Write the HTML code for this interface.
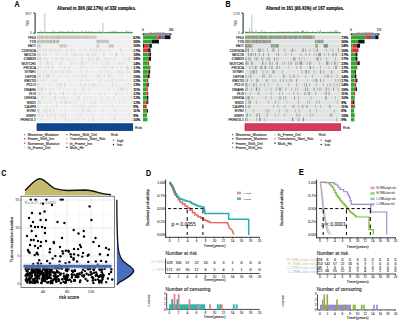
<!DOCTYPE html>
<html><head><meta charset="utf-8"><style>
html,body{margin:0;padding:0;background:#fff;}
svg{display:block;}
text{font-family:"Liberation Sans",sans-serif;}
</style></head><body>
<svg width="400" height="321" viewBox="0 0 400 321">
<rect width="400" height="321" fill="#fff"/>
<text x="57.00" y="9.70" font-size="4.7" text-anchor="start" font-weight="bold" fill="#000" stroke="#000" stroke-width="0.12" textLength="79" lengthAdjust="spacingAndGlyphs" >Altered in 306 (92.17%) of 332 samples.</text>
<line x1="35.10" y1="13.10" x2="35.10" y2="33.20" stroke="#000" stroke-width="0.9" />
<line x1="33.30" y1="13.10" x2="35.10" y2="13.10" stroke="#000" stroke-width="0.8" />
<line x1="33.30" y1="33.20" x2="35.10" y2="33.20" stroke="#000" stroke-width="0.8" />
<text x="31.70" y="14.60" font-size="2.9" text-anchor="end" font-weight="normal" fill="#666" stroke="#666" stroke-width="0.08" >3877</text>
<text x="31.70" y="34.20" font-size="2.6" text-anchor="end" font-weight="normal" fill="#666" stroke="#666" stroke-width="0.08" >0</text>
<text x="29.40" y="23.40" font-size="3.0" text-anchor="middle" font-weight="normal" fill="#666" stroke="#666" stroke-width="0.08" transform="rotate(-90 29.4 23.4)">TMB</text>
<path d="M37.00,33.1v-0.79h0.29v0.79zM37.29,33.1v-1.18h0.29v1.18zM37.58,33.1v-1.04h0.29v1.04zM37.86,33.1v-0.47h0.29v0.47zM38.15,33.1v-0.44h0.29v0.44zM38.44,33.1v-0.48h0.29v0.48zM38.73,33.1v-0.91h0.29v0.91zM39.02,33.1v-0.55h0.29v0.55zM39.31,33.1v-1.15h0.29v1.15zM39.59,33.1v-1.09h0.29v1.09zM39.88,33.1v-3.00h0.29v3.00zM40.17,33.1v-0.75h0.29v0.75zM40.46,33.1v-0.54h0.29v0.54zM40.75,33.1v-1.38h0.29v1.38zM41.04,33.1v-1.10h0.29v1.10zM41.32,33.1v-0.85h0.29v0.85zM41.61,33.1v-2.09h0.29v2.09zM41.90,33.1v-1.22h0.29v1.22zM42.19,33.1v-0.78h0.29v0.78zM42.48,33.1v-0.94h0.29v0.94zM42.77,33.1v-1.35h0.29v1.35zM43.05,33.1v-0.69h0.29v0.69zM43.34,33.1v-1.03h0.29v1.03zM43.63,33.1v-1.28h0.29v1.28zM43.92,33.1v-1.58h0.29v1.58zM44.21,33.1v-0.90h0.29v0.90zM44.49,33.1v-0.58h0.29v0.58zM44.78,33.1v-0.45h0.29v0.45zM45.07,33.1v-1.32h0.29v1.32zM45.36,33.1v-1.45h0.29v1.45zM45.65,33.1v-1.23h0.29v1.23zM45.94,33.1v-1.10h0.29v1.10zM46.22,33.1v-1.41h0.29v1.41zM46.51,33.1v-0.97h0.29v0.97zM46.80,33.1v-0.47h0.29v0.47zM47.09,33.1v-1.18h0.29v1.18zM47.38,33.1v-1.39h0.29v1.39zM47.67,33.1v-0.86h0.29v0.86zM47.95,33.1v-0.43h0.29v0.43zM48.24,33.1v-0.60h0.29v0.60zM48.53,33.1v-0.47h0.29v0.47zM48.82,33.1v-0.56h0.29v0.56zM49.11,33.1v-0.87h0.29v0.87zM49.39,33.1v-0.50h0.29v0.50zM49.68,33.1v-1.06h0.29v1.06zM49.97,33.1v-1.38h0.29v1.38zM50.26,33.1v-0.73h0.29v0.73zM50.55,33.1v-0.83h0.29v0.83zM50.84,33.1v-1.55h0.29v1.55zM51.12,33.1v-0.61h0.29v0.61zM51.41,33.1v-0.68h0.29v0.68zM51.70,33.1v-1.11h0.29v1.11zM51.99,33.1v-0.40h0.29v0.40zM52.28,33.1v-0.84h0.29v0.84zM52.57,33.1v-1.54h0.29v1.54zM52.85,33.1v-1.02h0.29v1.02zM53.14,33.1v-3.06h0.29v3.06zM53.43,33.1v-1.34h0.29v1.34zM53.72,33.1v-1.36h0.29v1.36zM54.01,33.1v-0.88h0.29v0.88zM54.30,33.1v-1.16h0.29v1.16zM54.58,33.1v-0.48h0.29v0.48zM54.87,33.1v-0.59h0.29v0.59zM55.16,33.1v-2.01h0.29v2.01zM55.45,33.1v-0.52h0.29v0.52zM55.74,33.1v-0.43h0.29v0.43zM56.02,33.1v-1.14h0.29v1.14zM56.31,33.1v-0.70h0.29v0.70zM56.60,33.1v-0.84h0.29v0.84zM56.89,33.1v-1.42h0.29v1.42zM57.18,33.1v-0.96h0.29v0.96zM57.47,33.1v-0.50h0.29v0.50zM57.75,33.1v-0.81h0.29v0.81zM58.04,33.1v-1.39h0.29v1.39zM58.33,33.1v-0.43h0.29v0.43zM58.62,33.1v-1.03h0.29v1.03zM58.91,33.1v-2.54h0.29v2.54zM59.20,33.1v-1.57h0.29v1.57zM59.48,33.1v-1.24h0.29v1.24zM59.77,33.1v-0.84h0.29v0.84zM60.06,33.1v-1.33h0.29v1.33zM60.35,33.1v-1.33h0.29v1.33zM60.64,33.1v-0.67h0.29v0.67zM60.92,33.1v-1.58h0.29v1.58zM61.21,33.1v-1.37h0.29v1.37zM61.50,33.1v-1.29h0.29v1.29zM61.79,33.1v-1.02h0.29v1.02zM62.08,33.1v-2.19h0.29v2.19zM62.37,33.1v-0.71h0.29v0.71zM62.65,33.1v-1.55h0.29v1.55zM62.94,33.1v-1.52h0.29v1.52zM63.23,33.1v-1.55h0.29v1.55zM63.52,33.1v-0.66h0.29v0.66zM63.81,33.1v-0.64h0.29v0.64zM64.10,33.1v-1.15h0.29v1.15zM64.38,33.1v-1.41h0.29v1.41zM64.67,33.1v-1.18h0.29v1.18zM64.96,33.1v-0.50h0.29v0.50zM65.25,33.1v-1.49h0.29v1.49zM65.54,33.1v-1.30h0.29v1.30zM65.83,33.1v-0.61h0.29v0.61zM66.11,33.1v-0.80h0.29v0.80zM66.40,33.1v-1.57h0.29v1.57zM66.69,33.1v-0.88h0.29v0.88zM66.98,33.1v-1.27h0.29v1.27zM67.27,33.1v-0.55h0.29v0.55zM67.55,33.1v-1.49h0.29v1.49zM67.84,33.1v-0.58h0.29v0.58zM68.13,33.1v-1.58h0.29v1.58zM68.42,33.1v-0.82h0.29v0.82zM68.71,33.1v-3.16h0.29v3.16zM69.00,33.1v-1.18h0.29v1.18zM69.28,33.1v-1.52h0.29v1.52zM69.57,33.1v-1.45h0.29v1.45zM69.86,33.1v-0.65h0.29v0.65zM70.15,33.1v-0.75h0.29v0.75zM70.44,33.1v-1.10h0.29v1.10zM70.73,33.1v-0.90h0.29v0.90zM71.01,33.1v-1.49h0.29v1.49zM71.30,33.1v-0.95h0.29v0.95zM71.59,33.1v-1.49h0.29v1.49zM71.88,33.1v-1.50h0.29v1.50zM72.17,33.1v-1.04h0.29v1.04zM72.46,33.1v-0.42h0.29v0.42zM72.74,33.1v-2.92h0.29v2.92zM73.03,33.1v-0.61h0.29v0.61zM73.32,33.1v-1.27h0.29v1.27zM73.61,33.1v-0.79h0.29v0.79zM73.90,33.1v-1.07h0.29v1.07zM74.18,33.1v-0.53h0.29v0.53zM74.47,33.1v-0.70h0.29v0.70zM74.76,33.1v-1.33h0.29v1.33zM75.05,33.1v-1.07h0.29v1.07zM75.34,33.1v-1.49h0.29v1.49zM75.63,33.1v-1.14h0.29v1.14zM75.91,33.1v-1.01h0.29v1.01zM76.20,33.1v-0.94h0.29v0.94zM76.49,33.1v-0.97h0.29v0.97zM76.78,33.1v-1.24h0.29v1.24zM77.07,33.1v-1.53h0.29v1.53zM77.36,33.1v-1.07h0.29v1.07zM77.64,33.1v-1.41h0.29v1.41zM77.93,33.1v-0.55h0.29v0.55zM78.22,33.1v-0.49h0.29v0.49zM78.51,33.1v-0.49h0.29v0.49zM78.80,33.1v-1.34h0.29v1.34zM79.08,33.1v-0.59h0.29v0.59zM79.37,33.1v-1.19h0.29v1.19zM79.66,33.1v-1.46h0.29v1.46zM79.95,33.1v-0.66h0.29v0.66zM80.24,33.1v-0.88h0.29v0.88zM80.53,33.1v-1.59h0.29v1.59zM80.81,33.1v-0.59h0.29v0.59zM81.10,33.1v-1.02h0.29v1.02zM81.39,33.1v-0.63h0.29v0.63zM81.68,33.1v-2.58h0.29v2.58zM81.97,33.1v-2.26h0.29v2.26zM82.26,33.1v-1.15h0.29v1.15zM82.54,33.1v-0.48h0.29v0.48zM82.83,33.1v-1.35h0.29v1.35zM83.12,33.1v-0.53h0.29v0.53zM83.41,33.1v-0.45h0.29v0.45zM83.70,33.1v-0.72h0.29v0.72zM83.99,33.1v-0.91h0.29v0.91zM84.27,33.1v-1.38h0.29v1.38zM84.56,33.1v-0.58h0.29v0.58zM84.85,33.1v-1.08h0.29v1.08zM85.14,33.1v-2.76h0.29v2.76zM85.43,33.1v-0.91h0.29v0.91zM85.71,33.1v-1.53h0.29v1.53zM86.00,33.1v-1.36h0.29v1.36zM86.29,33.1v-1.43h0.29v1.43zM86.58,33.1v-1.44h0.29v1.44zM86.87,33.1v-0.81h0.29v0.81zM87.16,33.1v-1.51h0.29v1.51zM87.44,33.1v-0.56h0.29v0.56zM87.73,33.1v-0.69h0.29v0.69zM88.02,33.1v-2.08h0.29v2.08zM88.31,33.1v-0.77h0.29v0.77zM88.60,33.1v-1.31h0.29v1.31zM88.89,33.1v-1.00h0.29v1.00zM89.17,33.1v-2.15h0.29v2.15zM89.46,33.1v-0.42h0.29v0.42zM89.75,33.1v-1.06h0.29v1.06zM90.04,33.1v-0.97h0.29v0.97zM90.33,33.1v-0.53h0.29v0.53zM90.62,33.1v-0.92h0.29v0.92zM90.90,33.1v-1.40h0.29v1.40zM91.19,33.1v-1.01h0.29v1.01zM91.48,33.1v-1.58h0.29v1.58zM91.77,33.1v-1.40h0.29v1.40zM92.06,33.1v-1.16h0.29v1.16zM92.34,33.1v-1.98h0.29v1.98zM92.63,33.1v-0.48h0.29v0.48zM92.92,33.1v-0.71h0.29v0.71zM93.21,33.1v-0.50h0.29v0.50zM93.50,33.1v-1.44h0.29v1.44zM93.79,33.1v-0.74h0.29v0.74zM94.07,33.1v-0.75h0.29v0.75zM94.36,33.1v-0.59h0.29v0.59zM94.65,33.1v-0.72h0.29v0.72zM94.94,33.1v-1.57h0.29v1.57zM95.23,33.1v-0.69h0.29v0.69zM95.52,33.1v-0.77h0.29v0.77zM95.80,33.1v-0.40h0.29v0.40zM96.09,33.1v-0.97h0.29v0.97zM96.38,33.1v-0.64h0.29v0.64zM96.67,33.1v-0.41h0.29v0.41zM96.96,33.1v-0.51h0.29v0.51zM97.24,33.1v-2.23h0.29v2.23zM97.53,33.1v-0.68h0.29v0.68zM97.82,33.1v-1.04h0.29v1.04zM98.11,33.1v-1.19h0.29v1.19zM98.40,33.1v-1.45h0.29v1.45zM98.69,33.1v-0.79h0.29v0.79zM98.97,33.1v-0.58h0.29v0.58zM99.26,33.1v-2.97h0.29v2.97zM99.55,33.1v-1.47h0.29v1.47zM99.84,33.1v-1.28h0.29v1.28zM100.13,33.1v-0.57h0.29v0.57zM100.42,33.1v-1.01h0.29v1.01zM100.70,33.1v-1.37h0.29v1.37zM100.99,33.1v-1.10h0.29v1.10zM101.28,33.1v-1.22h0.29v1.22zM101.57,33.1v-1.99h0.29v1.99zM101.86,33.1v-0.83h0.29v0.83zM102.15,33.1v-1.40h0.29v1.40zM102.43,33.1v-1.15h0.29v1.15zM102.72,33.1v-1.22h0.29v1.22zM103.01,33.1v-0.40h0.29v0.40zM103.30,33.1v-1.30h0.29v1.30zM103.59,33.1v-1.04h0.29v1.04zM103.87,33.1v-0.48h0.29v0.48zM104.16,33.1v-0.70h0.29v0.70zM104.45,33.1v-0.72h0.29v0.72zM104.74,33.1v-0.65h0.29v0.65zM105.03,33.1v-1.57h0.29v1.57zM105.32,33.1v-0.86h0.29v0.86zM105.60,33.1v-1.22h0.29v1.22zM105.89,33.1v-1.14h0.29v1.14zM106.18,33.1v-0.49h0.29v0.49zM106.47,33.1v-0.70h0.29v0.70zM106.76,33.1v-0.77h0.29v0.77zM107.05,33.1v-0.41h0.29v0.41zM107.33,33.1v-0.72h0.29v0.72zM107.62,33.1v-1.23h0.29v1.23zM107.91,33.1v-0.75h0.29v0.75zM108.20,33.1v-0.96h0.29v0.96zM108.49,33.1v-0.54h0.29v0.54zM108.77,33.1v-0.64h0.29v0.64zM109.06,33.1v-2.44h0.29v2.44zM109.35,33.1v-1.38h0.29v1.38zM109.64,33.1v-0.94h0.29v0.94zM109.93,33.1v-0.65h0.29v0.65zM110.22,33.1v-0.65h0.29v0.65zM110.50,33.1v-0.57h0.29v0.57zM110.79,33.1v-1.54h0.29v1.54zM111.08,33.1v-1.38h0.29v1.38zM111.37,33.1v-1.46h0.29v1.46zM111.66,33.1v-0.68h0.29v0.68zM111.95,33.1v-1.81h0.29v1.81zM112.23,33.1v-0.99h0.29v0.99zM112.52,33.1v-0.76h0.29v0.76zM112.81,33.1v-0.81h0.29v0.81zM113.10,33.1v-2.85h0.29v2.85zM113.39,33.1v-1.41h0.29v1.41zM113.68,33.1v-1.51h0.29v1.51zM113.96,33.1v-1.48h0.29v1.48zM114.25,33.1v-0.85h0.29v0.85zM114.54,33.1v-1.60h0.29v1.60zM114.83,33.1v-0.83h0.29v0.83zM115.12,33.1v-1.94h0.29v1.94zM115.40,33.1v-1.40h0.29v1.40zM115.69,33.1v-1.52h0.29v1.52zM115.98,33.1v-0.72h0.29v0.72zM116.27,33.1v-0.63h0.29v0.63zM116.56,33.1v-1.55h0.29v1.55zM116.85,33.1v-1.37h0.29v1.37zM117.13,33.1v-1.50h0.29v1.50zM117.42,33.1v-1.06h0.29v1.06zM117.71,33.1v-0.46h0.29v0.46zM118.00,33.1v-0.94h0.29v0.94zM118.29,33.1v-1.17h0.29v1.17zM118.58,33.1v-0.46h0.29v0.46zM118.86,33.1v-0.55h0.29v0.55zM119.15,33.1v-0.81h0.29v0.81zM119.44,33.1v-1.29h0.29v1.29zM119.73,33.1v-0.71h0.29v0.71zM120.02,33.1v-0.76h0.29v0.76zM120.31,33.1v-0.87h0.29v0.87zM120.59,33.1v-0.59h0.29v0.59zM120.88,33.1v-1.49h0.29v1.49zM121.17,33.1v-0.66h0.29v0.66zM121.46,33.1v-1.60h0.29v1.60zM121.75,33.1v-0.57h0.29v0.57zM122.03,33.1v-0.51h0.29v0.51zM122.32,33.1v-0.51h0.29v0.51zM122.61,33.1v-0.71h0.29v0.71zM122.90,33.1v-1.46h0.29v1.46zM123.19,33.1v-0.90h0.29v0.90zM123.48,33.1v-1.03h0.29v1.03zM123.76,33.1v-0.81h0.29v0.81zM124.05,33.1v-0.73h0.29v0.73zM124.34,33.1v-0.55h0.29v0.55zM124.63,33.1v-1.16h0.29v1.16zM124.92,33.1v-0.66h0.29v0.66zM125.21,33.1v-0.70h0.29v0.70zM125.49,33.1v-0.94h0.29v0.94zM125.78,33.1v-1.42h0.29v1.42zM126.07,33.1v-2.79h0.29v2.79zM126.36,33.1v-1.47h0.29v1.47zM126.65,33.1v-2.35h0.29v2.35zM126.93,33.1v-1.51h0.29v1.51zM127.22,33.1v-1.43h0.29v1.43zM127.51,33.1v-0.70h0.29v0.70zM127.80,33.1v-0.59h0.29v0.59zM128.09,33.1v-1.22h0.29v1.22zM128.38,33.1v-1.27h0.29v1.27zM128.66,33.1v-1.32h0.29v1.32zM128.95,33.1v-2.90h0.29v2.90zM129.24,33.1v-0.68h0.29v0.68zM129.53,33.1v-1.17h0.29v1.17zM129.82,33.1v-0.55h0.29v0.55zM130.11,33.1v-1.16h0.29v1.16zM130.39,33.1v-0.53h0.29v0.53zM130.68,33.1v-1.03h0.29v1.03zM130.97,33.1v-0.87h0.29v0.87zM131.26,33.1v-2.22h0.29v2.22zM131.55,33.1v-0.95h0.29v0.95zM131.84,33.1v-1.17h0.29v1.17zM132.12,33.1v-0.97h0.29v0.97zM132.41,33.1v-0.70h0.29v0.70z" fill="#3e9a3e"/>
<rect x="37.00" y="32.30" width="95.70" height="1.00" fill="#3f9a3f" />
<rect x="44.40" y="13.30" width="0.90" height="19.80" fill="#a8c8a4" />
<rect x="102.50" y="23.10" width="0.90" height="10.00" fill="#a8c8a4" />
<rect x="37.00" y="35.20" width="95.70" height="4.00" fill="#efeff0" />
<rect x="37.00" y="35.50" width="0.29" height="3.40" fill="#a08878" fill-opacity="0.62"/>
<rect x="37.29" y="35.50" width="0.29" height="3.40" fill="#a08878" fill-opacity="0.57"/>
<rect x="37.58" y="35.50" width="0.29" height="3.40" fill="#a08878" fill-opacity="0.55"/>
<rect x="37.86" y="35.50" width="0.29" height="3.40" fill="#a08878" fill-opacity="0.33"/>
<rect x="38.15" y="35.50" width="0.29" height="3.40" fill="#a08878" fill-opacity="0.54"/>
<rect x="38.44" y="35.50" width="0.29" height="3.40" fill="#a08878" fill-opacity="0.29"/>
<rect x="38.73" y="35.50" width="0.58" height="3.40" fill="#a08878" fill-opacity="0.37"/>
<rect x="39.31" y="35.50" width="0.29" height="3.40" fill="#a08878" fill-opacity="0.58"/>
<rect x="39.59" y="35.50" width="0.29" height="3.40" fill="#a08878" fill-opacity="0.41"/>
<rect x="39.88" y="35.50" width="0.86" height="3.40" fill="#a08878" fill-opacity="0.39"/>
<rect x="40.75" y="35.50" width="0.58" height="3.40" fill="#a08878" fill-opacity="0.59"/>
<rect x="41.32" y="35.50" width="0.29" height="3.40" fill="#a08878" fill-opacity="0.44"/>
<rect x="41.61" y="35.50" width="0.29" height="3.40" fill="#a08878" fill-opacity="0.50"/>
<rect x="41.90" y="35.50" width="0.29" height="3.40" fill="#a08878" fill-opacity="0.50"/>
<rect x="42.19" y="35.50" width="0.29" height="3.40" fill="#a08878" fill-opacity="0.60"/>
<rect x="42.48" y="35.50" width="0.29" height="3.40" fill="#a08878" fill-opacity="0.62"/>
<rect x="42.77" y="35.50" width="0.58" height="3.40" fill="#a08878" fill-opacity="0.32"/>
<rect x="43.34" y="35.50" width="0.29" height="3.40" fill="#a08878" fill-opacity="0.40"/>
<rect x="43.63" y="35.50" width="0.29" height="3.40" fill="#a08878" fill-opacity="0.57"/>
<rect x="43.92" y="35.50" width="0.29" height="3.40" fill="#a08878" fill-opacity="0.53"/>
<rect x="44.21" y="35.50" width="0.29" height="3.40" fill="#a08878" fill-opacity="0.61"/>
<rect x="44.49" y="35.50" width="0.86" height="3.40" fill="#a08878" fill-opacity="0.26"/>
<rect x="45.36" y="35.50" width="0.29" height="3.40" fill="#a08878" fill-opacity="0.53"/>
<rect x="45.65" y="35.50" width="0.29" height="3.40" fill="#a08878" fill-opacity="0.44"/>
<rect x="45.94" y="35.50" width="0.86" height="3.40" fill="#a08878" fill-opacity="0.65"/>
<rect x="46.80" y="35.50" width="0.29" height="3.40" fill="#a08878" fill-opacity="0.41"/>
<rect x="47.09" y="35.50" width="0.29" height="3.40" fill="#a08878" fill-opacity="0.61"/>
<rect x="47.38" y="35.50" width="0.29" height="3.40" fill="#a08878" fill-opacity="0.29"/>
<rect x="47.67" y="35.50" width="0.29" height="3.40" fill="#a08878" fill-opacity="0.37"/>
<rect x="47.95" y="35.50" width="0.29" height="3.40" fill="#a08878" fill-opacity="0.36"/>
<rect x="48.24" y="35.50" width="0.29" height="3.40" fill="#a08878" fill-opacity="0.49"/>
<rect x="48.53" y="35.50" width="0.86" height="3.40" fill="#a08878" fill-opacity="0.34"/>
<rect x="49.39" y="35.50" width="0.29" height="3.40" fill="#a08878" fill-opacity="0.52"/>
<rect x="49.68" y="35.50" width="0.29" height="3.40" fill="#a08878" fill-opacity="0.41"/>
<rect x="49.97" y="35.50" width="0.29" height="3.40" fill="#a08878" fill-opacity="0.49"/>
<rect x="50.26" y="35.50" width="0.86" height="3.40" fill="#a08878" fill-opacity="0.42"/>
<rect x="51.12" y="35.50" width="0.86" height="3.40" fill="#a08878" fill-opacity="0.55"/>
<rect x="51.99" y="35.50" width="0.86" height="3.40" fill="#a08878" fill-opacity="0.31"/>
<rect x="52.85" y="35.50" width="0.29" height="3.40" fill="#a08878" fill-opacity="0.55"/>
<rect x="53.14" y="35.50" width="0.29" height="3.40" fill="#a08878" fill-opacity="0.47"/>
<rect x="53.43" y="35.50" width="0.29" height="3.40" fill="#a08878" fill-opacity="0.50"/>
<rect x="53.72" y="35.50" width="0.58" height="3.40" fill="#a08878" fill-opacity="0.63"/>
<rect x="54.30" y="35.50" width="0.29" height="3.40" fill="#a08878" fill-opacity="0.48"/>
<rect x="54.58" y="35.50" width="0.58" height="3.40" fill="#a08878" fill-opacity="0.34"/>
<rect x="55.16" y="35.50" width="0.29" height="3.40" fill="#a08878" fill-opacity="0.45"/>
<rect x="55.45" y="35.50" width="0.86" height="3.40" fill="#a08878" fill-opacity="0.46"/>
<rect x="56.31" y="35.50" width="0.29" height="3.40" fill="#a08878" fill-opacity="0.62"/>
<rect x="56.60" y="35.50" width="0.29" height="3.40" fill="#a08878" fill-opacity="0.52"/>
<rect x="56.89" y="35.50" width="0.29" height="3.40" fill="#a08878" fill-opacity="0.48"/>
<rect x="57.18" y="35.50" width="0.29" height="3.40" fill="#a08878" fill-opacity="0.62"/>
<rect x="57.47" y="35.50" width="0.29" height="3.40" fill="#a08878" fill-opacity="0.29"/>
<rect x="57.75" y="35.50" width="0.29" height="3.40" fill="#a08878" fill-opacity="0.56"/>
<rect x="58.04" y="35.50" width="0.29" height="3.40" fill="#a08878" fill-opacity="0.51"/>
<rect x="58.33" y="35.50" width="0.86" height="3.40" fill="#a08878" fill-opacity="0.61"/>
<rect x="59.20" y="35.50" width="0.29" height="3.40" fill="#a08878" fill-opacity="0.60"/>
<rect x="59.48" y="35.50" width="0.29" height="3.40" fill="#a08878" fill-opacity="0.48"/>
<rect x="59.77" y="35.50" width="0.29" height="3.40" fill="#a08878" fill-opacity="0.53"/>
<rect x="60.06" y="35.50" width="0.58" height="3.40" fill="#a08878" fill-opacity="0.64"/>
<rect x="60.64" y="35.50" width="0.29" height="3.40" fill="#a08878" fill-opacity="0.52"/>
<rect x="60.92" y="35.50" width="0.58" height="3.40" fill="#a08878" fill-opacity="0.26"/>
<rect x="61.50" y="35.50" width="0.29" height="3.40" fill="#a08878" fill-opacity="0.38"/>
<rect x="61.79" y="35.50" width="0.29" height="3.40" fill="#a08878" fill-opacity="0.56"/>
<rect x="62.08" y="35.50" width="0.58" height="3.40" fill="#a08878" fill-opacity="0.39"/>
<rect x="62.65" y="35.50" width="0.29" height="3.40" fill="#a08878" fill-opacity="0.62"/>
<rect x="62.94" y="35.50" width="0.29" height="3.40" fill="#a08878" fill-opacity="0.42"/>
<rect x="63.23" y="35.50" width="0.29" height="3.40" fill="#a08878" fill-opacity="0.55"/>
<rect x="63.52" y="35.50" width="0.29" height="3.40" fill="#a08878" fill-opacity="0.65"/>
<rect x="63.81" y="35.50" width="0.86" height="3.40" fill="#a08878" fill-opacity="0.50"/>
<rect x="64.67" y="35.50" width="0.29" height="3.40" fill="#a08878" fill-opacity="0.34"/>
<rect x="64.96" y="35.50" width="0.29" height="3.40" fill="#a08878" fill-opacity="0.46"/>
<rect x="65.25" y="35.50" width="0.86" height="3.40" fill="#a08878" fill-opacity="0.39"/>
<rect x="66.11" y="35.50" width="0.58" height="3.40" fill="#a08878" fill-opacity="0.63"/>
<rect x="66.69" y="35.50" width="0.29" height="3.40" fill="#a08878" fill-opacity="0.43"/>
<rect x="66.98" y="35.50" width="0.58" height="3.40" fill="#a08878" fill-opacity="0.39"/>
<rect x="67.55" y="35.50" width="0.58" height="3.40" fill="#a08878" fill-opacity="0.45"/>
<rect x="68.13" y="35.50" width="0.86" height="3.40" fill="#a08878" fill-opacity="0.53"/>
<rect x="69.00" y="35.50" width="0.29" height="3.40" fill="#a08878" fill-opacity="0.59"/>
<rect x="69.28" y="35.50" width="0.29" height="3.40" fill="#a08878" fill-opacity="0.50"/>
<rect x="69.57" y="35.50" width="0.29" height="3.40" fill="#a08878" fill-opacity="0.45"/>
<rect x="69.86" y="35.50" width="0.29" height="3.40" fill="#a08878" fill-opacity="0.52"/>
<rect x="70.15" y="35.50" width="0.29" height="3.40" fill="#a08878" fill-opacity="0.33"/>
<rect x="70.44" y="35.50" width="0.29" height="3.40" fill="#a08878" fill-opacity="0.52"/>
<rect x="70.73" y="35.50" width="0.29" height="3.40" fill="#a08878" fill-opacity="0.59"/>
<rect x="71.01" y="35.50" width="0.29" height="3.40" fill="#a08878" fill-opacity="0.56"/>
<rect x="71.30" y="35.50" width="0.29" height="3.40" fill="#a08878" fill-opacity="0.45"/>
<rect x="71.59" y="35.50" width="0.29" height="3.40" fill="#a08878" fill-opacity="0.33"/>
<rect x="71.88" y="35.50" width="0.58" height="3.40" fill="#a08878" fill-opacity="0.63"/>
<rect x="72.46" y="35.50" width="0.29" height="3.40" fill="#a08878" fill-opacity="0.58"/>
<rect x="72.74" y="35.50" width="0.29" height="3.40" fill="#a08878" fill-opacity="0.47"/>
<rect x="73.03" y="35.50" width="0.86" height="3.40" fill="#a08878" fill-opacity="0.32"/>
<rect x="73.90" y="35.50" width="0.58" height="3.40" fill="#a08878" fill-opacity="0.32"/>
<rect x="74.47" y="35.50" width="0.86" height="3.40" fill="#a08878" fill-opacity="0.56"/>
<rect x="75.34" y="35.50" width="0.29" height="3.40" fill="#a08878" fill-opacity="0.34"/>
<rect x="75.63" y="35.50" width="0.86" height="3.40" fill="#a08878" fill-opacity="0.35"/>
<rect x="76.49" y="35.50" width="0.86" height="3.40" fill="#a08878" fill-opacity="0.64"/>
<rect x="77.36" y="35.50" width="0.29" height="3.40" fill="#a08878" fill-opacity="0.32"/>
<rect x="77.64" y="35.50" width="0.29" height="3.40" fill="#a08878" fill-opacity="0.39"/>
<rect x="77.93" y="35.50" width="0.29" height="3.40" fill="#a08878" fill-opacity="0.29"/>
<rect x="78.22" y="35.50" width="0.29" height="3.40" fill="#a08878" fill-opacity="0.50"/>
<rect x="78.51" y="35.50" width="0.29" height="3.40" fill="#a08878" fill-opacity="0.30"/>
<rect x="78.80" y="35.50" width="0.29" height="3.40" fill="#a08878" fill-opacity="0.52"/>
<rect x="79.08" y="35.50" width="0.29" height="3.40" fill="#a08878" fill-opacity="0.44"/>
<rect x="79.37" y="35.50" width="0.58" height="3.40" fill="#a08878" fill-opacity="0.44"/>
<rect x="79.95" y="35.50" width="0.29" height="3.40" fill="#a08878" fill-opacity="0.53"/>
<rect x="80.24" y="35.50" width="0.86" height="3.40" fill="#a08878" fill-opacity="0.25"/>
<rect x="81.10" y="35.50" width="0.29" height="3.40" fill="#a08878" fill-opacity="0.53"/>
<rect x="81.39" y="35.50" width="0.29" height="3.40" fill="#a08878" fill-opacity="0.30"/>
<rect x="81.68" y="35.50" width="0.29" height="3.40" fill="#a08878" fill-opacity="0.51"/>
<rect x="81.97" y="35.50" width="0.29" height="3.40" fill="#a08878" fill-opacity="0.53"/>
<rect x="82.26" y="35.50" width="0.86" height="3.40" fill="#a08878" fill-opacity="0.30"/>
<rect x="83.12" y="35.50" width="0.86" height="3.40" fill="#a08878" fill-opacity="0.53"/>
<rect x="83.99" y="35.50" width="0.29" height="3.40" fill="#a08878" fill-opacity="0.49"/>
<rect x="84.27" y="35.50" width="0.29" height="3.40" fill="#a08878" fill-opacity="0.35"/>
<rect x="84.56" y="35.50" width="0.29" height="3.40" fill="#a08878" fill-opacity="0.50"/>
<rect x="84.85" y="35.50" width="0.29" height="3.40" fill="#a08878" fill-opacity="0.30"/>
<rect x="85.14" y="35.50" width="0.86" height="3.40" fill="#a08878" fill-opacity="0.42"/>
<rect x="86.00" y="35.50" width="0.29" height="3.40" fill="#a08878" fill-opacity="0.63"/>
<rect x="86.29" y="35.50" width="0.29" height="3.40" fill="#a08878" fill-opacity="0.52"/>
<rect x="86.58" y="35.50" width="0.29" height="3.40" fill="#a08878" fill-opacity="0.31"/>
<rect x="86.87" y="35.50" width="0.29" height="3.40" fill="#a08878" fill-opacity="0.64"/>
<rect x="87.16" y="35.50" width="0.29" height="3.40" fill="#a08878" fill-opacity="0.59"/>
<rect x="87.44" y="35.50" width="0.58" height="3.40" fill="#a08878" fill-opacity="0.41"/>
<rect x="88.02" y="35.50" width="0.29" height="3.40" fill="#a08878" fill-opacity="0.33"/>
<rect x="88.31" y="35.50" width="0.29" height="3.40" fill="#a08878" fill-opacity="0.53"/>
<rect x="88.60" y="35.50" width="0.29" height="3.40" fill="#a08878" fill-opacity="0.25"/>
<rect x="88.89" y="35.50" width="0.86" height="3.40" fill="#a08878" fill-opacity="0.44"/>
<rect x="89.75" y="35.50" width="0.86" height="3.40" fill="#a08878" fill-opacity="0.27"/>
<rect x="90.62" y="35.50" width="0.29" height="3.40" fill="#a08878" fill-opacity="0.61"/>
<rect x="90.90" y="35.50" width="0.29" height="3.40" fill="#a08878" fill-opacity="0.37"/>
<rect x="91.19" y="35.50" width="0.86" height="3.40" fill="#a08878" fill-opacity="0.29"/>
<rect x="92.06" y="35.50" width="0.29" height="3.40" fill="#a08878" fill-opacity="0.37"/>
<rect x="92.34" y="35.50" width="0.29" height="3.40" fill="#a08878" fill-opacity="0.64"/>
<rect x="92.63" y="35.50" width="0.29" height="3.40" fill="#a08878" fill-opacity="0.31"/>
<rect x="92.92" y="35.50" width="0.29" height="3.40" fill="#a08878" fill-opacity="0.43"/>
<rect x="93.21" y="35.50" width="0.29" height="3.40" fill="#a08878" fill-opacity="0.48"/>
<rect x="93.50" y="35.50" width="0.58" height="3.40" fill="#a08878" fill-opacity="0.37"/>
<rect x="94.07" y="35.50" width="0.29" height="3.40" fill="#a08878" fill-opacity="0.47"/>
<rect x="94.36" y="35.50" width="0.86" height="3.40" fill="#a08878" fill-opacity="0.27"/>
<rect x="95.23" y="35.50" width="0.86" height="3.40" fill="#a08878" fill-opacity="0.44"/>
<rect x="96.09" y="35.50" width="0.29" height="3.40" fill="#a08878" fill-opacity="0.64"/>
<text x="36.00" y="38.70" font-size="3.5" text-anchor="end" font-weight="normal" fill="#333" stroke="#333" stroke-width="0.18" >TP53</text>
<text x="133.20" y="38.60" font-size="3.5" text-anchor="start" font-weight="normal" fill="#222" stroke="#222" stroke-width="0.22" >62%</text>
<rect x="143.00" y="35.30" width="14.57" height="3.80" fill="#33a532" />
<rect x="157.57" y="35.30" width="3.57" height="3.80" fill="#d93035" />
<rect x="161.15" y="35.30" width="3.85" height="3.80" fill="#2f7fb8" />
<rect x="165.00" y="35.30" width="5.50" height="3.80" fill="#111111" />
<rect x="37.00" y="39.53" width="95.70" height="4.00" fill="#efeff0" />
<rect x="37.00" y="39.83" width="0.29" height="3.40" fill="#7a8a70" fill-opacity="0.44"/>
<rect x="37.29" y="39.83" width="0.58" height="3.40" fill="#7a8a70" fill-opacity="0.55"/>
<rect x="37.86" y="39.83" width="0.29" height="3.40" fill="#7a8a70" fill-opacity="0.38"/>
<rect x="38.15" y="39.83" width="0.29" height="3.40" fill="#7a8a70" fill-opacity="0.55"/>
<rect x="38.44" y="39.83" width="0.29" height="3.40" fill="#7a8a70" fill-opacity="0.36"/>
<rect x="38.73" y="39.83" width="0.29" height="3.40" fill="#7a8a70" fill-opacity="0.51"/>
<rect x="39.02" y="39.83" width="0.29" height="3.40" fill="#7a8a70" fill-opacity="0.63"/>
<rect x="39.31" y="39.83" width="0.86" height="3.40" fill="#7a8a70" fill-opacity="0.45"/>
<rect x="40.17" y="39.83" width="0.29" height="3.40" fill="#7a8a70" fill-opacity="0.56"/>
<rect x="40.46" y="39.83" width="0.58" height="3.40" fill="#7a8a70" fill-opacity="0.38"/>
<rect x="41.04" y="39.83" width="0.29" height="3.40" fill="#7a8a70" fill-opacity="0.39"/>
<rect x="41.32" y="39.83" width="0.29" height="3.40" fill="#7a8a70" fill-opacity="0.29"/>
<rect x="41.61" y="39.83" width="0.29" height="3.40" fill="#7a8a70" fill-opacity="0.36"/>
<rect x="41.90" y="39.83" width="0.29" height="3.40" fill="#7a8a70" fill-opacity="0.50"/>
<rect x="42.19" y="39.83" width="0.29" height="3.40" fill="#7a8a70" fill-opacity="0.54"/>
<rect x="42.48" y="39.83" width="0.29" height="3.40" fill="#7a8a70" fill-opacity="0.53"/>
<rect x="42.77" y="39.83" width="0.29" height="3.40" fill="#7a8a70" fill-opacity="0.51"/>
<rect x="43.05" y="39.83" width="0.29" height="3.40" fill="#7a8a70" fill-opacity="0.28"/>
<rect x="43.34" y="39.83" width="0.58" height="3.40" fill="#7a8a70" fill-opacity="0.55"/>
<rect x="43.92" y="39.83" width="0.29" height="3.40" fill="#7a8a70" fill-opacity="0.26"/>
<rect x="44.21" y="39.83" width="0.86" height="3.40" fill="#7a8a70" fill-opacity="0.41"/>
<rect x="45.07" y="39.83" width="0.29" height="3.40" fill="#7a8a70" fill-opacity="0.31"/>
<rect x="45.36" y="39.83" width="0.29" height="3.40" fill="#7a8a70" fill-opacity="0.40"/>
<rect x="45.65" y="39.83" width="0.29" height="3.40" fill="#7a8a70" fill-opacity="0.63"/>
<rect x="45.94" y="39.83" width="0.29" height="3.40" fill="#7a8a70" fill-opacity="0.46"/>
<rect x="46.22" y="39.83" width="0.29" height="3.40" fill="#7a8a70" fill-opacity="0.61"/>
<rect x="46.51" y="39.83" width="0.29" height="3.40" fill="#7a8a70" fill-opacity="0.52"/>
<rect x="46.80" y="39.83" width="0.58" height="3.40" fill="#7a8a70" fill-opacity="0.29"/>
<rect x="47.38" y="39.83" width="0.29" height="3.40" fill="#7a8a70" fill-opacity="0.54"/>
<rect x="47.67" y="39.83" width="0.29" height="3.40" fill="#7a8a70" fill-opacity="0.37"/>
<rect x="47.95" y="39.83" width="0.29" height="3.40" fill="#7a8a70" fill-opacity="0.50"/>
<rect x="48.24" y="39.83" width="0.29" height="3.40" fill="#7a8a70" fill-opacity="0.40"/>
<rect x="48.53" y="39.83" width="0.86" height="3.40" fill="#7a8a70" fill-opacity="0.51"/>
<rect x="49.39" y="39.83" width="0.29" height="3.40" fill="#7a8a70" fill-opacity="0.39"/>
<rect x="49.68" y="39.83" width="0.29" height="3.40" fill="#7a8a70" fill-opacity="0.34"/>
<rect x="49.97" y="39.83" width="0.29" height="3.40" fill="#7a8a70" fill-opacity="0.30"/>
<rect x="50.26" y="39.83" width="0.86" height="3.40" fill="#7a8a70" fill-opacity="0.62"/>
<rect x="51.12" y="39.83" width="0.86" height="3.40" fill="#7a8a70" fill-opacity="0.59"/>
<rect x="51.99" y="39.83" width="0.29" height="3.40" fill="#7a8a70" fill-opacity="0.35"/>
<rect x="52.28" y="39.83" width="0.29" height="3.40" fill="#7a8a70" fill-opacity="0.27"/>
<rect x="52.57" y="39.83" width="0.58" height="3.40" fill="#7a8a70" fill-opacity="0.29"/>
<rect x="53.14" y="39.83" width="0.58" height="3.40" fill="#7a8a70" fill-opacity="0.57"/>
<rect x="53.72" y="39.83" width="0.29" height="3.40" fill="#7a8a70" fill-opacity="0.62"/>
<rect x="54.01" y="39.83" width="0.86" height="3.40" fill="#7a8a70" fill-opacity="0.65"/>
<rect x="54.87" y="39.83" width="0.29" height="3.40" fill="#7a8a70" fill-opacity="0.41"/>
<rect x="55.16" y="39.83" width="0.29" height="3.40" fill="#7a8a70" fill-opacity="0.27"/>
<rect x="55.45" y="39.83" width="0.86" height="3.40" fill="#7a8a70" fill-opacity="0.34"/>
<rect x="56.31" y="39.83" width="0.29" height="3.40" fill="#7a8a70" fill-opacity="0.42"/>
<rect x="56.60" y="39.83" width="0.58" height="3.40" fill="#7a8a70" fill-opacity="0.54"/>
<rect x="57.18" y="39.83" width="0.86" height="3.40" fill="#7a8a70" fill-opacity="0.65"/>
<rect x="58.04" y="39.83" width="0.86" height="3.40" fill="#7a8a70" fill-opacity="0.49"/>
<rect x="58.91" y="39.83" width="0.29" height="3.40" fill="#7a8a70" fill-opacity="0.50"/>
<rect x="96.38" y="39.83" width="0.29" height="3.40" fill="#7a8a70" fill-opacity="0.31"/>
<rect x="96.67" y="39.83" width="0.29" height="3.40" fill="#7a8a70" fill-opacity="0.34"/>
<rect x="96.96" y="39.83" width="0.29" height="3.40" fill="#7a8a70" fill-opacity="0.31"/>
<rect x="97.24" y="39.83" width="0.29" height="3.40" fill="#7a8a70" fill-opacity="0.50"/>
<rect x="97.53" y="39.83" width="0.29" height="3.40" fill="#7a8a70" fill-opacity="0.41"/>
<rect x="97.82" y="39.83" width="0.58" height="3.40" fill="#7a8a70" fill-opacity="0.64"/>
<rect x="98.40" y="39.83" width="0.29" height="3.40" fill="#7a8a70" fill-opacity="0.59"/>
<rect x="98.69" y="39.83" width="0.86" height="3.40" fill="#7a8a70" fill-opacity="0.44"/>
<rect x="99.55" y="39.83" width="0.29" height="3.40" fill="#7a8a70" fill-opacity="0.34"/>
<rect x="99.84" y="39.83" width="0.58" height="3.40" fill="#7a8a70" fill-opacity="0.40"/>
<rect x="100.42" y="39.83" width="0.29" height="3.40" fill="#7a8a70" fill-opacity="0.26"/>
<rect x="100.70" y="39.83" width="0.58" height="3.40" fill="#7a8a70" fill-opacity="0.49"/>
<rect x="101.28" y="39.83" width="0.29" height="3.40" fill="#7a8a70" fill-opacity="0.58"/>
<rect x="101.57" y="39.83" width="0.58" height="3.40" fill="#7a8a70" fill-opacity="0.45"/>
<rect x="102.15" y="39.83" width="0.29" height="3.40" fill="#7a8a70" fill-opacity="0.31"/>
<rect x="102.43" y="39.83" width="0.29" height="3.40" fill="#7a8a70" fill-opacity="0.28"/>
<rect x="102.72" y="39.83" width="0.29" height="3.40" fill="#7a8a70" fill-opacity="0.27"/>
<rect x="103.01" y="39.83" width="0.29" height="3.40" fill="#7a8a70" fill-opacity="0.53"/>
<rect x="103.30" y="39.83" width="0.58" height="3.40" fill="#7a8a70" fill-opacity="0.61"/>
<rect x="103.87" y="39.83" width="0.29" height="3.40" fill="#7a8a70" fill-opacity="0.28"/>
<rect x="104.16" y="39.83" width="0.29" height="3.40" fill="#7a8a70" fill-opacity="0.25"/>
<rect x="104.45" y="39.83" width="0.29" height="3.40" fill="#7a8a70" fill-opacity="0.63"/>
<rect x="104.74" y="39.83" width="0.29" height="3.40" fill="#7a8a70" fill-opacity="0.32"/>
<rect x="105.03" y="39.83" width="0.29" height="3.40" fill="#7a8a70" fill-opacity="0.54"/>
<rect x="105.32" y="39.83" width="0.58" height="3.40" fill="#7a8a70" fill-opacity="0.40"/>
<rect x="105.89" y="39.83" width="0.86" height="3.40" fill="#7a8a70" fill-opacity="0.25"/>
<rect x="106.76" y="39.83" width="0.29" height="3.40" fill="#7a8a70" fill-opacity="0.57"/>
<rect x="107.05" y="39.83" width="0.29" height="3.40" fill="#7a8a70" fill-opacity="0.52"/>
<rect x="107.33" y="39.83" width="0.29" height="3.40" fill="#7a8a70" fill-opacity="0.48"/>
<rect x="107.62" y="39.83" width="0.29" height="3.40" fill="#7a8a70" fill-opacity="0.44"/>
<rect x="107.91" y="39.83" width="0.29" height="3.40" fill="#7a8a70" fill-opacity="0.47"/>
<rect x="108.20" y="39.83" width="0.58" height="3.40" fill="#7a8a70" fill-opacity="0.46"/>
<text x="36.00" y="43.03" font-size="3.5" text-anchor="end" font-weight="normal" fill="#333" stroke="#333" stroke-width="0.18" >TTN</text>
<text x="133.20" y="42.93" font-size="3.5" text-anchor="start" font-weight="normal" fill="#222" stroke="#222" stroke-width="0.22" >36%</text>
<rect x="143.00" y="39.63" width="8.94" height="3.80" fill="#33a532" />
<rect x="151.94" y="39.63" width="7.03" height="3.80" fill="#111111" />
<rect x="37.00" y="43.86" width="95.70" height="4.00" fill="#efeff0" />
<rect x="37.00" y="44.16" width="0.29" height="3.40" fill="#c08888" fill-opacity="0.42"/>
<rect x="37.29" y="44.16" width="0.29" height="3.40" fill="#c08888" fill-opacity="0.46"/>
<rect x="37.58" y="44.16" width="0.86" height="3.40" fill="#c08888" fill-opacity="0.50"/>
<rect x="38.44" y="44.16" width="0.29" height="3.40" fill="#c08888" fill-opacity="0.31"/>
<rect x="38.73" y="44.16" width="0.58" height="3.40" fill="#c08888" fill-opacity="0.41"/>
<rect x="39.31" y="44.16" width="0.29" height="3.40" fill="#c08888" fill-opacity="0.49"/>
<rect x="39.59" y="44.16" width="0.29" height="3.40" fill="#c08888" fill-opacity="0.28"/>
<rect x="39.88" y="44.16" width="0.29" height="3.40" fill="#c08888" fill-opacity="0.57"/>
<rect x="40.17" y="44.16" width="0.29" height="3.40" fill="#c08888" fill-opacity="0.54"/>
<rect x="59.20" y="44.16" width="0.86" height="3.40" fill="#c08888" fill-opacity="0.38"/>
<rect x="60.06" y="44.16" width="0.29" height="3.40" fill="#c08888" fill-opacity="0.51"/>
<rect x="60.35" y="44.16" width="0.29" height="3.40" fill="#c08888" fill-opacity="0.48"/>
<rect x="60.64" y="44.16" width="0.29" height="3.40" fill="#c08888" fill-opacity="0.42"/>
<rect x="60.92" y="44.16" width="0.29" height="3.40" fill="#c08888" fill-opacity="0.40"/>
<rect x="61.21" y="44.16" width="0.58" height="3.40" fill="#c08888" fill-opacity="0.51"/>
<rect x="61.79" y="44.16" width="0.29" height="3.40" fill="#c08888" fill-opacity="0.30"/>
<rect x="62.08" y="44.16" width="0.29" height="3.40" fill="#c08888" fill-opacity="0.60"/>
<rect x="62.37" y="44.16" width="0.29" height="3.40" fill="#c08888" fill-opacity="0.46"/>
<rect x="62.65" y="44.16" width="0.29" height="3.40" fill="#c08888" fill-opacity="0.50"/>
<rect x="62.94" y="44.16" width="0.29" height="3.40" fill="#c08888" fill-opacity="0.59"/>
<rect x="63.23" y="44.16" width="0.86" height="3.40" fill="#c08888" fill-opacity="0.34"/>
<rect x="64.10" y="44.16" width="0.29" height="3.40" fill="#c08888" fill-opacity="0.55"/>
<rect x="64.38" y="44.16" width="0.86" height="3.40" fill="#c08888" fill-opacity="0.53"/>
<rect x="65.25" y="44.16" width="0.29" height="3.40" fill="#c08888" fill-opacity="0.31"/>
<rect x="65.54" y="44.16" width="0.29" height="3.40" fill="#c08888" fill-opacity="0.48"/>
<rect x="65.83" y="44.16" width="0.29" height="3.40" fill="#c08888" fill-opacity="0.47"/>
<rect x="66.11" y="44.16" width="0.29" height="3.40" fill="#c08888" fill-opacity="0.63"/>
<rect x="66.40" y="44.16" width="0.29" height="3.40" fill="#c08888" fill-opacity="0.39"/>
<rect x="96.38" y="44.16" width="0.29" height="3.40" fill="#c08888" fill-opacity="0.35"/>
<rect x="96.67" y="44.16" width="0.29" height="3.40" fill="#c08888" fill-opacity="0.43"/>
<rect x="96.96" y="44.16" width="0.29" height="3.40" fill="#c08888" fill-opacity="0.35"/>
<rect x="97.24" y="44.16" width="0.86" height="3.40" fill="#c08888" fill-opacity="0.34"/>
<rect x="98.11" y="44.16" width="0.29" height="3.40" fill="#c08888" fill-opacity="0.64"/>
<rect x="98.40" y="44.16" width="0.86" height="3.40" fill="#c08888" fill-opacity="0.33"/>
<rect x="108.77" y="44.16" width="0.58" height="3.40" fill="#c08888" fill-opacity="0.55"/>
<rect x="109.35" y="44.16" width="0.58" height="3.40" fill="#c08888" fill-opacity="0.34"/>
<rect x="109.93" y="44.16" width="0.86" height="3.40" fill="#c08888" fill-opacity="0.58"/>
<rect x="110.79" y="44.16" width="0.58" height="3.40" fill="#c08888" fill-opacity="0.51"/>
<rect x="111.37" y="44.16" width="0.86" height="3.40" fill="#c08888" fill-opacity="0.33"/>
<rect x="112.23" y="44.16" width="0.29" height="3.40" fill="#c08888" fill-opacity="0.52"/>
<rect x="112.52" y="44.16" width="0.29" height="3.40" fill="#c08888" fill-opacity="0.53"/>
<rect x="112.81" y="44.16" width="0.29" height="3.40" fill="#c08888" fill-opacity="0.34"/>
<rect x="113.10" y="44.16" width="0.29" height="3.40" fill="#c08888" fill-opacity="0.43"/>
<rect x="113.39" y="44.16" width="0.58" height="3.40" fill="#c08888" fill-opacity="0.47"/>
<text x="36.00" y="47.36" font-size="3.5" text-anchor="end" font-weight="normal" fill="#333" stroke="#333" stroke-width="0.18" >FAT1</text>
<text x="133.20" y="47.26" font-size="3.5" text-anchor="start" font-weight="normal" fill="#222" stroke="#222" stroke-width="0.22" >20%</text>
<rect x="143.00" y="43.96" width="1.06" height="3.80" fill="#111111" />
<rect x="144.06" y="43.96" width="3.99" height="3.80" fill="#d93035" />
<rect x="148.06" y="43.96" width="1.15" height="3.80" fill="#33a532" />
<rect x="149.21" y="43.96" width="2.66" height="3.80" fill="#111111" />
<rect x="37.00" y="48.19" width="95.70" height="4.00" fill="#efeff0" />
<rect x="37.29" y="48.49" width="0.29" height="3.40" fill="#5f8a55" fill-opacity="0.36"/>
<rect x="38.44" y="48.49" width="0.29" height="3.40" fill="#5f8a55" fill-opacity="0.36"/>
<rect x="38.73" y="48.49" width="0.29" height="3.40" fill="#a86a5f" fill-opacity="0.36"/>
<rect x="40.75" y="48.49" width="0.29" height="3.40" fill="#5f8a55" fill-opacity="0.36"/>
<rect x="42.77" y="48.49" width="0.29" height="3.40" fill="#5f8a55" fill-opacity="0.36"/>
<rect x="43.92" y="48.49" width="0.29" height="3.40" fill="#5f8a55" fill-opacity="0.36"/>
<rect x="45.07" y="48.49" width="0.29" height="3.40" fill="#a86a5f" fill-opacity="0.36"/>
<rect x="45.36" y="48.49" width="0.29" height="3.40" fill="#5f8a55" fill-opacity="0.36"/>
<rect x="46.22" y="48.49" width="0.29" height="3.40" fill="#5f8a55" fill-opacity="0.36"/>
<rect x="48.82" y="48.49" width="0.29" height="3.40" fill="#5f8a55" fill-opacity="0.36"/>
<rect x="51.41" y="48.49" width="0.58" height="3.40" fill="#5f8a55" fill-opacity="0.36"/>
<rect x="54.30" y="48.49" width="0.29" height="3.40" fill="#5f8a55" fill-opacity="0.36"/>
<rect x="55.45" y="48.49" width="0.29" height="3.40" fill="#8a6a90" fill-opacity="0.36"/>
<rect x="57.47" y="48.49" width="0.29" height="3.40" fill="#5f8a55" fill-opacity="0.36"/>
<rect x="59.20" y="48.49" width="0.29" height="3.40" fill="#5a6f8a" fill-opacity="0.36"/>
<rect x="60.92" y="48.49" width="0.29" height="3.40" fill="#5f8a55" fill-opacity="0.36"/>
<rect x="66.11" y="48.49" width="0.29" height="3.40" fill="#5f8a55" fill-opacity="0.36"/>
<rect x="66.98" y="48.49" width="0.29" height="3.40" fill="#5f8a55" fill-opacity="0.36"/>
<rect x="71.01" y="48.49" width="0.29" height="3.40" fill="#5f8a55" fill-opacity="0.36"/>
<rect x="72.74" y="48.49" width="0.29" height="3.40" fill="#5f8a55" fill-opacity="0.36"/>
<rect x="74.18" y="48.49" width="0.29" height="3.40" fill="#5f8a55" fill-opacity="0.36"/>
<rect x="79.95" y="48.49" width="0.29" height="3.40" fill="#a86a5f" fill-opacity="0.36"/>
<rect x="84.85" y="48.49" width="0.29" height="3.40" fill="#5f8a55" fill-opacity="0.36"/>
<rect x="90.04" y="48.49" width="0.29" height="3.40" fill="#3a3a3a" fill-opacity="0.36"/>
<rect x="91.48" y="48.49" width="0.29" height="3.40" fill="#5f8a55" fill-opacity="0.36"/>
<rect x="93.21" y="48.49" width="0.29" height="3.40" fill="#3a3a3a" fill-opacity="0.36"/>
<rect x="95.52" y="48.49" width="0.29" height="3.40" fill="#5f8a55" fill-opacity="0.36"/>
<rect x="96.09" y="48.49" width="0.29" height="3.40" fill="#3a3a3a" fill-opacity="0.36"/>
<rect x="99.84" y="48.49" width="0.58" height="3.40" fill="#5a6f8a" fill-opacity="0.36"/>
<rect x="102.72" y="48.49" width="0.29" height="3.40" fill="#5f8a55" fill-opacity="0.36"/>
<rect x="105.03" y="48.49" width="0.29" height="3.40" fill="#5f8a55" fill-opacity="0.36"/>
<rect x="108.77" y="48.49" width="0.29" height="3.40" fill="#5f8a55" fill-opacity="0.36"/>
<rect x="120.59" y="48.49" width="0.29" height="3.40" fill="#3a3a3a" fill-opacity="0.36"/>
<rect x="121.46" y="48.49" width="0.29" height="3.40" fill="#a86a5f" fill-opacity="0.36"/>
<rect x="132.41" y="48.49" width="0.29" height="3.40" fill="#5f8a55" fill-opacity="0.36"/>
<text x="36.00" y="51.69" font-size="3.5" text-anchor="end" font-weight="normal" fill="#333" stroke="#333" stroke-width="0.18" >CDKN2A</text>
<text x="133.20" y="51.59" font-size="3.5" text-anchor="start" font-weight="normal" fill="#222" stroke="#222" stroke-width="0.22" >17%</text>
<rect x="143.00" y="48.29" width="5.28" height="3.80" fill="#d93035" />
<rect x="148.28" y="48.29" width="2.26" height="3.80" fill="#111111" />
<rect x="37.00" y="52.52" width="95.70" height="4.00" fill="#efeff0" />
<rect x="37.00" y="52.82" width="0.58" height="3.40" fill="#5f8a55" fill-opacity="0.36"/>
<rect x="37.86" y="52.82" width="0.29" height="3.40" fill="#5f8a55" fill-opacity="0.36"/>
<rect x="38.15" y="52.82" width="0.29" height="3.40" fill="#8a6a90" fill-opacity="0.36"/>
<rect x="39.02" y="52.82" width="0.29" height="3.40" fill="#3a3a3a" fill-opacity="0.36"/>
<rect x="40.17" y="52.82" width="0.29" height="3.40" fill="#a86a5f" fill-opacity="0.36"/>
<rect x="41.04" y="52.82" width="0.29" height="3.40" fill="#b0a0b0" fill-opacity="0.36"/>
<rect x="43.63" y="52.82" width="0.29" height="3.40" fill="#a86a5f" fill-opacity="0.36"/>
<rect x="43.92" y="52.82" width="0.29" height="3.40" fill="#5f8a55" fill-opacity="0.36"/>
<rect x="45.94" y="52.82" width="0.29" height="3.40" fill="#5f8a55" fill-opacity="0.36"/>
<rect x="46.51" y="52.82" width="0.29" height="3.40" fill="#5f8a55" fill-opacity="0.36"/>
<rect x="56.60" y="52.82" width="0.29" height="3.40" fill="#5f8a55" fill-opacity="0.36"/>
<rect x="62.37" y="52.82" width="0.29" height="3.40" fill="#5f8a55" fill-opacity="0.36"/>
<rect x="64.96" y="52.82" width="0.29" height="3.40" fill="#5f8a55" fill-opacity="0.36"/>
<rect x="66.69" y="52.82" width="0.29" height="3.40" fill="#5a6f8a" fill-opacity="0.36"/>
<rect x="71.88" y="52.82" width="0.29" height="3.40" fill="#a86a5f" fill-opacity="0.36"/>
<rect x="74.18" y="52.82" width="0.29" height="3.40" fill="#8a6a90" fill-opacity="0.36"/>
<rect x="74.47" y="52.82" width="0.29" height="3.40" fill="#3a3a3a" fill-opacity="0.36"/>
<rect x="76.78" y="52.82" width="0.29" height="3.40" fill="#5f8a55" fill-opacity="0.36"/>
<rect x="78.80" y="52.82" width="0.29" height="3.40" fill="#5a6f8a" fill-opacity="0.36"/>
<rect x="81.39" y="52.82" width="0.29" height="3.40" fill="#5f8a55" fill-opacity="0.36"/>
<rect x="82.54" y="52.82" width="0.29" height="3.40" fill="#8a6a90" fill-opacity="0.36"/>
<rect x="87.73" y="52.82" width="0.29" height="3.40" fill="#3a3a3a" fill-opacity="0.36"/>
<rect x="88.60" y="52.82" width="0.29" height="3.40" fill="#3a3a3a" fill-opacity="0.36"/>
<rect x="91.77" y="52.82" width="0.29" height="3.40" fill="#5f8a55" fill-opacity="0.36"/>
<rect x="92.92" y="52.82" width="0.29" height="3.40" fill="#5f8a55" fill-opacity="0.36"/>
<rect x="94.65" y="52.82" width="0.29" height="3.40" fill="#5f8a55" fill-opacity="0.36"/>
<rect x="95.52" y="52.82" width="0.29" height="3.40" fill="#5f8a55" fill-opacity="0.36"/>
<rect x="97.24" y="52.82" width="0.29" height="3.40" fill="#a86a5f" fill-opacity="0.36"/>
<rect x="103.59" y="52.82" width="0.29" height="3.40" fill="#3a3a3a" fill-opacity="0.36"/>
<rect x="104.45" y="52.82" width="0.29" height="3.40" fill="#5f8a55" fill-opacity="0.36"/>
<rect x="110.22" y="52.82" width="0.58" height="3.40" fill="#c0a070" fill-opacity="0.36"/>
<rect x="115.12" y="52.82" width="0.29" height="3.40" fill="#5f8a55" fill-opacity="0.36"/>
<rect x="115.98" y="52.82" width="0.58" height="3.40" fill="#5f8a55" fill-opacity="0.36"/>
<rect x="116.85" y="52.82" width="0.29" height="3.40" fill="#3a3a3a" fill-opacity="0.36"/>
<rect x="121.46" y="52.82" width="0.29" height="3.40" fill="#5f8a55" fill-opacity="0.36"/>
<rect x="123.76" y="52.82" width="0.29" height="3.40" fill="#5f8a55" fill-opacity="0.36"/>
<text x="36.00" y="56.02" font-size="3.5" text-anchor="end" font-weight="normal" fill="#333" stroke="#333" stroke-width="0.18" >MUC16</text>
<text x="133.20" y="55.92" font-size="3.5" text-anchor="start" font-weight="normal" fill="#222" stroke="#222" stroke-width="0.22" >18%</text>
<rect x="143.00" y="52.62" width="4.79" height="3.80" fill="#33a532" />
<rect x="147.79" y="52.62" width="1.60" height="3.80" fill="#d93035" />
<rect x="149.39" y="52.62" width="1.60" height="3.80" fill="#111111" />
<rect x="37.00" y="56.85" width="95.70" height="4.00" fill="#efeff0" />
<rect x="37.00" y="57.15" width="0.29" height="3.40" fill="#3a3a3a" fill-opacity="0.36"/>
<rect x="37.29" y="57.15" width="0.29" height="3.40" fill="#8a6a90" fill-opacity="0.36"/>
<rect x="38.44" y="57.15" width="0.29" height="3.40" fill="#5f8a55" fill-opacity="0.36"/>
<rect x="39.02" y="57.15" width="0.29" height="3.40" fill="#8a6a90" fill-opacity="0.36"/>
<rect x="39.88" y="57.15" width="0.29" height="3.40" fill="#3a3a3a" fill-opacity="0.36"/>
<rect x="40.17" y="57.15" width="0.29" height="3.40" fill="#5f8a55" fill-opacity="0.36"/>
<rect x="43.92" y="57.15" width="0.29" height="3.40" fill="#5f8a55" fill-opacity="0.36"/>
<rect x="45.36" y="57.15" width="0.29" height="3.40" fill="#5f8a55" fill-opacity="0.36"/>
<rect x="46.80" y="57.15" width="0.29" height="3.40" fill="#5f8a55" fill-opacity="0.36"/>
<rect x="51.99" y="57.15" width="0.29" height="3.40" fill="#8a6a90" fill-opacity="0.36"/>
<rect x="55.16" y="57.15" width="0.29" height="3.40" fill="#5f8a55" fill-opacity="0.36"/>
<rect x="56.60" y="57.15" width="0.29" height="3.40" fill="#5f8a55" fill-opacity="0.36"/>
<rect x="61.21" y="57.15" width="0.29" height="3.40" fill="#5f8a55" fill-opacity="0.36"/>
<rect x="61.50" y="57.15" width="0.29" height="3.40" fill="#8a6a90" fill-opacity="0.36"/>
<rect x="63.23" y="57.15" width="0.29" height="3.40" fill="#5f8a55" fill-opacity="0.36"/>
<rect x="66.40" y="57.15" width="0.29" height="3.40" fill="#5f8a55" fill-opacity="0.36"/>
<rect x="68.42" y="57.15" width="0.29" height="3.40" fill="#5a6f8a" fill-opacity="0.36"/>
<rect x="70.44" y="57.15" width="0.29" height="3.40" fill="#5f8a55" fill-opacity="0.36"/>
<rect x="73.03" y="57.15" width="0.29" height="3.40" fill="#b0a0b0" fill-opacity="0.36"/>
<rect x="81.39" y="57.15" width="0.29" height="3.40" fill="#5a6f8a" fill-opacity="0.36"/>
<rect x="82.26" y="57.15" width="0.29" height="3.40" fill="#5f8a55" fill-opacity="0.36"/>
<rect x="88.02" y="57.15" width="0.29" height="3.40" fill="#3a3a3a" fill-opacity="0.36"/>
<rect x="89.75" y="57.15" width="0.29" height="3.40" fill="#b0a0b0" fill-opacity="0.36"/>
<rect x="90.33" y="57.15" width="0.29" height="3.40" fill="#5f8a55" fill-opacity="0.36"/>
<rect x="93.50" y="57.15" width="0.29" height="3.40" fill="#5f8a55" fill-opacity="0.36"/>
<rect x="96.96" y="57.15" width="0.29" height="3.40" fill="#5f8a55" fill-opacity="0.36"/>
<rect x="97.53" y="57.15" width="0.58" height="3.40" fill="#5f8a55" fill-opacity="0.36"/>
<rect x="99.26" y="57.15" width="0.29" height="3.40" fill="#b0a0b0" fill-opacity="0.36"/>
<rect x="104.45" y="57.15" width="0.29" height="3.40" fill="#5f8a55" fill-opacity="0.36"/>
<rect x="105.89" y="57.15" width="0.29" height="3.40" fill="#5f8a55" fill-opacity="0.36"/>
<rect x="107.33" y="57.15" width="0.29" height="3.40" fill="#5a6f8a" fill-opacity="0.36"/>
<rect x="109.64" y="57.15" width="0.29" height="3.40" fill="#3a3a3a" fill-opacity="0.36"/>
<rect x="114.25" y="57.15" width="0.29" height="3.40" fill="#5f8a55" fill-opacity="0.36"/>
<rect x="115.12" y="57.15" width="0.29" height="3.40" fill="#8a6a90" fill-opacity="0.36"/>
<rect x="124.05" y="57.15" width="0.29" height="3.40" fill="#5f8a55" fill-opacity="0.36"/>
<rect x="125.49" y="57.15" width="0.29" height="3.40" fill="#5f8a55" fill-opacity="0.36"/>
<rect x="128.09" y="57.15" width="0.29" height="3.40" fill="#a86a5f" fill-opacity="0.36"/>
<rect x="129.24" y="57.15" width="0.29" height="3.40" fill="#3a3a3a" fill-opacity="0.36"/>
<text x="36.00" y="60.35" font-size="3.5" text-anchor="end" font-weight="normal" fill="#333" stroke="#333" stroke-width="0.18" >CSMD3</text>
<text x="133.20" y="60.25" font-size="3.5" text-anchor="start" font-weight="normal" fill="#222" stroke="#222" stroke-width="0.22" >18%</text>
<rect x="143.00" y="56.95" width="5.99" height="3.80" fill="#33a532" />
<rect x="148.99" y="56.95" width="2.00" height="3.80" fill="#111111" />
<rect x="37.00" y="61.18" width="95.70" height="4.00" fill="#efeff0" />
<rect x="40.17" y="61.48" width="0.29" height="3.40" fill="#b0a0b0" fill-opacity="0.36"/>
<rect x="40.46" y="61.48" width="0.29" height="3.40" fill="#a86a5f" fill-opacity="0.36"/>
<rect x="46.22" y="61.48" width="0.29" height="3.40" fill="#5f8a55" fill-opacity="0.36"/>
<rect x="47.09" y="61.48" width="0.29" height="3.40" fill="#8a6a90" fill-opacity="0.36"/>
<rect x="47.67" y="61.48" width="0.29" height="3.40" fill="#5f8a55" fill-opacity="0.36"/>
<rect x="48.24" y="61.48" width="0.29" height="3.40" fill="#5f8a55" fill-opacity="0.36"/>
<rect x="50.26" y="61.48" width="0.29" height="3.40" fill="#5f8a55" fill-opacity="0.36"/>
<rect x="51.99" y="61.48" width="0.29" height="3.40" fill="#5f8a55" fill-opacity="0.36"/>
<rect x="59.77" y="61.48" width="0.29" height="3.40" fill="#8a6a90" fill-opacity="0.36"/>
<rect x="61.21" y="61.48" width="0.29" height="3.40" fill="#5f8a55" fill-opacity="0.36"/>
<rect x="70.44" y="61.48" width="0.29" height="3.40" fill="#a86a5f" fill-opacity="0.36"/>
<rect x="71.01" y="61.48" width="0.29" height="3.40" fill="#8a6a90" fill-opacity="0.36"/>
<rect x="72.17" y="61.48" width="0.29" height="3.40" fill="#5f8a55" fill-opacity="0.36"/>
<rect x="76.49" y="61.48" width="0.29" height="3.40" fill="#5f8a55" fill-opacity="0.36"/>
<rect x="79.95" y="61.48" width="0.29" height="3.40" fill="#5f8a55" fill-opacity="0.36"/>
<rect x="81.10" y="61.48" width="0.29" height="3.40" fill="#5f8a55" fill-opacity="0.36"/>
<rect x="82.54" y="61.48" width="0.29" height="3.40" fill="#a86a5f" fill-opacity="0.36"/>
<rect x="83.70" y="61.48" width="0.29" height="3.40" fill="#5f8a55" fill-opacity="0.36"/>
<rect x="85.71" y="61.48" width="0.29" height="3.40" fill="#5f8a55" fill-opacity="0.36"/>
<rect x="93.50" y="61.48" width="0.29" height="3.40" fill="#5f8a55" fill-opacity="0.36"/>
<rect x="96.09" y="61.48" width="0.29" height="3.40" fill="#a86a5f" fill-opacity="0.36"/>
<rect x="101.86" y="61.48" width="0.29" height="3.40" fill="#5f8a55" fill-opacity="0.36"/>
<rect x="104.45" y="61.48" width="0.29" height="3.40" fill="#5f8a55" fill-opacity="0.36"/>
<rect x="106.76" y="61.48" width="0.29" height="3.40" fill="#5f8a55" fill-opacity="0.36"/>
<rect x="107.33" y="61.48" width="0.29" height="3.40" fill="#5a6f8a" fill-opacity="0.36"/>
<rect x="108.49" y="61.48" width="0.29" height="3.40" fill="#5a6f8a" fill-opacity="0.36"/>
<rect x="118.00" y="61.48" width="0.29" height="3.40" fill="#5f8a55" fill-opacity="0.36"/>
<rect x="119.44" y="61.48" width="0.29" height="3.40" fill="#5f8a55" fill-opacity="0.36"/>
<rect x="121.46" y="61.48" width="0.29" height="3.40" fill="#a86a5f" fill-opacity="0.36"/>
<rect x="123.76" y="61.48" width="0.29" height="3.40" fill="#8a6a90" fill-opacity="0.36"/>
<text x="36.00" y="64.68" font-size="3.5" text-anchor="end" font-weight="normal" fill="#333" stroke="#333" stroke-width="0.18" >NOTCH1</text>
<text x="133.20" y="64.58" font-size="3.5" text-anchor="start" font-weight="normal" fill="#222" stroke="#222" stroke-width="0.22" >14%</text>
<rect x="143.00" y="61.28" width="4.35" height="3.80" fill="#33a532" />
<rect x="147.35" y="61.28" width="1.86" height="3.80" fill="#d93035" />
<rect x="37.00" y="65.51" width="95.70" height="4.00" fill="#efeff0" />
<rect x="37.86" y="65.81" width="0.58" height="3.40" fill="#5f8a55" fill-opacity="0.36"/>
<rect x="38.44" y="65.81" width="0.29" height="3.40" fill="#a86a5f" fill-opacity="0.36"/>
<rect x="39.31" y="65.81" width="0.29" height="3.40" fill="#c0a070" fill-opacity="0.36"/>
<rect x="40.17" y="65.81" width="0.29" height="3.40" fill="#3a3a3a" fill-opacity="0.36"/>
<rect x="42.19" y="65.81" width="0.29" height="3.40" fill="#b0a0b0" fill-opacity="0.36"/>
<rect x="44.78" y="65.81" width="0.29" height="3.40" fill="#5f8a55" fill-opacity="0.36"/>
<rect x="46.22" y="65.81" width="0.29" height="3.40" fill="#5f8a55" fill-opacity="0.36"/>
<rect x="47.95" y="65.81" width="0.29" height="3.40" fill="#3a3a3a" fill-opacity="0.36"/>
<rect x="49.39" y="65.81" width="0.29" height="3.40" fill="#c0a070" fill-opacity="0.36"/>
<rect x="51.99" y="65.81" width="0.29" height="3.40" fill="#8a6a90" fill-opacity="0.36"/>
<rect x="52.28" y="65.81" width="0.29" height="3.40" fill="#a86a5f" fill-opacity="0.36"/>
<rect x="52.57" y="65.81" width="0.29" height="3.40" fill="#8a6a90" fill-opacity="0.36"/>
<rect x="60.35" y="65.81" width="0.29" height="3.40" fill="#5f8a55" fill-opacity="0.36"/>
<rect x="64.10" y="65.81" width="0.58" height="3.40" fill="#5f8a55" fill-opacity="0.36"/>
<rect x="66.98" y="65.81" width="0.29" height="3.40" fill="#a86a5f" fill-opacity="0.36"/>
<rect x="69.28" y="65.81" width="0.29" height="3.40" fill="#a86a5f" fill-opacity="0.36"/>
<rect x="70.15" y="65.81" width="0.29" height="3.40" fill="#5f8a55" fill-opacity="0.36"/>
<rect x="80.24" y="65.81" width="0.29" height="3.40" fill="#5f8a55" fill-opacity="0.36"/>
<rect x="81.10" y="65.81" width="0.29" height="3.40" fill="#5f8a55" fill-opacity="0.36"/>
<rect x="84.56" y="65.81" width="0.29" height="3.40" fill="#5f8a55" fill-opacity="0.36"/>
<rect x="89.17" y="65.81" width="0.29" height="3.40" fill="#b0a0b0" fill-opacity="0.36"/>
<rect x="92.63" y="65.81" width="0.29" height="3.40" fill="#5f8a55" fill-opacity="0.36"/>
<rect x="103.87" y="65.81" width="0.29" height="3.40" fill="#5f8a55" fill-opacity="0.36"/>
<rect x="105.32" y="65.81" width="0.29" height="3.40" fill="#5f8a55" fill-opacity="0.36"/>
<rect x="109.93" y="65.81" width="0.29" height="3.40" fill="#5f8a55" fill-opacity="0.36"/>
<rect x="112.23" y="65.81" width="0.29" height="3.40" fill="#3a3a3a" fill-opacity="0.36"/>
<rect x="116.27" y="65.81" width="0.29" height="3.40" fill="#a86a5f" fill-opacity="0.36"/>
<rect x="120.31" y="65.81" width="0.29" height="3.40" fill="#c0a070" fill-opacity="0.36"/>
<rect x="121.17" y="65.81" width="0.29" height="3.40" fill="#5f8a55" fill-opacity="0.36"/>
<rect x="125.78" y="65.81" width="0.29" height="3.40" fill="#5f8a55" fill-opacity="0.36"/>
<rect x="126.93" y="65.81" width="0.29" height="3.40" fill="#5f8a55" fill-opacity="0.36"/>
<rect x="127.22" y="65.81" width="0.29" height="3.40" fill="#3a3a3a" fill-opacity="0.36"/>
<rect x="127.80" y="65.81" width="0.29" height="3.40" fill="#a86a5f" fill-opacity="0.36"/>
<rect x="128.09" y="65.81" width="0.29" height="3.40" fill="#5f8a55" fill-opacity="0.36"/>
<rect x="131.55" y="65.81" width="0.29" height="3.40" fill="#5f8a55" fill-opacity="0.36"/>
<text x="36.00" y="69.01" font-size="3.5" text-anchor="end" font-weight="normal" fill="#333" stroke="#333" stroke-width="0.18" >PIK3CA</text>
<text x="133.20" y="68.91" font-size="3.5" text-anchor="start" font-weight="normal" fill="#222" stroke="#222" stroke-width="0.22" >17%</text>
<rect x="143.00" y="65.61" width="7.54" height="3.80" fill="#33a532" />
<rect x="37.00" y="69.84" width="95.70" height="4.00" fill="#efeff0" />
<rect x="37.29" y="70.14" width="0.58" height="3.40" fill="#5f8a55" fill-opacity="0.36"/>
<rect x="39.88" y="70.14" width="0.29" height="3.40" fill="#a86a5f" fill-opacity="0.36"/>
<rect x="42.19" y="70.14" width="0.29" height="3.40" fill="#5f8a55" fill-opacity="0.36"/>
<rect x="44.21" y="70.14" width="0.29" height="3.40" fill="#5f8a55" fill-opacity="0.36"/>
<rect x="44.78" y="70.14" width="0.29" height="3.40" fill="#a86a5f" fill-opacity="0.36"/>
<rect x="46.22" y="70.14" width="0.29" height="3.40" fill="#5f8a55" fill-opacity="0.36"/>
<rect x="50.26" y="70.14" width="0.29" height="3.40" fill="#5f8a55" fill-opacity="0.36"/>
<rect x="51.41" y="70.14" width="0.29" height="3.40" fill="#c0a070" fill-opacity="0.36"/>
<rect x="52.57" y="70.14" width="0.29" height="3.40" fill="#5f8a55" fill-opacity="0.36"/>
<rect x="55.45" y="70.14" width="0.29" height="3.40" fill="#5f8a55" fill-opacity="0.36"/>
<rect x="57.75" y="70.14" width="0.29" height="3.40" fill="#5f8a55" fill-opacity="0.36"/>
<rect x="58.33" y="70.14" width="0.29" height="3.40" fill="#5f8a55" fill-opacity="0.36"/>
<rect x="61.50" y="70.14" width="0.29" height="3.40" fill="#5f8a55" fill-opacity="0.36"/>
<rect x="62.08" y="70.14" width="0.29" height="3.40" fill="#5f8a55" fill-opacity="0.36"/>
<rect x="63.23" y="70.14" width="0.29" height="3.40" fill="#5f8a55" fill-opacity="0.36"/>
<rect x="66.40" y="70.14" width="0.29" height="3.40" fill="#3a3a3a" fill-opacity="0.36"/>
<rect x="68.42" y="70.14" width="0.29" height="3.40" fill="#5f8a55" fill-opacity="0.36"/>
<rect x="69.57" y="70.14" width="0.29" height="3.40" fill="#3a3a3a" fill-opacity="0.36"/>
<rect x="71.30" y="70.14" width="0.29" height="3.40" fill="#a86a5f" fill-opacity="0.36"/>
<rect x="81.68" y="70.14" width="0.29" height="3.40" fill="#3a3a3a" fill-opacity="0.36"/>
<rect x="86.87" y="70.14" width="0.29" height="3.40" fill="#5f8a55" fill-opacity="0.36"/>
<rect x="100.13" y="70.14" width="0.29" height="3.40" fill="#5f8a55" fill-opacity="0.36"/>
<rect x="101.57" y="70.14" width="0.29" height="3.40" fill="#5f8a55" fill-opacity="0.36"/>
<rect x="105.03" y="70.14" width="0.29" height="3.40" fill="#5f8a55" fill-opacity="0.36"/>
<rect x="107.62" y="70.14" width="0.29" height="3.40" fill="#5f8a55" fill-opacity="0.36"/>
<rect x="108.20" y="70.14" width="0.29" height="3.40" fill="#5f8a55" fill-opacity="0.36"/>
<rect x="111.66" y="70.14" width="0.29" height="3.40" fill="#a86a5f" fill-opacity="0.36"/>
<rect x="118.58" y="70.14" width="0.29" height="3.40" fill="#8a6a90" fill-opacity="0.36"/>
<rect x="118.86" y="70.14" width="0.29" height="3.40" fill="#5f8a55" fill-opacity="0.36"/>
<rect x="121.46" y="70.14" width="0.29" height="3.40" fill="#5a6f8a" fill-opacity="0.36"/>
<rect x="121.75" y="70.14" width="0.29" height="3.40" fill="#a86a5f" fill-opacity="0.36"/>
<rect x="123.19" y="70.14" width="0.29" height="3.40" fill="#5f8a55" fill-opacity="0.36"/>
<rect x="127.22" y="70.14" width="0.29" height="3.40" fill="#5f8a55" fill-opacity="0.36"/>
<rect x="128.95" y="70.14" width="0.29" height="3.40" fill="#a86a5f" fill-opacity="0.36"/>
<text x="36.00" y="73.34" font-size="3.5" text-anchor="end" font-weight="normal" fill="#333" stroke="#333" stroke-width="0.18" >SYNE1</text>
<text x="133.20" y="73.24" font-size="3.5" text-anchor="start" font-weight="normal" fill="#222" stroke="#222" stroke-width="0.22" >16%</text>
<rect x="143.00" y="69.94" width="4.26" height="3.80" fill="#33a532" />
<rect x="147.26" y="69.94" width="1.42" height="3.80" fill="#d93035" />
<rect x="148.68" y="69.94" width="1.42" height="3.80" fill="#111111" />
<rect x="37.00" y="74.17" width="95.70" height="4.00" fill="#efeff0" />
<rect x="37.00" y="74.47" width="0.29" height="3.40" fill="#5f8a55" fill-opacity="0.36"/>
<rect x="38.73" y="74.47" width="0.29" height="3.40" fill="#3a3a3a" fill-opacity="0.36"/>
<rect x="39.31" y="74.47" width="0.29" height="3.40" fill="#a86a5f" fill-opacity="0.36"/>
<rect x="39.88" y="74.47" width="0.29" height="3.40" fill="#5f8a55" fill-opacity="0.36"/>
<rect x="40.46" y="74.47" width="0.29" height="3.40" fill="#5f8a55" fill-opacity="0.36"/>
<rect x="43.34" y="74.47" width="0.29" height="3.40" fill="#b0a0b0" fill-opacity="0.36"/>
<rect x="43.63" y="74.47" width="0.29" height="3.40" fill="#a86a5f" fill-opacity="0.36"/>
<rect x="46.22" y="74.47" width="0.29" height="3.40" fill="#3a3a3a" fill-opacity="0.36"/>
<rect x="46.80" y="74.47" width="0.29" height="3.40" fill="#5f8a55" fill-opacity="0.36"/>
<rect x="47.38" y="74.47" width="0.29" height="3.40" fill="#5f8a55" fill-opacity="0.36"/>
<rect x="47.95" y="74.47" width="0.58" height="3.40" fill="#5f8a55" fill-opacity="0.36"/>
<rect x="49.11" y="74.47" width="0.29" height="3.40" fill="#3a3a3a" fill-opacity="0.36"/>
<rect x="53.43" y="74.47" width="0.29" height="3.40" fill="#5a6f8a" fill-opacity="0.36"/>
<rect x="59.20" y="74.47" width="0.29" height="3.40" fill="#8a6a90" fill-opacity="0.36"/>
<rect x="65.54" y="74.47" width="0.29" height="3.40" fill="#a86a5f" fill-opacity="0.36"/>
<rect x="68.13" y="74.47" width="0.29" height="3.40" fill="#5f8a55" fill-opacity="0.36"/>
<rect x="73.90" y="74.47" width="0.29" height="3.40" fill="#5f8a55" fill-opacity="0.36"/>
<rect x="77.07" y="74.47" width="0.29" height="3.40" fill="#5f8a55" fill-opacity="0.36"/>
<rect x="81.68" y="74.47" width="0.29" height="3.40" fill="#5f8a55" fill-opacity="0.36"/>
<rect x="83.12" y="74.47" width="0.29" height="3.40" fill="#5f8a55" fill-opacity="0.36"/>
<rect x="85.71" y="74.47" width="0.29" height="3.40" fill="#5f8a55" fill-opacity="0.36"/>
<rect x="86.29" y="74.47" width="0.29" height="3.40" fill="#5f8a55" fill-opacity="0.36"/>
<rect x="96.96" y="74.47" width="0.58" height="3.40" fill="#5f8a55" fill-opacity="0.36"/>
<rect x="98.40" y="74.47" width="0.29" height="3.40" fill="#a86a5f" fill-opacity="0.36"/>
<rect x="99.84" y="74.47" width="0.29" height="3.40" fill="#a86a5f" fill-opacity="0.36"/>
<rect x="104.16" y="74.47" width="0.29" height="3.40" fill="#5f8a55" fill-opacity="0.36"/>
<rect x="108.49" y="74.47" width="0.29" height="3.40" fill="#5f8a55" fill-opacity="0.36"/>
<rect x="109.06" y="74.47" width="0.29" height="3.40" fill="#3a3a3a" fill-opacity="0.36"/>
<rect x="111.66" y="74.47" width="0.29" height="3.40" fill="#5f8a55" fill-opacity="0.36"/>
<rect x="121.46" y="74.47" width="0.29" height="3.40" fill="#5a6f8a" fill-opacity="0.36"/>
<text x="36.00" y="77.67" font-size="3.5" text-anchor="end" font-weight="normal" fill="#333" stroke="#333" stroke-width="0.18" >LRP1B</text>
<text x="133.20" y="77.57" font-size="3.5" text-anchor="start" font-weight="normal" fill="#222" stroke="#222" stroke-width="0.22" >15%</text>
<rect x="143.00" y="74.27" width="4.99" height="3.80" fill="#33a532" />
<rect x="147.99" y="74.27" width="1.66" height="3.80" fill="#111111" />
<rect x="37.00" y="78.50" width="95.70" height="4.00" fill="#efeff0" />
<rect x="37.29" y="78.80" width="0.29" height="3.40" fill="#a86a5f" fill-opacity="0.36"/>
<rect x="37.58" y="78.80" width="0.29" height="3.40" fill="#5f8a55" fill-opacity="0.36"/>
<rect x="40.46" y="78.80" width="0.29" height="3.40" fill="#a86a5f" fill-opacity="0.36"/>
<rect x="41.61" y="78.80" width="0.29" height="3.40" fill="#5f8a55" fill-opacity="0.36"/>
<rect x="43.34" y="78.80" width="0.29" height="3.40" fill="#5f8a55" fill-opacity="0.36"/>
<rect x="45.36" y="78.80" width="0.29" height="3.40" fill="#5f8a55" fill-opacity="0.36"/>
<rect x="51.12" y="78.80" width="0.29" height="3.40" fill="#5a6f8a" fill-opacity="0.36"/>
<rect x="52.57" y="78.80" width="0.29" height="3.40" fill="#b0a0b0" fill-opacity="0.36"/>
<rect x="54.87" y="78.80" width="0.29" height="3.40" fill="#5f8a55" fill-opacity="0.36"/>
<rect x="56.60" y="78.80" width="0.29" height="3.40" fill="#5f8a55" fill-opacity="0.36"/>
<rect x="69.00" y="78.80" width="0.29" height="3.40" fill="#5a6f8a" fill-opacity="0.36"/>
<rect x="80.24" y="78.80" width="0.29" height="3.40" fill="#3a3a3a" fill-opacity="0.36"/>
<rect x="82.26" y="78.80" width="0.29" height="3.40" fill="#5f8a55" fill-opacity="0.36"/>
<rect x="86.87" y="78.80" width="0.29" height="3.40" fill="#a86a5f" fill-opacity="0.36"/>
<rect x="88.89" y="78.80" width="0.29" height="3.40" fill="#a86a5f" fill-opacity="0.36"/>
<rect x="99.55" y="78.80" width="0.29" height="3.40" fill="#5f8a55" fill-opacity="0.36"/>
<rect x="100.42" y="78.80" width="0.29" height="3.40" fill="#5f8a55" fill-opacity="0.36"/>
<rect x="105.32" y="78.80" width="0.29" height="3.40" fill="#5f8a55" fill-opacity="0.36"/>
<rect x="108.20" y="78.80" width="0.29" height="3.40" fill="#8a6a90" fill-opacity="0.36"/>
<rect x="111.37" y="78.80" width="0.29" height="3.40" fill="#a86a5f" fill-opacity="0.36"/>
<rect x="112.23" y="78.80" width="0.29" height="3.40" fill="#3a3a3a" fill-opacity="0.36"/>
<rect x="115.98" y="78.80" width="0.29" height="3.40" fill="#5f8a55" fill-opacity="0.36"/>
<rect x="119.73" y="78.80" width="0.29" height="3.40" fill="#5f8a55" fill-opacity="0.36"/>
<rect x="121.46" y="78.80" width="0.29" height="3.40" fill="#5f8a55" fill-opacity="0.36"/>
<rect x="123.19" y="78.80" width="0.29" height="3.40" fill="#a86a5f" fill-opacity="0.36"/>
<rect x="126.93" y="78.80" width="0.29" height="3.40" fill="#5f8a55" fill-opacity="0.36"/>
<text x="36.00" y="82.00" font-size="3.5" text-anchor="end" font-weight="normal" fill="#333" stroke="#333" stroke-width="0.18" >KMT2D</text>
<text x="133.20" y="81.90" font-size="3.5" text-anchor="start" font-weight="normal" fill="#222" stroke="#222" stroke-width="0.22" >12%</text>
<rect x="143.00" y="78.60" width="3.46" height="3.80" fill="#33a532" />
<rect x="146.46" y="78.60" width="1.86" height="3.80" fill="#d93035" />
<rect x="37.00" y="82.83" width="95.70" height="4.00" fill="#efeff0" />
<rect x="37.29" y="83.13" width="0.29" height="3.40" fill="#5f8a55" fill-opacity="0.36"/>
<rect x="37.86" y="83.13" width="0.29" height="3.40" fill="#5f8a55" fill-opacity="0.36"/>
<rect x="38.73" y="83.13" width="0.29" height="3.40" fill="#5a6f8a" fill-opacity="0.36"/>
<rect x="43.92" y="83.13" width="0.29" height="3.40" fill="#5f8a55" fill-opacity="0.36"/>
<rect x="49.68" y="83.13" width="0.29" height="3.40" fill="#5f8a55" fill-opacity="0.36"/>
<rect x="57.47" y="83.13" width="0.58" height="3.40" fill="#5f8a55" fill-opacity="0.36"/>
<rect x="60.35" y="83.13" width="0.29" height="3.40" fill="#3a3a3a" fill-opacity="0.36"/>
<rect x="61.21" y="83.13" width="0.29" height="3.40" fill="#5f8a55" fill-opacity="0.36"/>
<rect x="64.38" y="83.13" width="0.29" height="3.40" fill="#3a3a3a" fill-opacity="0.36"/>
<rect x="64.67" y="83.13" width="0.29" height="3.40" fill="#8a6a90" fill-opacity="0.36"/>
<rect x="70.73" y="83.13" width="0.29" height="3.40" fill="#5f8a55" fill-opacity="0.36"/>
<rect x="80.81" y="83.13" width="0.29" height="3.40" fill="#5f8a55" fill-opacity="0.36"/>
<rect x="81.10" y="83.13" width="0.29" height="3.40" fill="#a86a5f" fill-opacity="0.36"/>
<rect x="84.56" y="83.13" width="0.29" height="3.40" fill="#a86a5f" fill-opacity="0.36"/>
<rect x="85.14" y="83.13" width="0.29" height="3.40" fill="#3a3a3a" fill-opacity="0.36"/>
<rect x="88.60" y="83.13" width="0.29" height="3.40" fill="#5f8a55" fill-opacity="0.36"/>
<rect x="91.77" y="83.13" width="0.29" height="3.40" fill="#5f8a55" fill-opacity="0.36"/>
<rect x="92.34" y="83.13" width="0.29" height="3.40" fill="#b0a0b0" fill-opacity="0.36"/>
<rect x="93.79" y="83.13" width="0.29" height="3.40" fill="#3a3a3a" fill-opacity="0.36"/>
<rect x="95.23" y="83.13" width="0.29" height="3.40" fill="#5f8a55" fill-opacity="0.36"/>
<rect x="97.82" y="83.13" width="0.29" height="3.40" fill="#8a6a90" fill-opacity="0.36"/>
<rect x="112.23" y="83.13" width="0.29" height="3.40" fill="#5f8a55" fill-opacity="0.36"/>
<rect x="112.81" y="83.13" width="0.29" height="3.40" fill="#5f8a55" fill-opacity="0.36"/>
<rect x="116.27" y="83.13" width="0.29" height="3.40" fill="#5f8a55" fill-opacity="0.36"/>
<rect x="125.78" y="83.13" width="0.29" height="3.40" fill="#5f8a55" fill-opacity="0.36"/>
<rect x="128.66" y="83.13" width="0.29" height="3.40" fill="#5f8a55" fill-opacity="0.36"/>
<rect x="130.68" y="83.13" width="0.29" height="3.40" fill="#a86a5f" fill-opacity="0.36"/>
<text x="36.00" y="86.33" font-size="3.5" text-anchor="end" font-weight="normal" fill="#333" stroke="#333" stroke-width="0.18" >PCLO</text>
<text x="133.20" y="86.23" font-size="3.5" text-anchor="start" font-weight="normal" fill="#222" stroke="#222" stroke-width="0.22" >13%</text>
<rect x="143.00" y="82.93" width="4.32" height="3.80" fill="#33a532" />
<rect x="147.32" y="82.93" width="1.44" height="3.80" fill="#111111" />
<rect x="37.00" y="87.16" width="95.70" height="4.00" fill="#efeff0" />
<rect x="37.29" y="87.46" width="0.29" height="3.40" fill="#c0a070" fill-opacity="0.36"/>
<rect x="37.86" y="87.46" width="0.29" height="3.40" fill="#5f8a55" fill-opacity="0.36"/>
<rect x="38.15" y="87.46" width="0.29" height="3.40" fill="#c0a070" fill-opacity="0.36"/>
<rect x="39.02" y="87.46" width="0.29" height="3.40" fill="#5f8a55" fill-opacity="0.36"/>
<rect x="40.17" y="87.46" width="0.29" height="3.40" fill="#a86a5f" fill-opacity="0.36"/>
<rect x="41.04" y="87.46" width="0.29" height="3.40" fill="#8a6a90" fill-opacity="0.36"/>
<rect x="41.90" y="87.46" width="0.29" height="3.40" fill="#3a3a3a" fill-opacity="0.36"/>
<rect x="42.48" y="87.46" width="0.29" height="3.40" fill="#5a6f8a" fill-opacity="0.36"/>
<rect x="45.36" y="87.46" width="0.29" height="3.40" fill="#3a3a3a" fill-opacity="0.36"/>
<rect x="50.55" y="87.46" width="0.29" height="3.40" fill="#5a6f8a" fill-opacity="0.36"/>
<rect x="53.43" y="87.46" width="0.29" height="3.40" fill="#a86a5f" fill-opacity="0.36"/>
<rect x="59.77" y="87.46" width="0.29" height="3.40" fill="#a86a5f" fill-opacity="0.36"/>
<rect x="68.42" y="87.46" width="0.29" height="3.40" fill="#5f8a55" fill-opacity="0.36"/>
<rect x="75.63" y="87.46" width="0.29" height="3.40" fill="#5a6f8a" fill-opacity="0.36"/>
<rect x="82.54" y="87.46" width="0.29" height="3.40" fill="#5f8a55" fill-opacity="0.36"/>
<rect x="83.70" y="87.46" width="0.29" height="3.40" fill="#5a6f8a" fill-opacity="0.36"/>
<rect x="88.02" y="87.46" width="0.29" height="3.40" fill="#5f8a55" fill-opacity="0.36"/>
<rect x="108.49" y="87.46" width="0.29" height="3.40" fill="#5f8a55" fill-opacity="0.36"/>
<rect x="118.00" y="87.46" width="0.29" height="3.40" fill="#5f8a55" fill-opacity="0.36"/>
<rect x="120.02" y="87.46" width="0.29" height="3.40" fill="#5f8a55" fill-opacity="0.36"/>
<rect x="121.75" y="87.46" width="0.29" height="3.40" fill="#3a3a3a" fill-opacity="0.36"/>
<rect x="122.61" y="87.46" width="0.29" height="3.40" fill="#5f8a55" fill-opacity="0.36"/>
<rect x="123.76" y="87.46" width="0.29" height="3.40" fill="#a86a5f" fill-opacity="0.36"/>
<rect x="127.22" y="87.46" width="0.29" height="3.40" fill="#8a6a90" fill-opacity="0.36"/>
<text x="36.00" y="90.66" font-size="3.5" text-anchor="end" font-weight="normal" fill="#333" stroke="#333" stroke-width="0.18" >DNAH5</text>
<text x="133.20" y="90.56" font-size="3.5" text-anchor="start" font-weight="normal" fill="#222" stroke="#222" stroke-width="0.22" >11%</text>
<rect x="143.00" y="87.26" width="3.17" height="3.80" fill="#33a532" />
<rect x="146.17" y="87.26" width="1.71" height="3.80" fill="#d93035" />
<rect x="37.00" y="91.49" width="95.70" height="4.00" fill="#efeff0" />
<rect x="37.00" y="91.79" width="0.29" height="3.40" fill="#5f8a55" fill-opacity="0.36"/>
<rect x="39.02" y="91.79" width="0.29" height="3.40" fill="#5f8a55" fill-opacity="0.36"/>
<rect x="39.31" y="91.79" width="0.29" height="3.40" fill="#3a3a3a" fill-opacity="0.36"/>
<rect x="41.61" y="91.79" width="0.29" height="3.40" fill="#5f8a55" fill-opacity="0.36"/>
<rect x="44.78" y="91.79" width="0.29" height="3.40" fill="#8a6a90" fill-opacity="0.36"/>
<rect x="49.39" y="91.79" width="0.29" height="3.40" fill="#5f8a55" fill-opacity="0.36"/>
<rect x="49.68" y="91.79" width="0.29" height="3.40" fill="#a86a5f" fill-opacity="0.36"/>
<rect x="50.55" y="91.79" width="0.29" height="3.40" fill="#5f8a55" fill-opacity="0.36"/>
<rect x="50.84" y="91.79" width="0.29" height="3.40" fill="#c0a070" fill-opacity="0.36"/>
<rect x="54.30" y="91.79" width="0.29" height="3.40" fill="#b0a0b0" fill-opacity="0.36"/>
<rect x="55.45" y="91.79" width="0.29" height="3.40" fill="#a86a5f" fill-opacity="0.36"/>
<rect x="60.35" y="91.79" width="0.29" height="3.40" fill="#8a6a90" fill-opacity="0.36"/>
<rect x="62.94" y="91.79" width="0.29" height="3.40" fill="#3a3a3a" fill-opacity="0.36"/>
<rect x="63.52" y="91.79" width="0.29" height="3.40" fill="#3a3a3a" fill-opacity="0.36"/>
<rect x="68.42" y="91.79" width="0.29" height="3.40" fill="#5f8a55" fill-opacity="0.36"/>
<rect x="73.61" y="91.79" width="0.29" height="3.40" fill="#5f8a55" fill-opacity="0.36"/>
<rect x="75.63" y="91.79" width="0.29" height="3.40" fill="#5f8a55" fill-opacity="0.36"/>
<rect x="80.24" y="91.79" width="0.29" height="3.40" fill="#5f8a55" fill-opacity="0.36"/>
<rect x="83.41" y="91.79" width="0.29" height="3.40" fill="#8a6a90" fill-opacity="0.36"/>
<rect x="100.13" y="91.79" width="0.29" height="3.40" fill="#8a6a90" fill-opacity="0.36"/>
<rect x="100.42" y="91.79" width="0.29" height="3.40" fill="#5f8a55" fill-opacity="0.36"/>
<rect x="104.45" y="91.79" width="0.29" height="3.40" fill="#5f8a55" fill-opacity="0.36"/>
<rect x="115.12" y="91.79" width="0.29" height="3.40" fill="#5f8a55" fill-opacity="0.36"/>
<rect x="116.27" y="91.79" width="0.29" height="3.40" fill="#3a3a3a" fill-opacity="0.36"/>
<rect x="127.22" y="91.79" width="0.29" height="3.40" fill="#c0a070" fill-opacity="0.36"/>
<rect x="130.97" y="91.79" width="0.29" height="3.40" fill="#5f8a55" fill-opacity="0.36"/>
<text x="36.00" y="94.99" font-size="3.5" text-anchor="end" font-weight="normal" fill="#333" stroke="#333" stroke-width="0.18" >FLG</text>
<text x="133.20" y="94.89" font-size="3.5" text-anchor="start" font-weight="normal" fill="#222" stroke="#222" stroke-width="0.22" >12%</text>
<rect x="143.00" y="91.59" width="3.46" height="3.80" fill="#33a532" />
<rect x="146.46" y="91.59" width="1.86" height="3.80" fill="#d93035" />
<rect x="37.00" y="95.82" width="95.70" height="4.00" fill="#efeff0" />
<rect x="37.00" y="96.12" width="0.29" height="3.40" fill="#5f8a55" fill-opacity="0.36"/>
<rect x="41.90" y="96.12" width="0.58" height="3.40" fill="#5f8a55" fill-opacity="0.36"/>
<rect x="44.21" y="96.12" width="0.29" height="3.40" fill="#5f8a55" fill-opacity="0.36"/>
<rect x="54.01" y="96.12" width="0.29" height="3.40" fill="#5f8a55" fill-opacity="0.36"/>
<rect x="54.58" y="96.12" width="0.29" height="3.40" fill="#5a6f8a" fill-opacity="0.36"/>
<rect x="55.74" y="96.12" width="0.29" height="3.40" fill="#a86a5f" fill-opacity="0.36"/>
<rect x="60.35" y="96.12" width="0.29" height="3.40" fill="#5f8a55" fill-opacity="0.36"/>
<rect x="62.37" y="96.12" width="0.29" height="3.40" fill="#5a6f8a" fill-opacity="0.36"/>
<rect x="62.94" y="96.12" width="0.29" height="3.40" fill="#8a6a90" fill-opacity="0.36"/>
<rect x="64.38" y="96.12" width="0.29" height="3.40" fill="#a86a5f" fill-opacity="0.36"/>
<rect x="65.54" y="96.12" width="0.29" height="3.40" fill="#a86a5f" fill-opacity="0.36"/>
<rect x="68.13" y="96.12" width="0.29" height="3.40" fill="#c0a070" fill-opacity="0.36"/>
<rect x="77.07" y="96.12" width="0.29" height="3.40" fill="#5f8a55" fill-opacity="0.36"/>
<rect x="78.22" y="96.12" width="0.29" height="3.40" fill="#8a6a90" fill-opacity="0.36"/>
<rect x="79.66" y="96.12" width="0.29" height="3.40" fill="#5f8a55" fill-opacity="0.36"/>
<rect x="84.27" y="96.12" width="0.29" height="3.40" fill="#5f8a55" fill-opacity="0.36"/>
<rect x="87.16" y="96.12" width="0.29" height="3.40" fill="#5f8a55" fill-opacity="0.36"/>
<rect x="90.04" y="96.12" width="0.29" height="3.40" fill="#5f8a55" fill-opacity="0.36"/>
<rect x="95.23" y="96.12" width="0.29" height="3.40" fill="#b0a0b0" fill-opacity="0.36"/>
<rect x="101.28" y="96.12" width="0.29" height="3.40" fill="#a86a5f" fill-opacity="0.36"/>
<rect x="107.91" y="96.12" width="0.29" height="3.40" fill="#3a3a3a" fill-opacity="0.36"/>
<rect x="113.68" y="96.12" width="0.58" height="3.40" fill="#5f8a55" fill-opacity="0.36"/>
<rect x="131.26" y="96.12" width="0.29" height="3.40" fill="#5f8a55" fill-opacity="0.36"/>
<rect x="131.55" y="96.12" width="0.29" height="3.40" fill="#5a6f8a" fill-opacity="0.36"/>
<text x="36.00" y="99.32" font-size="3.5" text-anchor="end" font-weight="normal" fill="#333" stroke="#333" stroke-width="0.18" >USH2A</text>
<text x="133.20" y="99.22" font-size="3.5" text-anchor="start" font-weight="normal" fill="#222" stroke="#222" stroke-width="0.22" >12%</text>
<rect x="143.00" y="95.92" width="3.99" height="3.80" fill="#33a532" />
<rect x="146.99" y="95.92" width="1.33" height="3.80" fill="#111111" />
<rect x="37.00" y="100.15" width="95.70" height="4.00" fill="#efeff0" />
<rect x="37.00" y="100.45" width="0.29" height="3.40" fill="#5f8a55" fill-opacity="0.36"/>
<rect x="38.15" y="100.45" width="0.29" height="3.40" fill="#3a3a3a" fill-opacity="0.36"/>
<rect x="39.31" y="100.45" width="0.29" height="3.40" fill="#5f8a55" fill-opacity="0.36"/>
<rect x="39.88" y="100.45" width="0.29" height="3.40" fill="#3a3a3a" fill-opacity="0.36"/>
<rect x="40.75" y="100.45" width="0.29" height="3.40" fill="#5f8a55" fill-opacity="0.36"/>
<rect x="44.49" y="100.45" width="0.29" height="3.40" fill="#a86a5f" fill-opacity="0.36"/>
<rect x="46.80" y="100.45" width="0.29" height="3.40" fill="#5f8a55" fill-opacity="0.36"/>
<rect x="49.97" y="100.45" width="0.29" height="3.40" fill="#5f8a55" fill-opacity="0.36"/>
<rect x="56.60" y="100.45" width="0.29" height="3.40" fill="#a86a5f" fill-opacity="0.36"/>
<rect x="61.21" y="100.45" width="0.58" height="3.40" fill="#5f8a55" fill-opacity="0.36"/>
<rect x="64.67" y="100.45" width="0.29" height="3.40" fill="#8a6a90" fill-opacity="0.36"/>
<rect x="65.54" y="100.45" width="0.29" height="3.40" fill="#5a6f8a" fill-opacity="0.36"/>
<rect x="66.69" y="100.45" width="0.29" height="3.40" fill="#8a6a90" fill-opacity="0.36"/>
<rect x="67.55" y="100.45" width="0.29" height="3.40" fill="#5f8a55" fill-opacity="0.36"/>
<rect x="69.86" y="100.45" width="0.29" height="3.40" fill="#5a6f8a" fill-opacity="0.36"/>
<rect x="70.73" y="100.45" width="0.29" height="3.40" fill="#8a6a90" fill-opacity="0.36"/>
<rect x="74.47" y="100.45" width="0.29" height="3.40" fill="#5f8a55" fill-opacity="0.36"/>
<rect x="83.41" y="100.45" width="0.29" height="3.40" fill="#8a6a90" fill-opacity="0.36"/>
<rect x="90.33" y="100.45" width="0.29" height="3.40" fill="#a86a5f" fill-opacity="0.36"/>
<rect x="93.21" y="100.45" width="0.29" height="3.40" fill="#5f8a55" fill-opacity="0.36"/>
<rect x="94.94" y="100.45" width="0.29" height="3.40" fill="#5f8a55" fill-opacity="0.36"/>
<rect x="101.28" y="100.45" width="0.29" height="3.40" fill="#5f8a55" fill-opacity="0.36"/>
<rect x="103.87" y="100.45" width="0.29" height="3.40" fill="#5f8a55" fill-opacity="0.36"/>
<rect x="119.73" y="100.45" width="0.29" height="3.40" fill="#5f8a55" fill-opacity="0.36"/>
<rect x="123.48" y="100.45" width="0.29" height="3.40" fill="#5a6f8a" fill-opacity="0.36"/>
<text x="36.00" y="103.65" font-size="3.5" text-anchor="end" font-weight="normal" fill="#333" stroke="#333" stroke-width="0.18" >NSD1</text>
<text x="133.20" y="103.55" font-size="3.5" text-anchor="start" font-weight="normal" fill="#222" stroke="#222" stroke-width="0.22" >12%</text>
<rect x="143.00" y="100.25" width="2.66" height="3.80" fill="#33a532" />
<rect x="145.66" y="100.25" width="1.60" height="3.80" fill="#d93035" />
<rect x="147.26" y="100.25" width="1.06" height="3.80" fill="#111111" />
<rect x="37.00" y="104.48" width="95.70" height="4.00" fill="#efeff0" />
<rect x="37.00" y="104.78" width="0.29" height="3.40" fill="#5f8a55" fill-opacity="0.36"/>
<rect x="38.15" y="104.78" width="0.29" height="3.40" fill="#5f8a55" fill-opacity="0.36"/>
<rect x="47.38" y="104.78" width="0.29" height="3.40" fill="#5f8a55" fill-opacity="0.36"/>
<rect x="52.85" y="104.78" width="0.29" height="3.40" fill="#5f8a55" fill-opacity="0.36"/>
<rect x="56.02" y="104.78" width="0.58" height="3.40" fill="#a86a5f" fill-opacity="0.36"/>
<rect x="65.83" y="104.78" width="0.29" height="3.40" fill="#a86a5f" fill-opacity="0.36"/>
<rect x="74.18" y="104.78" width="0.29" height="3.40" fill="#8a6a90" fill-opacity="0.36"/>
<rect x="77.64" y="104.78" width="0.29" height="3.40" fill="#5f8a55" fill-opacity="0.36"/>
<rect x="79.95" y="104.78" width="0.29" height="3.40" fill="#a86a5f" fill-opacity="0.36"/>
<rect x="82.26" y="104.78" width="0.29" height="3.40" fill="#b0a0b0" fill-opacity="0.36"/>
<rect x="83.41" y="104.78" width="0.29" height="3.40" fill="#a86a5f" fill-opacity="0.36"/>
<rect x="88.89" y="104.78" width="0.29" height="3.40" fill="#5f8a55" fill-opacity="0.36"/>
<rect x="90.04" y="104.78" width="0.29" height="3.40" fill="#5f8a55" fill-opacity="0.36"/>
<rect x="92.34" y="104.78" width="0.29" height="3.40" fill="#5f8a55" fill-opacity="0.36"/>
<rect x="94.94" y="104.78" width="0.29" height="3.40" fill="#a86a5f" fill-opacity="0.36"/>
<rect x="106.18" y="104.78" width="0.29" height="3.40" fill="#5f8a55" fill-opacity="0.36"/>
<rect x="112.81" y="104.78" width="0.29" height="3.40" fill="#5f8a55" fill-opacity="0.36"/>
<rect x="132.12" y="104.78" width="0.29" height="3.40" fill="#8a6a90" fill-opacity="0.36"/>
<text x="36.00" y="107.98" font-size="3.5" text-anchor="end" font-weight="normal" fill="#333" stroke="#333" stroke-width="0.18" >CASP8</text>
<text x="133.20" y="107.88" font-size="3.5" text-anchor="start" font-weight="normal" fill="#222" stroke="#222" stroke-width="0.22" >9%</text>
<rect x="143.00" y="104.58" width="3.19" height="3.80" fill="#d93035" />
<rect x="146.19" y="104.58" width="0.80" height="3.80" fill="#33a532" />
<rect x="37.00" y="108.81" width="95.70" height="4.00" fill="#efeff0" />
<rect x="37.00" y="109.11" width="0.29" height="3.40" fill="#a86a5f" fill-opacity="0.36"/>
<rect x="37.29" y="109.11" width="0.29" height="3.40" fill="#5f8a55" fill-opacity="0.36"/>
<rect x="37.86" y="109.11" width="0.29" height="3.40" fill="#5f8a55" fill-opacity="0.36"/>
<rect x="38.15" y="109.11" width="0.29" height="3.40" fill="#8a6a90" fill-opacity="0.36"/>
<rect x="38.73" y="109.11" width="0.29" height="3.40" fill="#5f8a55" fill-opacity="0.36"/>
<rect x="39.02" y="109.11" width="0.29" height="3.40" fill="#a86a5f" fill-opacity="0.36"/>
<rect x="43.92" y="109.11" width="0.29" height="3.40" fill="#3a3a3a" fill-opacity="0.36"/>
<rect x="44.78" y="109.11" width="0.29" height="3.40" fill="#5f8a55" fill-opacity="0.36"/>
<rect x="45.94" y="109.11" width="0.29" height="3.40" fill="#3a3a3a" fill-opacity="0.36"/>
<rect x="47.09" y="109.11" width="0.29" height="3.40" fill="#5f8a55" fill-opacity="0.36"/>
<rect x="49.39" y="109.11" width="0.29" height="3.40" fill="#5f8a55" fill-opacity="0.36"/>
<rect x="50.55" y="109.11" width="0.29" height="3.40" fill="#5f8a55" fill-opacity="0.36"/>
<rect x="53.72" y="109.11" width="0.29" height="3.40" fill="#5f8a55" fill-opacity="0.36"/>
<rect x="64.38" y="109.11" width="0.29" height="3.40" fill="#5f8a55" fill-opacity="0.36"/>
<rect x="82.54" y="109.11" width="0.29" height="3.40" fill="#3a3a3a" fill-opacity="0.36"/>
<rect x="83.41" y="109.11" width="0.29" height="3.40" fill="#5a6f8a" fill-opacity="0.36"/>
<rect x="87.44" y="109.11" width="0.29" height="3.40" fill="#5f8a55" fill-opacity="0.36"/>
<rect x="88.02" y="109.11" width="0.29" height="3.40" fill="#3a3a3a" fill-opacity="0.36"/>
<rect x="90.33" y="109.11" width="0.29" height="3.40" fill="#5f8a55" fill-opacity="0.36"/>
<rect x="94.36" y="109.11" width="0.29" height="3.40" fill="#5f8a55" fill-opacity="0.36"/>
<rect x="103.30" y="109.11" width="0.29" height="3.40" fill="#5f8a55" fill-opacity="0.36"/>
<rect x="114.83" y="109.11" width="0.29" height="3.40" fill="#5f8a55" fill-opacity="0.36"/>
<rect x="115.69" y="109.11" width="0.29" height="3.40" fill="#5f8a55" fill-opacity="0.36"/>
<rect x="125.78" y="109.11" width="0.29" height="3.40" fill="#a86a5f" fill-opacity="0.36"/>
<text x="36.00" y="112.31" font-size="3.5" text-anchor="end" font-weight="normal" fill="#333" stroke="#333" stroke-width="0.18" >RYR2</text>
<text x="133.20" y="112.21" font-size="3.5" text-anchor="start" font-weight="normal" fill="#222" stroke="#222" stroke-width="0.22" >11%</text>
<rect x="143.00" y="108.91" width="3.66" height="3.80" fill="#33a532" />
<rect x="146.66" y="108.91" width="1.22" height="3.80" fill="#111111" />
<rect x="37.00" y="113.14" width="95.70" height="4.00" fill="#efeff0" />
<rect x="37.86" y="113.44" width="0.29" height="3.40" fill="#5f8a55" fill-opacity="0.36"/>
<rect x="39.31" y="113.44" width="0.29" height="3.40" fill="#5f8a55" fill-opacity="0.36"/>
<rect x="41.90" y="113.44" width="0.29" height="3.40" fill="#5f8a55" fill-opacity="0.36"/>
<rect x="42.48" y="113.44" width="0.29" height="3.40" fill="#5f8a55" fill-opacity="0.36"/>
<rect x="46.80" y="113.44" width="0.29" height="3.40" fill="#5f8a55" fill-opacity="0.36"/>
<rect x="47.09" y="113.44" width="0.29" height="3.40" fill="#5a6f8a" fill-opacity="0.36"/>
<rect x="50.55" y="113.44" width="0.29" height="3.40" fill="#5f8a55" fill-opacity="0.36"/>
<rect x="51.12" y="113.44" width="0.29" height="3.40" fill="#5a6f8a" fill-opacity="0.36"/>
<rect x="54.30" y="113.44" width="0.29" height="3.40" fill="#a86a5f" fill-opacity="0.36"/>
<rect x="54.87" y="113.44" width="0.29" height="3.40" fill="#a86a5f" fill-opacity="0.36"/>
<rect x="60.06" y="113.44" width="0.29" height="3.40" fill="#5f8a55" fill-opacity="0.36"/>
<rect x="60.92" y="113.44" width="0.29" height="3.40" fill="#5f8a55" fill-opacity="0.36"/>
<rect x="63.23" y="113.44" width="0.29" height="3.40" fill="#5f8a55" fill-opacity="0.36"/>
<rect x="64.96" y="113.44" width="0.29" height="3.40" fill="#3a3a3a" fill-opacity="0.36"/>
<rect x="77.93" y="113.44" width="0.29" height="3.40" fill="#3a3a3a" fill-opacity="0.36"/>
<rect x="80.81" y="113.44" width="0.29" height="3.40" fill="#5f8a55" fill-opacity="0.36"/>
<rect x="92.06" y="113.44" width="0.29" height="3.40" fill="#5f8a55" fill-opacity="0.36"/>
<rect x="110.79" y="113.44" width="0.29" height="3.40" fill="#5f8a55" fill-opacity="0.36"/>
<rect x="128.95" y="113.44" width="0.29" height="3.40" fill="#5f8a55" fill-opacity="0.36"/>
<text x="36.00" y="116.64" font-size="3.5" text-anchor="end" font-weight="normal" fill="#333" stroke="#333" stroke-width="0.18" >XIRP2</text>
<text x="133.20" y="116.54" font-size="3.5" text-anchor="start" font-weight="normal" fill="#222" stroke="#222" stroke-width="0.22" >9%</text>
<rect x="143.00" y="113.24" width="3.99" height="3.80" fill="#33a532" />
<rect x="37.00" y="117.47" width="95.70" height="4.00" fill="#efeff0" />
<rect x="40.75" y="117.77" width="0.29" height="3.40" fill="#5f8a55" fill-opacity="0.36"/>
<rect x="42.77" y="117.77" width="0.29" height="3.40" fill="#5a6f8a" fill-opacity="0.36"/>
<rect x="47.95" y="117.77" width="0.29" height="3.40" fill="#5f8a55" fill-opacity="0.36"/>
<rect x="55.45" y="117.77" width="0.29" height="3.40" fill="#5f8a55" fill-opacity="0.36"/>
<rect x="64.96" y="117.77" width="0.29" height="3.40" fill="#5f8a55" fill-opacity="0.36"/>
<rect x="65.25" y="117.77" width="0.29" height="3.40" fill="#3a3a3a" fill-opacity="0.36"/>
<rect x="68.42" y="117.77" width="0.29" height="3.40" fill="#5f8a55" fill-opacity="0.36"/>
<rect x="71.88" y="117.77" width="0.29" height="3.40" fill="#5a6f8a" fill-opacity="0.36"/>
<rect x="75.34" y="117.77" width="0.29" height="3.40" fill="#b0a0b0" fill-opacity="0.36"/>
<rect x="77.93" y="117.77" width="0.29" height="3.40" fill="#3a3a3a" fill-opacity="0.36"/>
<rect x="82.83" y="117.77" width="0.29" height="3.40" fill="#5f8a55" fill-opacity="0.36"/>
<rect x="84.56" y="117.77" width="0.29" height="3.40" fill="#5f8a55" fill-opacity="0.36"/>
<rect x="88.02" y="117.77" width="0.29" height="3.40" fill="#5f8a55" fill-opacity="0.36"/>
<rect x="93.21" y="117.77" width="0.29" height="3.40" fill="#3a3a3a" fill-opacity="0.36"/>
<rect x="93.50" y="117.77" width="0.29" height="3.40" fill="#5f8a55" fill-opacity="0.36"/>
<rect x="100.13" y="117.77" width="0.29" height="3.40" fill="#5f8a55" fill-opacity="0.36"/>
<rect x="101.86" y="117.77" width="0.29" height="3.40" fill="#5f8a55" fill-opacity="0.36"/>
<rect x="113.96" y="117.77" width="0.29" height="3.40" fill="#5f8a55" fill-opacity="0.36"/>
<rect x="114.83" y="117.77" width="0.29" height="3.40" fill="#3a3a3a" fill-opacity="0.36"/>
<rect x="125.21" y="117.77" width="0.29" height="3.40" fill="#3a3a3a" fill-opacity="0.36"/>
<rect x="131.26" y="117.77" width="0.29" height="3.40" fill="#b0a0b0" fill-opacity="0.36"/>
<rect x="132.41" y="117.77" width="0.29" height="3.40" fill="#5f8a55" fill-opacity="0.36"/>
<text x="36.00" y="120.97" font-size="3.5" text-anchor="end" font-weight="normal" fill="#333" stroke="#333" stroke-width="0.18" >PKHD1L1</text>
<text x="133.20" y="120.87" font-size="3.5" text-anchor="start" font-weight="normal" fill="#222" stroke="#222" stroke-width="0.22" >10%</text>
<rect x="143.00" y="117.57" width="4.44" height="3.80" fill="#33a532" />
<line x1="143.00" y1="34.00" x2="171.00" y2="34.00" stroke="#000" stroke-width="0.9" />
<line x1="143.00" y1="33.60" x2="143.00" y2="35.00" stroke="#000" stroke-width="0.9" />
<line x1="171.00" y1="33.60" x2="171.00" y2="35.00" stroke="#000" stroke-width="0.9" />
<text x="143.00" y="31.00" font-size="2.6" text-anchor="middle" font-weight="normal" fill="#000" stroke="#000" stroke-width="0.08" >0</text>
<text x="171.00" y="31.00" font-size="2.6" text-anchor="middle" font-weight="normal" fill="#000" stroke="#000" stroke-width="0.08" >200</text>
<text x="157.00" y="32.90" font-size="2.4" text-anchor="middle" font-weight="normal" fill="#a05050" >No. of samples</text>
<rect x="37.00" y="123.75" width="95.70" height="6.85" fill="#0f4692" stroke="#082b63" stroke-width="0.7"/>
<text x="135.00" y="128.60" font-size="3.6" text-anchor="start" font-weight="normal" fill="#222" stroke="#222" stroke-width="0.08" >Risk</text>
<text x="111.00" y="136.40" font-size="3.6" text-anchor="start" font-weight="normal" fill="#222" stroke="#222" stroke-width="0.08" >Risk</text>
<circle cx="113.50" cy="140.3" r="0.7" fill="#c03060"/>
<circle cx="113.50" cy="144.5" r="0.7" fill="#111"/>
<text x="117.00" y="141.60" font-size="3.5" text-anchor="start" font-weight="normal" fill="#222" stroke="#222" stroke-width="0.08" >high</text>
<text x="117.00" y="145.80" font-size="3.5" text-anchor="start" font-weight="normal" fill="#222" stroke="#222" stroke-width="0.08" >low</text>
<rect x="24.15" y="134.05" width="1.20" height="1.20" fill="#2a8a2a" />
<text x="27.65" y="136.05" font-size="3.6" text-anchor="start" font-weight="normal" fill="#3a2a2a" stroke="#3a2a2a" stroke-width="0.12" >Missense_Mutation</text>
<rect x="24.15" y="138.20" width="1.20" height="1.20" fill="#a02020" />
<text x="27.65" y="140.20" font-size="3.6" text-anchor="start" font-weight="normal" fill="#3a2a2a" stroke="#3a2a2a" stroke-width="0.12" >Frame_Shift_Ins</text>
<rect x="24.15" y="142.50" width="1.20" height="1.20" fill="#c02020" />
<text x="27.65" y="144.50" font-size="3.6" text-anchor="start" font-weight="normal" fill="#3a2a2a" stroke="#3a2a2a" stroke-width="0.12" >Nonsense_Mutation</text>
<rect x="24.15" y="146.70" width="1.20" height="1.20" fill="#e0d070" />
<text x="27.65" y="148.70" font-size="3.6" text-anchor="start" font-weight="normal" fill="#3a2a2a" stroke="#3a2a2a" stroke-width="0.12" >In_Frame_Del</text>
<rect x="66.30" y="134.05" width="1.20" height="1.20" fill="#1f5f94" />
<text x="69.80" y="136.05" font-size="3.6" text-anchor="start" font-weight="normal" fill="#3a2a2a" stroke="#3a2a2a" stroke-width="0.12" >Frame_Shift_Del</text>
<rect x="66.30" y="138.20" width="1.20" height="1.20" fill="#c08080" />
<text x="69.80" y="140.20" font-size="3.6" text-anchor="start" font-weight="normal" fill="#3a2a2a" stroke="#3a2a2a" stroke-width="0.12" >Translation_Start_Site</text>
<rect x="66.30" y="142.50" width="1.20" height="1.20" fill="#d06030" />
<text x="69.80" y="144.50" font-size="3.6" text-anchor="start" font-weight="normal" fill="#3a2a2a" stroke="#3a2a2a" stroke-width="0.12" >In_Frame_Ins</text>
<rect x="66.30" y="146.70" width="1.20" height="1.20" fill="#000" />
<text x="69.80" y="148.70" font-size="3.6" text-anchor="start" font-weight="normal" fill="#3a2a2a" stroke="#3a2a2a" stroke-width="0.12" >Multi_Hit</text>
<text x="265.70" y="9.70" font-size="4.7" text-anchor="start" font-weight="bold" fill="#000" stroke="#000" stroke-width="0.12" textLength="78.30000000000001" lengthAdjust="spacingAndGlyphs" >Altered in 161 (96.41%) of 167 samples.</text>
<line x1="243.10" y1="13.10" x2="243.10" y2="33.20" stroke="#000" stroke-width="0.9" />
<line x1="241.30" y1="13.10" x2="243.10" y2="13.10" stroke="#000" stroke-width="0.8" />
<line x1="241.30" y1="33.20" x2="243.10" y2="33.20" stroke="#000" stroke-width="0.8" />
<text x="239.70" y="14.60" font-size="2.9" text-anchor="end" font-weight="normal" fill="#666" stroke="#666" stroke-width="0.08" >1278</text>
<text x="239.70" y="34.20" font-size="2.6" text-anchor="end" font-weight="normal" fill="#666" stroke="#666" stroke-width="0.08" >0</text>
<text x="237.40" y="23.40" font-size="3.0" text-anchor="middle" font-weight="normal" fill="#666" stroke="#666" stroke-width="0.08" transform="rotate(-90 237.4 23.4)">TMB</text>
<path d="M245.00,33.1v-1.24h0.57v1.24zM245.57,33.1v-1.49h0.57v1.49zM246.15,33.1v-1.42h0.57v1.42zM246.72,33.1v-1.36h0.57v1.36zM247.29,33.1v-1.00h0.57v1.00zM247.87,33.1v-1.41h0.57v1.41zM248.44,33.1v-1.15h0.57v1.15zM249.01,33.1v-1.02h0.57v1.02zM249.58,33.1v-1.22h0.57v1.22zM250.16,33.1v-1.56h0.57v1.56zM250.73,33.1v-0.97h0.57v0.97zM251.30,33.1v-0.85h0.57v0.85zM251.88,33.1v-1.86h0.57v1.86zM252.45,33.1v-1.24h0.57v1.24zM253.02,33.1v-0.95h0.57v0.95zM253.60,33.1v-0.56h0.57v0.56zM254.17,33.1v-0.51h0.57v0.51zM254.74,33.1v-0.64h0.57v0.64zM255.31,33.1v-1.27h0.57v1.27zM255.89,33.1v-0.84h0.57v0.84zM256.46,33.1v-1.36h0.57v1.36zM257.03,33.1v-0.41h0.57v0.41zM257.61,33.1v-0.69h0.57v0.69zM258.18,33.1v-1.03h0.57v1.03zM258.75,33.1v-0.99h0.57v0.99zM259.33,33.1v-0.82h0.57v0.82zM259.90,33.1v-0.79h0.57v0.79zM260.47,33.1v-0.44h0.57v0.44zM261.05,33.1v-0.69h0.57v0.69zM261.62,33.1v-3.18h0.57v3.18zM262.19,33.1v-0.93h0.57v0.93zM262.76,33.1v-0.99h0.57v0.99zM263.34,33.1v-0.71h0.57v0.71zM263.91,33.1v-1.52h0.57v1.52zM264.48,33.1v-1.20h0.57v1.20zM265.06,33.1v-1.11h0.57v1.11zM265.63,33.1v-1.60h0.57v1.60zM266.20,33.1v-0.72h0.57v0.72zM266.78,33.1v-0.43h0.57v0.43zM267.35,33.1v-0.98h0.57v0.98zM267.92,33.1v-0.44h0.57v0.44zM268.50,33.1v-0.49h0.57v0.49zM269.07,33.1v-1.17h0.57v1.17zM269.64,33.1v-1.41h0.57v1.41zM270.21,33.1v-1.23h0.57v1.23zM270.79,33.1v-0.68h0.57v0.68zM271.36,33.1v-1.02h0.57v1.02zM271.93,33.1v-1.03h0.57v1.03zM272.51,33.1v-0.56h0.57v0.56zM273.08,33.1v-0.65h0.57v0.65zM273.65,33.1v-1.27h0.57v1.27zM274.23,33.1v-0.96h0.57v0.96zM274.80,33.1v-0.78h0.57v0.78zM275.37,33.1v-0.98h0.57v0.98zM275.94,33.1v-0.70h0.57v0.70zM276.52,33.1v-1.13h0.57v1.13zM277.09,33.1v-1.27h0.57v1.27zM277.66,33.1v-0.86h0.57v0.86zM278.24,33.1v-1.59h0.57v1.59zM278.81,33.1v-1.09h0.57v1.09zM279.38,33.1v-0.57h0.57v0.57zM279.96,33.1v-1.50h0.57v1.50zM280.53,33.1v-0.51h0.57v0.51zM281.10,33.1v-0.91h0.57v0.91zM281.68,33.1v-0.52h0.57v0.52zM282.25,33.1v-1.35h0.57v1.35zM282.82,33.1v-1.36h0.57v1.36zM283.39,33.1v-0.49h0.57v0.49zM283.97,33.1v-0.81h0.57v0.81zM284.54,33.1v-1.42h0.57v1.42zM285.11,33.1v-1.45h0.57v1.45zM285.69,33.1v-0.80h0.57v0.80zM286.26,33.1v-1.21h0.57v1.21zM286.83,33.1v-1.34h0.57v1.34zM287.41,33.1v-1.47h0.57v1.47zM287.98,33.1v-1.60h0.57v1.60zM288.55,33.1v-0.65h0.57v0.65zM289.13,33.1v-1.21h0.57v1.21zM289.70,33.1v-0.88h0.57v0.88zM290.27,33.1v-1.52h0.57v1.52zM290.84,33.1v-0.57h0.57v0.57zM291.42,33.1v-0.70h0.57v0.70zM291.99,33.1v-1.19h0.57v1.19zM292.56,33.1v-0.49h0.57v0.49zM293.14,33.1v-1.51h0.57v1.51zM293.71,33.1v-0.77h0.57v0.77zM294.28,33.1v-0.96h0.57v0.96zM294.86,33.1v-1.23h0.57v1.23zM295.43,33.1v-1.51h0.57v1.51zM296.00,33.1v-0.78h0.57v0.78zM296.57,33.1v-1.48h0.57v1.48zM297.15,33.1v-1.31h0.57v1.31zM297.72,33.1v-1.87h0.57v1.87zM298.29,33.1v-0.94h0.57v0.94zM298.87,33.1v-0.74h0.57v0.74zM299.44,33.1v-0.52h0.57v0.52zM300.01,33.1v-0.47h0.57v0.47zM300.59,33.1v-0.46h0.57v0.46zM301.16,33.1v-1.38h0.57v1.38zM301.73,33.1v-2.18h0.57v2.18zM302.31,33.1v-2.25h0.57v2.25zM302.88,33.1v-0.43h0.57v0.43zM303.45,33.1v-2.48h0.57v2.48zM304.02,33.1v-1.13h0.57v1.13zM304.60,33.1v-0.61h0.57v0.61zM305.17,33.1v-1.36h0.57v1.36zM305.74,33.1v-1.14h0.57v1.14zM306.32,33.1v-1.59h0.57v1.59zM306.89,33.1v-1.53h0.57v1.53zM307.46,33.1v-0.43h0.57v0.43zM308.04,33.1v-1.18h0.57v1.18zM308.61,33.1v-0.90h0.57v0.90zM309.18,33.1v-1.40h0.57v1.40zM309.76,33.1v-0.42h0.57v0.42zM310.33,33.1v-1.04h0.57v1.04zM310.90,33.1v-0.83h0.57v0.83zM311.47,33.1v-0.81h0.57v0.81zM312.05,33.1v-1.44h0.57v1.44zM312.62,33.1v-1.58h0.57v1.58zM313.19,33.1v-0.68h0.57v0.68zM313.77,33.1v-1.38h0.57v1.38zM314.34,33.1v-0.44h0.57v0.44zM314.91,33.1v-1.18h0.57v1.18zM315.49,33.1v-1.25h0.57v1.25zM316.06,33.1v-0.83h0.57v0.83zM316.63,33.1v-0.73h0.57v0.73zM317.20,33.1v-1.07h0.57v1.07zM317.78,33.1v-1.37h0.57v1.37zM318.35,33.1v-0.58h0.57v0.58zM318.92,33.1v-0.88h0.57v0.88zM319.50,33.1v-1.52h0.57v1.52zM320.07,33.1v-0.55h0.57v0.55zM320.64,33.1v-0.65h0.57v0.65zM321.22,33.1v-0.71h0.57v0.71zM321.79,33.1v-1.29h0.57v1.29zM322.36,33.1v-1.45h0.57v1.45zM322.94,33.1v-1.33h0.57v1.33zM323.51,33.1v-0.82h0.57v0.82zM324.08,33.1v-0.93h0.57v0.93zM324.65,33.1v-0.66h0.57v0.66zM325.23,33.1v-1.48h0.57v1.48zM325.80,33.1v-0.65h0.57v0.65zM326.37,33.1v-0.43h0.57v0.43zM326.95,33.1v-0.42h0.57v0.42zM327.52,33.1v-1.50h0.57v1.50zM328.09,33.1v-0.82h0.57v0.82zM328.67,33.1v-0.85h0.57v0.85zM329.24,33.1v-0.85h0.57v0.85zM329.81,33.1v-1.83h0.57v1.83zM330.39,33.1v-1.25h0.57v1.25zM330.96,33.1v-0.83h0.57v0.83zM331.53,33.1v-0.91h0.57v0.91zM332.10,33.1v-1.46h0.57v1.46zM332.68,33.1v-1.58h0.57v1.58zM333.25,33.1v-0.97h0.57v0.97zM333.82,33.1v-1.32h0.57v1.32zM334.40,33.1v-0.56h0.57v0.56zM334.97,33.1v-3.02h0.57v3.02zM335.54,33.1v-0.70h0.57v0.70zM336.12,33.1v-1.13h0.57v1.13zM336.69,33.1v-2.90h0.57v2.90zM337.26,33.1v-1.42h0.57v1.42zM337.83,33.1v-0.46h0.57v0.46zM338.41,33.1v-0.93h0.57v0.93zM338.98,33.1v-0.57h0.57v0.57zM339.55,33.1v-1.22h0.57v1.22zM340.13,33.1v-0.58h0.57v0.58z" fill="#3e9a3e"/>
<rect x="245.00" y="32.30" width="95.70" height="1.00" fill="#3f9a3f" />
<rect x="251.40" y="14.40" width="0.90" height="18.70" fill="#a8c8a4" />
<rect x="249.00" y="28.10" width="0.90" height="5.00" fill="#a8c8a4" />
<rect x="255.50" y="30.10" width="0.90" height="3.00" fill="#a8c8a4" />
<rect x="317.40" y="30.10" width="0.90" height="3.00" fill="#a8c8a4" />
<rect x="320.00" y="29.60" width="0.90" height="3.50" fill="#a8c8a4" />
<rect x="245.00" y="35.20" width="95.70" height="4.00" fill="#e1e2e4" />
<rect x="245.00" y="35.50" width="2.87" height="3.40" fill="#5f8a55" fill-opacity="0.72"/>
<rect x="247.87" y="35.50" width="0.57" height="3.40" fill="#b0a0b0" fill-opacity="0.72"/>
<rect x="248.44" y="35.50" width="0.57" height="3.40" fill="#3a3a3a" fill-opacity="0.72"/>
<rect x="249.01" y="35.50" width="0.57" height="3.40" fill="#a86a5f" fill-opacity="0.72"/>
<rect x="249.58" y="35.50" width="1.15" height="3.40" fill="#5f8a55" fill-opacity="0.72"/>
<rect x="250.73" y="35.50" width="0.57" height="3.40" fill="#3a3a3a" fill-opacity="0.72"/>
<rect x="251.30" y="35.50" width="2.87" height="3.40" fill="#5f8a55" fill-opacity="0.72"/>
<rect x="254.17" y="35.50" width="0.57" height="3.40" fill="#8a6a90" fill-opacity="0.72"/>
<rect x="254.74" y="35.50" width="0.57" height="3.40" fill="#3a3a3a" fill-opacity="0.72"/>
<rect x="255.31" y="35.50" width="0.57" height="3.40" fill="#a86a5f" fill-opacity="0.72"/>
<rect x="255.89" y="35.50" width="1.72" height="3.40" fill="#5f8a55" fill-opacity="0.72"/>
<rect x="257.61" y="35.50" width="0.57" height="3.40" fill="#a86a5f" fill-opacity="0.72"/>
<rect x="258.18" y="35.50" width="0.57" height="3.40" fill="#5f8a55" fill-opacity="0.72"/>
<rect x="258.75" y="35.50" width="0.57" height="3.40" fill="#5a6f8a" fill-opacity="0.72"/>
<rect x="259.33" y="35.50" width="1.72" height="3.40" fill="#5f8a55" fill-opacity="0.72"/>
<rect x="261.05" y="35.50" width="0.57" height="3.40" fill="#3a3a3a" fill-opacity="0.72"/>
<rect x="261.62" y="35.50" width="3.44" height="3.40" fill="#5f8a55" fill-opacity="0.72"/>
<rect x="265.06" y="35.50" width="0.57" height="3.40" fill="#3a3a3a" fill-opacity="0.72"/>
<rect x="265.63" y="35.50" width="1.15" height="3.40" fill="#5f8a55" fill-opacity="0.72"/>
<rect x="266.78" y="35.50" width="0.57" height="3.40" fill="#5a6f8a" fill-opacity="0.72"/>
<rect x="267.35" y="35.50" width="0.57" height="3.40" fill="#8a6a90" fill-opacity="0.72"/>
<rect x="267.92" y="35.50" width="0.57" height="3.40" fill="#b0a0b0" fill-opacity="0.72"/>
<rect x="268.50" y="35.50" width="0.57" height="3.40" fill="#a86a5f" fill-opacity="0.72"/>
<rect x="269.07" y="35.50" width="0.57" height="3.40" fill="#3a3a3a" fill-opacity="0.72"/>
<rect x="269.64" y="35.50" width="1.15" height="3.40" fill="#5f8a55" fill-opacity="0.72"/>
<rect x="270.79" y="35.50" width="1.15" height="3.40" fill="#5a6f8a" fill-opacity="0.72"/>
<rect x="271.93" y="35.50" width="0.57" height="3.40" fill="#a86a5f" fill-opacity="0.72"/>
<rect x="272.51" y="35.50" width="0.57" height="3.40" fill="#5f8a55" fill-opacity="0.72"/>
<rect x="273.08" y="35.50" width="0.57" height="3.40" fill="#3a3a3a" fill-opacity="0.72"/>
<rect x="273.65" y="35.50" width="0.57" height="3.40" fill="#a86a5f" fill-opacity="0.72"/>
<rect x="274.23" y="35.50" width="1.15" height="3.40" fill="#5f8a55" fill-opacity="0.72"/>
<rect x="275.37" y="35.50" width="0.57" height="3.40" fill="#5a6f8a" fill-opacity="0.72"/>
<rect x="275.94" y="35.50" width="1.72" height="3.40" fill="#5f8a55" fill-opacity="0.72"/>
<rect x="277.66" y="35.50" width="0.57" height="3.40" fill="#5a6f8a" fill-opacity="0.72"/>
<rect x="278.24" y="35.50" width="0.57" height="3.40" fill="#3a3a3a" fill-opacity="0.72"/>
<rect x="278.81" y="35.50" width="0.57" height="3.40" fill="#5f8a55" fill-opacity="0.72"/>
<rect x="279.38" y="35.50" width="0.57" height="3.40" fill="#5a6f8a" fill-opacity="0.72"/>
<rect x="279.96" y="35.50" width="0.57" height="3.40" fill="#3a3a3a" fill-opacity="0.72"/>
<rect x="280.53" y="35.50" width="0.57" height="3.40" fill="#5f8a55" fill-opacity="0.72"/>
<rect x="281.10" y="35.50" width="0.57" height="3.40" fill="#a86a5f" fill-opacity="0.72"/>
<rect x="281.68" y="35.50" width="1.15" height="3.40" fill="#5f8a55" fill-opacity="0.72"/>
<rect x="282.82" y="35.50" width="0.57" height="3.40" fill="#8a6a90" fill-opacity="0.72"/>
<rect x="283.39" y="35.50" width="0.57" height="3.40" fill="#5f8a55" fill-opacity="0.72"/>
<rect x="283.97" y="35.50" width="0.57" height="3.40" fill="#a86a5f" fill-opacity="0.72"/>
<rect x="284.54" y="35.50" width="1.15" height="3.40" fill="#3a3a3a" fill-opacity="0.72"/>
<rect x="285.69" y="35.50" width="0.57" height="3.40" fill="#8a6a90" fill-opacity="0.72"/>
<rect x="286.26" y="35.50" width="0.57" height="3.40" fill="#a86a5f" fill-opacity="0.72"/>
<rect x="286.83" y="35.50" width="0.57" height="3.40" fill="#5a6f8a" fill-opacity="0.72"/>
<rect x="287.41" y="35.50" width="0.57" height="3.40" fill="#a86a5f" fill-opacity="0.72"/>
<rect x="287.98" y="35.50" width="0.57" height="3.40" fill="#8a6a90" fill-opacity="0.72"/>
<rect x="288.55" y="35.50" width="0.57" height="3.40" fill="#5f8a55" fill-opacity="0.72"/>
<rect x="289.13" y="35.50" width="0.57" height="3.40" fill="#5a6f8a" fill-opacity="0.72"/>
<rect x="289.70" y="35.50" width="0.57" height="3.40" fill="#5f8a55" fill-opacity="0.72"/>
<rect x="290.27" y="35.50" width="0.57" height="3.40" fill="#3a3a3a" fill-opacity="0.72"/>
<rect x="290.84" y="35.50" width="0.57" height="3.40" fill="#5f8a55" fill-opacity="0.72"/>
<rect x="291.42" y="35.50" width="0.57" height="3.40" fill="#a86a5f" fill-opacity="0.72"/>
<rect x="291.99" y="35.50" width="1.15" height="3.40" fill="#5f8a55" fill-opacity="0.72"/>
<rect x="293.14" y="35.50" width="0.57" height="3.40" fill="#a86a5f" fill-opacity="0.72"/>
<rect x="293.71" y="35.50" width="1.15" height="3.40" fill="#5f8a55" fill-opacity="0.72"/>
<rect x="294.86" y="35.50" width="0.57" height="3.40" fill="#5a6f8a" fill-opacity="0.72"/>
<rect x="295.43" y="35.50" width="1.15" height="3.40" fill="#3a3a3a" fill-opacity="0.72"/>
<rect x="296.57" y="35.50" width="0.57" height="3.40" fill="#5f8a55" fill-opacity="0.72"/>
<rect x="297.15" y="35.50" width="0.57" height="3.40" fill="#c0a070" fill-opacity="0.72"/>
<rect x="297.72" y="35.50" width="0.57" height="3.40" fill="#5f8a55" fill-opacity="0.72"/>
<rect x="298.29" y="35.50" width="0.57" height="3.40" fill="#a86a5f" fill-opacity="0.72"/>
<rect x="298.87" y="35.50" width="2.29" height="3.40" fill="#5f8a55" fill-opacity="0.72"/>
<rect x="301.16" y="35.50" width="0.57" height="3.40" fill="#a86a5f" fill-opacity="0.72"/>
<rect x="301.73" y="35.50" width="0.57" height="3.40" fill="#5f8a55" fill-opacity="0.72"/>
<rect x="302.31" y="35.50" width="0.57" height="3.40" fill="#8a6a90" fill-opacity="0.72"/>
<rect x="302.88" y="35.50" width="1.15" height="3.40" fill="#5f8a55" fill-opacity="0.72"/>
<rect x="304.02" y="35.50" width="0.57" height="3.40" fill="#5a6f8a" fill-opacity="0.72"/>
<rect x="304.60" y="35.50" width="1.15" height="3.40" fill="#5f8a55" fill-opacity="0.72"/>
<rect x="305.74" y="35.50" width="0.57" height="3.40" fill="#3a3a3a" fill-opacity="0.72"/>
<rect x="306.32" y="35.50" width="2.87" height="3.40" fill="#5f8a55" fill-opacity="0.72"/>
<rect x="309.18" y="35.50" width="0.57" height="3.40" fill="#3a3a3a" fill-opacity="0.72"/>
<rect x="309.76" y="35.50" width="0.57" height="3.40" fill="#5f8a55" fill-opacity="0.72"/>
<rect x="310.33" y="35.50" width="0.57" height="3.40" fill="#a86a5f" fill-opacity="0.72"/>
<rect x="310.90" y="35.50" width="0.57" height="3.40" fill="#5f8a55" fill-opacity="0.72"/>
<rect x="311.47" y="35.50" width="0.57" height="3.40" fill="#3a3a3a" fill-opacity="0.72"/>
<rect x="312.05" y="35.50" width="0.57" height="3.40" fill="#8a6a90" fill-opacity="0.72"/>
<rect x="312.62" y="35.50" width="0.57" height="3.40" fill="#c0a070" fill-opacity="0.72"/>
<rect x="313.19" y="35.50" width="0.57" height="3.40" fill="#8a6a90" fill-opacity="0.72"/>
<rect x="313.77" y="35.50" width="0.57" height="3.40" fill="#5f8a55" fill-opacity="0.72"/>
<rect x="314.34" y="35.50" width="0.57" height="3.40" fill="#c0a070" fill-opacity="0.72"/>
<text x="244.00" y="38.70" font-size="3.5" text-anchor="end" font-weight="normal" fill="#333" stroke="#333" stroke-width="0.18" >TP53</text>
<text x="341.20" y="38.60" font-size="3.5" text-anchor="start" font-weight="normal" fill="#222" stroke="#222" stroke-width="0.22" >73%</text>
<rect x="351.00" y="35.30" width="15.14" height="3.80" fill="#33a532" />
<rect x="366.14" y="35.30" width="4.95" height="3.80" fill="#d93035" />
<rect x="371.09" y="35.30" width="4.13" height="3.80" fill="#2f7fb8" />
<rect x="375.22" y="35.30" width="3.30" height="3.80" fill="#111111" />
<rect x="245.00" y="39.53" width="95.70" height="4.00" fill="#e1e2e4" />
<rect x="245.00" y="39.83" width="0.57" height="3.40" fill="#5f8a55" fill-opacity="0.72"/>
<rect x="245.57" y="39.83" width="0.57" height="3.40" fill="#a86a5f" fill-opacity="0.72"/>
<rect x="246.15" y="39.83" width="2.29" height="3.40" fill="#5f8a55" fill-opacity="0.72"/>
<rect x="248.44" y="39.83" width="0.57" height="3.40" fill="#5a6f8a" fill-opacity="0.72"/>
<rect x="249.01" y="39.83" width="0.57" height="3.40" fill="#a86a5f" fill-opacity="0.72"/>
<rect x="249.58" y="39.83" width="0.57" height="3.40" fill="#5f8a55" fill-opacity="0.72"/>
<rect x="250.16" y="39.83" width="0.57" height="3.40" fill="#b0a0b0" fill-opacity="0.72"/>
<rect x="250.73" y="39.83" width="1.15" height="3.40" fill="#5f8a55" fill-opacity="0.72"/>
<rect x="251.88" y="39.83" width="0.57" height="3.40" fill="#c0a070" fill-opacity="0.72"/>
<rect x="252.45" y="39.83" width="0.57" height="3.40" fill="#5f8a55" fill-opacity="0.72"/>
<rect x="253.02" y="39.83" width="0.57" height="3.40" fill="#3a3a3a" fill-opacity="0.72"/>
<rect x="253.60" y="39.83" width="1.15" height="3.40" fill="#5f8a55" fill-opacity="0.72"/>
<rect x="254.74" y="39.83" width="0.57" height="3.40" fill="#8a6a90" fill-opacity="0.72"/>
<rect x="255.31" y="39.83" width="0.57" height="3.40" fill="#a86a5f" fill-opacity="0.72"/>
<rect x="255.89" y="39.83" width="0.57" height="3.40" fill="#5f8a55" fill-opacity="0.72"/>
<rect x="256.46" y="39.83" width="0.57" height="3.40" fill="#3a3a3a" fill-opacity="0.72"/>
<rect x="257.03" y="39.83" width="0.57" height="3.40" fill="#5f8a55" fill-opacity="0.72"/>
<rect x="257.61" y="39.83" width="0.57" height="3.40" fill="#3a3a3a" fill-opacity="0.72"/>
<rect x="258.18" y="39.83" width="0.57" height="3.40" fill="#b0a0b0" fill-opacity="0.72"/>
<rect x="258.75" y="39.83" width="1.72" height="3.40" fill="#5a6f8a" fill-opacity="0.72"/>
<rect x="260.47" y="39.83" width="1.15" height="3.40" fill="#5f8a55" fill-opacity="0.72"/>
<rect x="261.62" y="39.83" width="0.57" height="3.40" fill="#a86a5f" fill-opacity="0.72"/>
<rect x="262.19" y="39.83" width="0.57" height="3.40" fill="#5f8a55" fill-opacity="0.72"/>
<rect x="262.76" y="39.83" width="0.57" height="3.40" fill="#3a3a3a" fill-opacity="0.72"/>
<rect x="263.34" y="39.83" width="0.57" height="3.40" fill="#a86a5f" fill-opacity="0.72"/>
<rect x="263.91" y="39.83" width="1.72" height="3.40" fill="#5f8a55" fill-opacity="0.72"/>
<rect x="265.63" y="39.83" width="0.57" height="3.40" fill="#5a6f8a" fill-opacity="0.72"/>
<rect x="266.20" y="39.83" width="0.57" height="3.40" fill="#5f8a55" fill-opacity="0.72"/>
<rect x="266.78" y="39.83" width="0.57" height="3.40" fill="#5a6f8a" fill-opacity="0.72"/>
<rect x="267.35" y="39.83" width="1.15" height="3.40" fill="#5f8a55" fill-opacity="0.72"/>
<rect x="268.50" y="39.83" width="0.57" height="3.40" fill="#a86a5f" fill-opacity="0.72"/>
<rect x="269.07" y="39.83" width="0.57" height="3.40" fill="#5a6f8a" fill-opacity="0.72"/>
<rect x="269.64" y="39.83" width="0.57" height="3.40" fill="#5f8a55" fill-opacity="0.72"/>
<rect x="270.21" y="39.83" width="0.57" height="3.40" fill="#3a3a3a" fill-opacity="0.72"/>
<rect x="314.91" y="39.83" width="1.72" height="3.40" fill="#5f8a55" fill-opacity="0.72"/>
<rect x="316.63" y="39.83" width="0.57" height="3.40" fill="#c0a070" fill-opacity="0.72"/>
<rect x="317.20" y="39.83" width="3.44" height="3.40" fill="#5f8a55" fill-opacity="0.72"/>
<rect x="320.64" y="39.83" width="0.57" height="3.40" fill="#a86a5f" fill-opacity="0.72"/>
<rect x="321.22" y="39.83" width="0.57" height="3.40" fill="#5f8a55" fill-opacity="0.72"/>
<rect x="321.79" y="39.83" width="0.57" height="3.40" fill="#3a3a3a" fill-opacity="0.72"/>
<rect x="322.36" y="39.83" width="1.15" height="3.40" fill="#5f8a55" fill-opacity="0.72"/>
<text x="244.00" y="43.03" font-size="3.5" text-anchor="end" font-weight="normal" fill="#333" stroke="#333" stroke-width="0.18" >TTN</text>
<text x="341.20" y="42.93" font-size="3.5" text-anchor="start" font-weight="normal" fill="#222" stroke="#222" stroke-width="0.22" >36%</text>
<rect x="351.00" y="39.63" width="7.19" height="3.80" fill="#33a532" />
<rect x="358.19" y="39.63" width="6.38" height="3.80" fill="#111111" />
<rect x="245.00" y="43.86" width="95.70" height="4.00" fill="#e1e2e4" />
<rect x="245.00" y="44.16" width="0.57" height="3.40" fill="#5f8a55" fill-opacity="0.72"/>
<rect x="245.57" y="44.16" width="0.57" height="3.40" fill="#3a3a3a" fill-opacity="0.72"/>
<rect x="246.15" y="44.16" width="1.15" height="3.40" fill="#5f8a55" fill-opacity="0.72"/>
<rect x="247.29" y="44.16" width="1.72" height="3.40" fill="#a86a5f" fill-opacity="0.72"/>
<rect x="249.01" y="44.16" width="0.57" height="3.40" fill="#5f8a55" fill-opacity="0.72"/>
<rect x="249.58" y="44.16" width="0.57" height="3.40" fill="#3a3a3a" fill-opacity="0.72"/>
<rect x="250.16" y="44.16" width="0.57" height="3.40" fill="#a86a5f" fill-opacity="0.72"/>
<rect x="250.73" y="44.16" width="0.57" height="3.40" fill="#c0a070" fill-opacity="0.72"/>
<rect x="251.30" y="44.16" width="1.15" height="3.40" fill="#5f8a55" fill-opacity="0.72"/>
<rect x="270.79" y="44.16" width="1.15" height="3.40" fill="#5f8a55" fill-opacity="0.72"/>
<rect x="271.93" y="44.16" width="0.57" height="3.40" fill="#5a6f8a" fill-opacity="0.72"/>
<rect x="272.51" y="44.16" width="1.72" height="3.40" fill="#5f8a55" fill-opacity="0.72"/>
<rect x="274.23" y="44.16" width="0.57" height="3.40" fill="#b0a0b0" fill-opacity="0.72"/>
<rect x="274.80" y="44.16" width="2.87" height="3.40" fill="#5f8a55" fill-opacity="0.72"/>
<rect x="277.66" y="44.16" width="0.57" height="3.40" fill="#3a3a3a" fill-opacity="0.72"/>
<rect x="278.24" y="44.16" width="0.57" height="3.40" fill="#5f8a55" fill-opacity="0.72"/>
<rect x="314.91" y="44.16" width="0.57" height="3.40" fill="#a86a5f" fill-opacity="0.72"/>
<rect x="315.49" y="44.16" width="0.57" height="3.40" fill="#c0a070" fill-opacity="0.72"/>
<rect x="316.06" y="44.16" width="1.72" height="3.40" fill="#5f8a55" fill-opacity="0.72"/>
<rect x="323.51" y="44.16" width="0.57" height="3.40" fill="#8a6a90" fill-opacity="0.72"/>
<rect x="324.08" y="44.16" width="0.57" height="3.40" fill="#5a6f8a" fill-opacity="0.72"/>
<rect x="324.65" y="44.16" width="1.15" height="3.40" fill="#3a3a3a" fill-opacity="0.72"/>
<rect x="325.80" y="44.16" width="0.57" height="3.40" fill="#5f8a55" fill-opacity="0.72"/>
<rect x="326.37" y="44.16" width="0.57" height="3.40" fill="#3a3a3a" fill-opacity="0.72"/>
<rect x="326.95" y="44.16" width="1.15" height="3.40" fill="#5f8a55" fill-opacity="0.72"/>
<text x="244.00" y="47.36" font-size="3.5" text-anchor="end" font-weight="normal" fill="#333" stroke="#333" stroke-width="0.18" >FAT1</text>
<text x="341.20" y="47.26" font-size="3.5" text-anchor="start" font-weight="normal" fill="#222" stroke="#222" stroke-width="0.22" >24%</text>
<rect x="351.00" y="43.96" width="1.81" height="3.80" fill="#33a532" />
<rect x="352.81" y="43.96" width="4.07" height="3.80" fill="#d93035" />
<rect x="356.88" y="43.96" width="3.17" height="3.80" fill="#111111" />
<rect x="245.00" y="48.19" width="95.70" height="4.00" fill="#e1e2e4" />
<rect x="245.00" y="48.49" width="1.15" height="3.40" fill="#5f8a55" fill-opacity="0.72"/>
<rect x="246.15" y="48.49" width="0.57" height="3.40" fill="#c0a070" fill-opacity="0.72"/>
<rect x="246.72" y="48.49" width="0.57" height="3.40" fill="#a86a5f" fill-opacity="0.72"/>
<rect x="247.87" y="48.49" width="0.57" height="3.40" fill="#3a3a3a" fill-opacity="0.72"/>
<rect x="248.44" y="48.49" width="0.57" height="3.40" fill="#5f8a55" fill-opacity="0.72"/>
<rect x="252.45" y="48.49" width="0.57" height="3.40" fill="#5f8a55" fill-opacity="0.72"/>
<rect x="257.61" y="48.49" width="1.15" height="3.40" fill="#5f8a55" fill-opacity="0.72"/>
<rect x="259.33" y="48.49" width="0.57" height="3.40" fill="#5f8a55" fill-opacity="0.72"/>
<rect x="260.47" y="48.49" width="0.57" height="3.40" fill="#3a3a3a" fill-opacity="0.72"/>
<rect x="262.76" y="48.49" width="0.57" height="3.40" fill="#5f8a55" fill-opacity="0.72"/>
<rect x="267.35" y="48.49" width="0.57" height="3.40" fill="#5f8a55" fill-opacity="0.72"/>
<rect x="271.93" y="48.49" width="0.57" height="3.40" fill="#5f8a55" fill-opacity="0.72"/>
<rect x="273.08" y="48.49" width="0.57" height="3.40" fill="#a86a5f" fill-opacity="0.72"/>
<rect x="273.65" y="48.49" width="0.57" height="3.40" fill="#5f8a55" fill-opacity="0.72"/>
<rect x="278.24" y="48.49" width="0.57" height="3.40" fill="#a86a5f" fill-opacity="0.72"/>
<rect x="283.97" y="48.49" width="0.57" height="3.40" fill="#5a6f8a" fill-opacity="0.72"/>
<rect x="290.27" y="48.49" width="0.57" height="3.40" fill="#b0a0b0" fill-opacity="0.72"/>
<rect x="291.99" y="48.49" width="1.15" height="3.40" fill="#5f8a55" fill-opacity="0.72"/>
<rect x="294.86" y="48.49" width="0.57" height="3.40" fill="#c0a070" fill-opacity="0.72"/>
<rect x="302.31" y="48.49" width="0.57" height="3.40" fill="#8a6a90" fill-opacity="0.72"/>
<rect x="302.88" y="48.49" width="0.57" height="3.40" fill="#3a3a3a" fill-opacity="0.72"/>
<rect x="305.17" y="48.49" width="0.57" height="3.40" fill="#5f8a55" fill-opacity="0.72"/>
<rect x="309.76" y="48.49" width="0.57" height="3.40" fill="#5f8a55" fill-opacity="0.72"/>
<rect x="313.77" y="48.49" width="0.57" height="3.40" fill="#8a6a90" fill-opacity="0.72"/>
<rect x="316.63" y="48.49" width="1.15" height="3.40" fill="#5f8a55" fill-opacity="0.72"/>
<rect x="326.37" y="48.49" width="0.57" height="3.40" fill="#5f8a55" fill-opacity="0.72"/>
<rect x="330.39" y="48.49" width="0.57" height="3.40" fill="#b0a0b0" fill-opacity="0.72"/>
<rect x="332.68" y="48.49" width="0.57" height="3.40" fill="#5f8a55" fill-opacity="0.72"/>
<rect x="338.41" y="48.49" width="0.57" height="3.40" fill="#3a3a3a" fill-opacity="0.72"/>
<text x="244.00" y="51.69" font-size="3.5" text-anchor="end" font-weight="normal" fill="#333" stroke="#333" stroke-width="0.18" >CDKN2A</text>
<text x="341.20" y="51.59" font-size="3.5" text-anchor="start" font-weight="normal" fill="#222" stroke="#222" stroke-width="0.22" >20%</text>
<rect x="351.00" y="48.29" width="1.13" height="3.80" fill="#33a532" />
<rect x="352.13" y="48.29" width="6.41" height="3.80" fill="#d93035" />
<rect x="245.00" y="52.52" width="95.70" height="4.00" fill="#e1e2e4" />
<rect x="248.44" y="52.82" width="0.57" height="3.40" fill="#3a3a3a" fill-opacity="0.72"/>
<rect x="250.16" y="52.82" width="0.57" height="3.40" fill="#5f8a55" fill-opacity="0.72"/>
<rect x="251.30" y="52.82" width="0.57" height="3.40" fill="#3a3a3a" fill-opacity="0.72"/>
<rect x="253.02" y="52.82" width="0.57" height="3.40" fill="#5f8a55" fill-opacity="0.72"/>
<rect x="255.31" y="52.82" width="0.57" height="3.40" fill="#3a3a3a" fill-opacity="0.72"/>
<rect x="258.18" y="52.82" width="0.57" height="3.40" fill="#b0a0b0" fill-opacity="0.72"/>
<rect x="259.33" y="52.82" width="0.57" height="3.40" fill="#5f8a55" fill-opacity="0.72"/>
<rect x="263.34" y="52.82" width="0.57" height="3.40" fill="#3a3a3a" fill-opacity="0.72"/>
<rect x="267.92" y="52.82" width="0.57" height="3.40" fill="#3a3a3a" fill-opacity="0.72"/>
<rect x="275.94" y="52.82" width="0.57" height="3.40" fill="#5f8a55" fill-opacity="0.72"/>
<rect x="278.24" y="52.82" width="0.57" height="3.40" fill="#3a3a3a" fill-opacity="0.72"/>
<rect x="285.69" y="52.82" width="0.57" height="3.40" fill="#8a6a90" fill-opacity="0.72"/>
<rect x="291.42" y="52.82" width="0.57" height="3.40" fill="#5f8a55" fill-opacity="0.72"/>
<rect x="300.59" y="52.82" width="0.57" height="3.40" fill="#5f8a55" fill-opacity="0.72"/>
<rect x="305.74" y="52.82" width="0.57" height="3.40" fill="#5f8a55" fill-opacity="0.72"/>
<rect x="309.18" y="52.82" width="0.57" height="3.40" fill="#5f8a55" fill-opacity="0.72"/>
<rect x="313.77" y="52.82" width="0.57" height="3.40" fill="#a86a5f" fill-opacity="0.72"/>
<rect x="316.06" y="52.82" width="0.57" height="3.40" fill="#8a6a90" fill-opacity="0.72"/>
<rect x="318.35" y="52.82" width="0.57" height="3.40" fill="#5f8a55" fill-opacity="0.72"/>
<rect x="318.92" y="52.82" width="0.57" height="3.40" fill="#a86a5f" fill-opacity="0.72"/>
<rect x="319.50" y="52.82" width="0.57" height="3.40" fill="#5a6f8a" fill-opacity="0.72"/>
<rect x="320.07" y="52.82" width="0.57" height="3.40" fill="#3a3a3a" fill-opacity="0.72"/>
<rect x="324.08" y="52.82" width="0.57" height="3.40" fill="#5f8a55" fill-opacity="0.72"/>
<rect x="328.09" y="52.82" width="0.57" height="3.40" fill="#8a6a90" fill-opacity="0.72"/>
<rect x="332.10" y="52.82" width="0.57" height="3.40" fill="#5f8a55" fill-opacity="0.72"/>
<rect x="333.25" y="52.82" width="0.57" height="3.40" fill="#5f8a55" fill-opacity="0.72"/>
<rect x="335.54" y="52.82" width="1.15" height="3.40" fill="#5f8a55" fill-opacity="0.72"/>
<text x="244.00" y="56.02" font-size="3.5" text-anchor="end" font-weight="normal" fill="#333" stroke="#333" stroke-width="0.18" >MUC16</text>
<text x="341.20" y="55.92" font-size="3.5" text-anchor="start" font-weight="normal" fill="#222" stroke="#222" stroke-width="0.22" >17%</text>
<rect x="351.00" y="52.62" width="4.49" height="3.80" fill="#33a532" />
<rect x="355.49" y="52.62" width="1.92" height="3.80" fill="#111111" />
<rect x="245.00" y="56.85" width="95.70" height="4.00" fill="#e1e2e4" />
<rect x="245.00" y="57.15" width="0.57" height="3.40" fill="#5f8a55" fill-opacity="0.72"/>
<rect x="246.15" y="57.15" width="0.57" height="3.40" fill="#a86a5f" fill-opacity="0.72"/>
<rect x="248.44" y="57.15" width="0.57" height="3.40" fill="#a86a5f" fill-opacity="0.72"/>
<rect x="249.58" y="57.15" width="0.57" height="3.40" fill="#8a6a90" fill-opacity="0.72"/>
<rect x="250.16" y="57.15" width="0.57" height="3.40" fill="#5f8a55" fill-opacity="0.72"/>
<rect x="254.74" y="57.15" width="0.57" height="3.40" fill="#5f8a55" fill-opacity="0.72"/>
<rect x="256.46" y="57.15" width="0.57" height="3.40" fill="#5a6f8a" fill-opacity="0.72"/>
<rect x="257.61" y="57.15" width="0.57" height="3.40" fill="#5f8a55" fill-opacity="0.72"/>
<rect x="261.05" y="57.15" width="0.57" height="3.40" fill="#5f8a55" fill-opacity="0.72"/>
<rect x="262.76" y="57.15" width="0.57" height="3.40" fill="#5f8a55" fill-opacity="0.72"/>
<rect x="266.78" y="57.15" width="0.57" height="3.40" fill="#5f8a55" fill-opacity="0.72"/>
<rect x="268.50" y="57.15" width="0.57" height="3.40" fill="#a86a5f" fill-opacity="0.72"/>
<rect x="269.07" y="57.15" width="0.57" height="3.40" fill="#5a6f8a" fill-opacity="0.72"/>
<rect x="274.23" y="57.15" width="0.57" height="3.40" fill="#3a3a3a" fill-opacity="0.72"/>
<rect x="276.52" y="57.15" width="0.57" height="3.40" fill="#5f8a55" fill-opacity="0.72"/>
<rect x="278.24" y="57.15" width="0.57" height="3.40" fill="#c0a070" fill-opacity="0.72"/>
<rect x="293.14" y="57.15" width="0.57" height="3.40" fill="#5f8a55" fill-opacity="0.72"/>
<rect x="293.71" y="57.15" width="0.57" height="3.40" fill="#3a3a3a" fill-opacity="0.72"/>
<rect x="294.86" y="57.15" width="0.57" height="3.40" fill="#5f8a55" fill-opacity="0.72"/>
<rect x="299.44" y="57.15" width="0.57" height="3.40" fill="#5a6f8a" fill-opacity="0.72"/>
<rect x="301.73" y="57.15" width="0.57" height="3.40" fill="#c0a070" fill-opacity="0.72"/>
<rect x="304.02" y="57.15" width="0.57" height="3.40" fill="#c0a070" fill-opacity="0.72"/>
<rect x="316.63" y="57.15" width="0.57" height="3.40" fill="#a86a5f" fill-opacity="0.72"/>
<rect x="317.20" y="57.15" width="0.57" height="3.40" fill="#3a3a3a" fill-opacity="0.72"/>
<rect x="318.35" y="57.15" width="0.57" height="3.40" fill="#5f8a55" fill-opacity="0.72"/>
<rect x="320.64" y="57.15" width="0.57" height="3.40" fill="#5f8a55" fill-opacity="0.72"/>
<rect x="326.37" y="57.15" width="0.57" height="3.40" fill="#5f8a55" fill-opacity="0.72"/>
<rect x="334.97" y="57.15" width="0.57" height="3.40" fill="#5f8a55" fill-opacity="0.72"/>
<text x="244.00" y="60.35" font-size="3.5" text-anchor="end" font-weight="normal" fill="#333" stroke="#333" stroke-width="0.18" >CSMD3</text>
<text x="341.20" y="60.25" font-size="3.5" text-anchor="start" font-weight="normal" fill="#222" stroke="#222" stroke-width="0.22" >17%</text>
<rect x="351.00" y="56.95" width="4.49" height="3.80" fill="#33a532" />
<rect x="355.49" y="56.95" width="1.92" height="3.80" fill="#111111" />
<rect x="245.00" y="61.18" width="95.70" height="4.00" fill="#e1e2e4" />
<rect x="245.57" y="61.48" width="1.15" height="3.40" fill="#5a6f8a" fill-opacity="0.72"/>
<rect x="246.72" y="61.48" width="0.57" height="3.40" fill="#5f8a55" fill-opacity="0.72"/>
<rect x="247.87" y="61.48" width="0.57" height="3.40" fill="#5f8a55" fill-opacity="0.72"/>
<rect x="251.30" y="61.48" width="0.57" height="3.40" fill="#3a3a3a" fill-opacity="0.72"/>
<rect x="251.88" y="61.48" width="0.57" height="3.40" fill="#5f8a55" fill-opacity="0.72"/>
<rect x="262.19" y="61.48" width="0.57" height="3.40" fill="#3a3a3a" fill-opacity="0.72"/>
<rect x="262.76" y="61.48" width="0.57" height="3.40" fill="#5f8a55" fill-opacity="0.72"/>
<rect x="265.63" y="61.48" width="0.57" height="3.40" fill="#5f8a55" fill-opacity="0.72"/>
<rect x="269.07" y="61.48" width="0.57" height="3.40" fill="#5a6f8a" fill-opacity="0.72"/>
<rect x="270.21" y="61.48" width="0.57" height="3.40" fill="#a86a5f" fill-opacity="0.72"/>
<rect x="271.93" y="61.48" width="0.57" height="3.40" fill="#5f8a55" fill-opacity="0.72"/>
<rect x="276.52" y="61.48" width="0.57" height="3.40" fill="#5a6f8a" fill-opacity="0.72"/>
<rect x="277.09" y="61.48" width="0.57" height="3.40" fill="#5f8a55" fill-opacity="0.72"/>
<rect x="282.25" y="61.48" width="0.57" height="3.40" fill="#5f8a55" fill-opacity="0.72"/>
<rect x="284.54" y="61.48" width="0.57" height="3.40" fill="#5f8a55" fill-opacity="0.72"/>
<rect x="287.98" y="61.48" width="0.57" height="3.40" fill="#a86a5f" fill-opacity="0.72"/>
<rect x="290.27" y="61.48" width="0.57" height="3.40" fill="#5f8a55" fill-opacity="0.72"/>
<rect x="291.42" y="61.48" width="0.57" height="3.40" fill="#5f8a55" fill-opacity="0.72"/>
<rect x="295.43" y="61.48" width="0.57" height="3.40" fill="#5f8a55" fill-opacity="0.72"/>
<rect x="296.00" y="61.48" width="0.57" height="3.40" fill="#c0a070" fill-opacity="0.72"/>
<rect x="297.15" y="61.48" width="0.57" height="3.40" fill="#a86a5f" fill-opacity="0.72"/>
<rect x="299.44" y="61.48" width="0.57" height="3.40" fill="#5f8a55" fill-opacity="0.72"/>
<rect x="300.01" y="61.48" width="0.57" height="3.40" fill="#3a3a3a" fill-opacity="0.72"/>
<rect x="301.16" y="61.48" width="1.15" height="3.40" fill="#5f8a55" fill-opacity="0.72"/>
<rect x="306.89" y="61.48" width="0.57" height="3.40" fill="#8a6a90" fill-opacity="0.72"/>
<rect x="309.18" y="61.48" width="1.15" height="3.40" fill="#5f8a55" fill-opacity="0.72"/>
<rect x="310.90" y="61.48" width="0.57" height="3.40" fill="#b0a0b0" fill-opacity="0.72"/>
<rect x="319.50" y="61.48" width="0.57" height="3.40" fill="#5f8a55" fill-opacity="0.72"/>
<rect x="326.37" y="61.48" width="1.15" height="3.40" fill="#3a3a3a" fill-opacity="0.72"/>
<rect x="328.67" y="61.48" width="0.57" height="3.40" fill="#5f8a55" fill-opacity="0.72"/>
<rect x="331.53" y="61.48" width="0.57" height="3.40" fill="#a86a5f" fill-opacity="0.72"/>
<rect x="334.40" y="61.48" width="0.57" height="3.40" fill="#3a3a3a" fill-opacity="0.72"/>
<rect x="334.97" y="61.48" width="0.57" height="3.40" fill="#5f8a55" fill-opacity="0.72"/>
<rect x="337.26" y="61.48" width="0.57" height="3.40" fill="#5f8a55" fill-opacity="0.72"/>
<text x="244.00" y="64.68" font-size="3.5" text-anchor="end" font-weight="normal" fill="#333" stroke="#333" stroke-width="0.18" >NOTCH1</text>
<text x="341.20" y="64.58" font-size="3.5" text-anchor="start" font-weight="normal" fill="#222" stroke="#222" stroke-width="0.22" >23%</text>
<rect x="351.00" y="61.28" width="4.77" height="3.80" fill="#33a532" />
<rect x="355.77" y="61.28" width="1.73" height="3.80" fill="#d93035" />
<rect x="357.50" y="61.28" width="2.17" height="3.80" fill="#111111" />
<rect x="245.00" y="65.51" width="95.70" height="4.00" fill="#e1e2e4" />
<rect x="249.58" y="65.81" width="0.57" height="3.40" fill="#5a6f8a" fill-opacity="0.72"/>
<rect x="252.45" y="65.81" width="0.57" height="3.40" fill="#5f8a55" fill-opacity="0.72"/>
<rect x="254.74" y="65.81" width="0.57" height="3.40" fill="#8a6a90" fill-opacity="0.72"/>
<rect x="255.31" y="65.81" width="1.15" height="3.40" fill="#5f8a55" fill-opacity="0.72"/>
<rect x="260.47" y="65.81" width="1.15" height="3.40" fill="#5f8a55" fill-opacity="0.72"/>
<rect x="261.62" y="65.81" width="0.57" height="3.40" fill="#5a6f8a" fill-opacity="0.72"/>
<rect x="264.48" y="65.81" width="1.15" height="3.40" fill="#5f8a55" fill-opacity="0.72"/>
<rect x="265.63" y="65.81" width="0.57" height="3.40" fill="#8a6a90" fill-opacity="0.72"/>
<rect x="269.07" y="65.81" width="0.57" height="3.40" fill="#5f8a55" fill-opacity="0.72"/>
<rect x="271.36" y="65.81" width="1.15" height="3.40" fill="#5f8a55" fill-opacity="0.72"/>
<rect x="275.94" y="65.81" width="0.57" height="3.40" fill="#5f8a55" fill-opacity="0.72"/>
<rect x="277.09" y="65.81" width="0.57" height="3.40" fill="#5a6f8a" fill-opacity="0.72"/>
<rect x="279.38" y="65.81" width="0.57" height="3.40" fill="#5f8a55" fill-opacity="0.72"/>
<rect x="288.55" y="65.81" width="0.57" height="3.40" fill="#c0a070" fill-opacity="0.72"/>
<rect x="296.57" y="65.81" width="0.57" height="3.40" fill="#8a6a90" fill-opacity="0.72"/>
<rect x="300.59" y="65.81" width="0.57" height="3.40" fill="#3a3a3a" fill-opacity="0.72"/>
<rect x="309.76" y="65.81" width="0.57" height="3.40" fill="#5f8a55" fill-opacity="0.72"/>
<rect x="310.33" y="65.81" width="0.57" height="3.40" fill="#3a3a3a" fill-opacity="0.72"/>
<rect x="313.19" y="65.81" width="0.57" height="3.40" fill="#5f8a55" fill-opacity="0.72"/>
<rect x="320.07" y="65.81" width="0.57" height="3.40" fill="#5f8a55" fill-opacity="0.72"/>
<rect x="328.67" y="65.81" width="0.57" height="3.40" fill="#a86a5f" fill-opacity="0.72"/>
<rect x="333.25" y="65.81" width="0.57" height="3.40" fill="#b0a0b0" fill-opacity="0.72"/>
<rect x="335.54" y="65.81" width="0.57" height="3.40" fill="#3a3a3a" fill-opacity="0.72"/>
<rect x="336.12" y="65.81" width="0.57" height="3.40" fill="#5a6f8a" fill-opacity="0.72"/>
<text x="244.00" y="69.01" font-size="3.5" text-anchor="end" font-weight="normal" fill="#333" stroke="#333" stroke-width="0.18" >PIK3CA</text>
<text x="341.20" y="68.91" font-size="3.5" text-anchor="start" font-weight="normal" fill="#222" stroke="#222" stroke-width="0.22" >17%</text>
<rect x="351.00" y="65.61" width="6.41" height="3.80" fill="#33a532" />
<rect x="245.00" y="69.84" width="95.70" height="4.00" fill="#e1e2e4" />
<rect x="250.16" y="70.14" width="0.57" height="3.40" fill="#a86a5f" fill-opacity="0.72"/>
<rect x="251.88" y="70.14" width="0.57" height="3.40" fill="#5a6f8a" fill-opacity="0.72"/>
<rect x="253.02" y="70.14" width="0.57" height="3.40" fill="#3a3a3a" fill-opacity="0.72"/>
<rect x="254.17" y="70.14" width="0.57" height="3.40" fill="#5f8a55" fill-opacity="0.72"/>
<rect x="256.46" y="70.14" width="0.57" height="3.40" fill="#5a6f8a" fill-opacity="0.72"/>
<rect x="262.76" y="70.14" width="0.57" height="3.40" fill="#5f8a55" fill-opacity="0.72"/>
<rect x="266.78" y="70.14" width="0.57" height="3.40" fill="#5a6f8a" fill-opacity="0.72"/>
<rect x="272.51" y="70.14" width="0.57" height="3.40" fill="#c0a070" fill-opacity="0.72"/>
<rect x="273.08" y="70.14" width="0.57" height="3.40" fill="#5f8a55" fill-opacity="0.72"/>
<rect x="273.65" y="70.14" width="0.57" height="3.40" fill="#3a3a3a" fill-opacity="0.72"/>
<rect x="282.25" y="70.14" width="0.57" height="3.40" fill="#5f8a55" fill-opacity="0.72"/>
<rect x="301.73" y="70.14" width="0.57" height="3.40" fill="#5f8a55" fill-opacity="0.72"/>
<rect x="305.17" y="70.14" width="0.57" height="3.40" fill="#5f8a55" fill-opacity="0.72"/>
<rect x="306.32" y="70.14" width="0.57" height="3.40" fill="#3a3a3a" fill-opacity="0.72"/>
<rect x="308.04" y="70.14" width="0.57" height="3.40" fill="#c0a070" fill-opacity="0.72"/>
<rect x="308.61" y="70.14" width="0.57" height="3.40" fill="#5f8a55" fill-opacity="0.72"/>
<rect x="314.34" y="70.14" width="0.57" height="3.40" fill="#a86a5f" fill-opacity="0.72"/>
<rect x="320.07" y="70.14" width="1.15" height="3.40" fill="#5f8a55" fill-opacity="0.72"/>
<rect x="323.51" y="70.14" width="0.57" height="3.40" fill="#5f8a55" fill-opacity="0.72"/>
<rect x="330.96" y="70.14" width="0.57" height="3.40" fill="#a86a5f" fill-opacity="0.72"/>
<rect x="331.53" y="70.14" width="0.57" height="3.40" fill="#5f8a55" fill-opacity="0.72"/>
<text x="244.00" y="73.34" font-size="3.5" text-anchor="end" font-weight="normal" fill="#333" stroke="#333" stroke-width="0.18" >SYNE1</text>
<text x="341.20" y="73.24" font-size="3.5" text-anchor="start" font-weight="normal" fill="#222" stroke="#222" stroke-width="0.22" >13%</text>
<rect x="351.00" y="69.94" width="3.68" height="3.80" fill="#33a532" />
<rect x="354.68" y="69.94" width="1.23" height="3.80" fill="#111111" />
<rect x="245.00" y="74.17" width="95.70" height="4.00" fill="#e1e2e4" />
<rect x="245.57" y="74.47" width="0.57" height="3.40" fill="#5f8a55" fill-opacity="0.72"/>
<rect x="247.87" y="74.47" width="0.57" height="3.40" fill="#5f8a55" fill-opacity="0.72"/>
<rect x="250.16" y="74.47" width="0.57" height="3.40" fill="#5f8a55" fill-opacity="0.72"/>
<rect x="250.73" y="74.47" width="0.57" height="3.40" fill="#a86a5f" fill-opacity="0.72"/>
<rect x="262.19" y="74.47" width="0.57" height="3.40" fill="#a86a5f" fill-opacity="0.72"/>
<rect x="262.76" y="74.47" width="0.57" height="3.40" fill="#5f8a55" fill-opacity="0.72"/>
<rect x="264.48" y="74.47" width="0.57" height="3.40" fill="#8a6a90" fill-opacity="0.72"/>
<rect x="269.07" y="74.47" width="0.57" height="3.40" fill="#5a6f8a" fill-opacity="0.72"/>
<rect x="270.79" y="74.47" width="0.57" height="3.40" fill="#8a6a90" fill-opacity="0.72"/>
<rect x="283.39" y="74.47" width="1.15" height="3.40" fill="#5f8a55" fill-opacity="0.72"/>
<rect x="289.70" y="74.47" width="0.57" height="3.40" fill="#5a6f8a" fill-opacity="0.72"/>
<rect x="293.14" y="74.47" width="0.57" height="3.40" fill="#a86a5f" fill-opacity="0.72"/>
<rect x="293.71" y="74.47" width="0.57" height="3.40" fill="#5f8a55" fill-opacity="0.72"/>
<rect x="297.72" y="74.47" width="0.57" height="3.40" fill="#a86a5f" fill-opacity="0.72"/>
<rect x="305.17" y="74.47" width="0.57" height="3.40" fill="#5f8a55" fill-opacity="0.72"/>
<rect x="312.05" y="74.47" width="0.57" height="3.40" fill="#5f8a55" fill-opacity="0.72"/>
<rect x="324.65" y="74.47" width="0.57" height="3.40" fill="#8a6a90" fill-opacity="0.72"/>
<rect x="326.37" y="74.47" width="0.57" height="3.40" fill="#b0a0b0" fill-opacity="0.72"/>
<rect x="327.52" y="74.47" width="0.57" height="3.40" fill="#5f8a55" fill-opacity="0.72"/>
<rect x="328.09" y="74.47" width="0.57" height="3.40" fill="#a86a5f" fill-opacity="0.72"/>
<rect x="331.53" y="74.47" width="0.57" height="3.40" fill="#5f8a55" fill-opacity="0.72"/>
<rect x="336.69" y="74.47" width="0.57" height="3.40" fill="#a86a5f" fill-opacity="0.72"/>
<text x="244.00" y="77.67" font-size="3.5" text-anchor="end" font-weight="normal" fill="#333" stroke="#333" stroke-width="0.18" >LRP1B</text>
<text x="341.20" y="77.57" font-size="3.5" text-anchor="start" font-weight="normal" fill="#222" stroke="#222" stroke-width="0.22" >14%</text>
<rect x="351.00" y="74.27" width="3.96" height="3.80" fill="#33a532" />
<rect x="354.96" y="74.27" width="1.32" height="3.80" fill="#111111" />
<rect x="245.00" y="78.50" width="95.70" height="4.00" fill="#e1e2e4" />
<rect x="245.57" y="78.80" width="0.57" height="3.40" fill="#a86a5f" fill-opacity="0.72"/>
<rect x="247.29" y="78.80" width="0.57" height="3.40" fill="#3a3a3a" fill-opacity="0.72"/>
<rect x="251.30" y="78.80" width="0.57" height="3.40" fill="#a86a5f" fill-opacity="0.72"/>
<rect x="256.46" y="78.80" width="1.15" height="3.40" fill="#5f8a55" fill-opacity="0.72"/>
<rect x="257.61" y="78.80" width="0.57" height="3.40" fill="#8a6a90" fill-opacity="0.72"/>
<rect x="266.20" y="78.80" width="1.15" height="3.40" fill="#5f8a55" fill-opacity="0.72"/>
<rect x="272.51" y="78.80" width="0.57" height="3.40" fill="#b0a0b0" fill-opacity="0.72"/>
<rect x="274.80" y="78.80" width="0.57" height="3.40" fill="#5f8a55" fill-opacity="0.72"/>
<rect x="279.96" y="78.80" width="0.57" height="3.40" fill="#5f8a55" fill-opacity="0.72"/>
<rect x="282.82" y="78.80" width="0.57" height="3.40" fill="#c0a070" fill-opacity="0.72"/>
<rect x="283.39" y="78.80" width="0.57" height="3.40" fill="#a86a5f" fill-opacity="0.72"/>
<rect x="286.26" y="78.80" width="0.57" height="3.40" fill="#5f8a55" fill-opacity="0.72"/>
<rect x="289.13" y="78.80" width="0.57" height="3.40" fill="#a86a5f" fill-opacity="0.72"/>
<rect x="290.84" y="78.80" width="0.57" height="3.40" fill="#b0a0b0" fill-opacity="0.72"/>
<rect x="291.42" y="78.80" width="0.57" height="3.40" fill="#5f8a55" fill-opacity="0.72"/>
<rect x="296.00" y="78.80" width="0.57" height="3.40" fill="#3a3a3a" fill-opacity="0.72"/>
<rect x="306.89" y="78.80" width="0.57" height="3.40" fill="#c0a070" fill-opacity="0.72"/>
<rect x="313.19" y="78.80" width="0.57" height="3.40" fill="#5f8a55" fill-opacity="0.72"/>
<rect x="314.91" y="78.80" width="0.57" height="3.40" fill="#b0a0b0" fill-opacity="0.72"/>
<rect x="316.06" y="78.80" width="1.15" height="3.40" fill="#5f8a55" fill-opacity="0.72"/>
<rect x="320.07" y="78.80" width="0.57" height="3.40" fill="#3a3a3a" fill-opacity="0.72"/>
<rect x="323.51" y="78.80" width="0.57" height="3.40" fill="#8a6a90" fill-opacity="0.72"/>
<rect x="335.54" y="78.80" width="0.57" height="3.40" fill="#5f8a55" fill-opacity="0.72"/>
<rect x="338.41" y="78.80" width="0.57" height="3.40" fill="#5f8a55" fill-opacity="0.72"/>
<rect x="340.13" y="78.80" width="0.57" height="3.40" fill="#5f8a55" fill-opacity="0.72"/>
<text x="244.00" y="82.00" font-size="3.5" text-anchor="end" font-weight="normal" fill="#333" stroke="#333" stroke-width="0.18" >KMT2D</text>
<text x="341.20" y="81.90" font-size="3.5" text-anchor="start" font-weight="normal" fill="#222" stroke="#222" stroke-width="0.22" >17%</text>
<rect x="351.00" y="78.60" width="3.52" height="3.80" fill="#33a532" />
<rect x="354.52" y="78.60" width="1.60" height="3.80" fill="#d93035" />
<rect x="356.13" y="78.60" width="1.28" height="3.80" fill="#111111" />
<rect x="245.00" y="82.83" width="95.70" height="4.00" fill="#e1e2e4" />
<rect x="245.00" y="83.13" width="0.57" height="3.40" fill="#5f8a55" fill-opacity="0.72"/>
<rect x="246.15" y="83.13" width="1.15" height="3.40" fill="#5f8a55" fill-opacity="0.72"/>
<rect x="249.01" y="83.13" width="0.57" height="3.40" fill="#b0a0b0" fill-opacity="0.72"/>
<rect x="253.02" y="83.13" width="0.57" height="3.40" fill="#a86a5f" fill-opacity="0.72"/>
<rect x="253.60" y="83.13" width="0.57" height="3.40" fill="#5f8a55" fill-opacity="0.72"/>
<rect x="255.89" y="83.13" width="0.57" height="3.40" fill="#5f8a55" fill-opacity="0.72"/>
<rect x="260.47" y="83.13" width="0.57" height="3.40" fill="#5f8a55" fill-opacity="0.72"/>
<rect x="263.91" y="83.13" width="0.57" height="3.40" fill="#5a6f8a" fill-opacity="0.72"/>
<rect x="268.50" y="83.13" width="0.57" height="3.40" fill="#a86a5f" fill-opacity="0.72"/>
<rect x="277.66" y="83.13" width="0.57" height="3.40" fill="#5f8a55" fill-opacity="0.72"/>
<rect x="288.55" y="83.13" width="0.57" height="3.40" fill="#5f8a55" fill-opacity="0.72"/>
<rect x="296.00" y="83.13" width="0.57" height="3.40" fill="#5f8a55" fill-opacity="0.72"/>
<rect x="304.02" y="83.13" width="0.57" height="3.40" fill="#5f8a55" fill-opacity="0.72"/>
<rect x="306.32" y="83.13" width="0.57" height="3.40" fill="#3a3a3a" fill-opacity="0.72"/>
<rect x="309.18" y="83.13" width="0.57" height="3.40" fill="#5f8a55" fill-opacity="0.72"/>
<rect x="316.06" y="83.13" width="0.57" height="3.40" fill="#5f8a55" fill-opacity="0.72"/>
<rect x="322.94" y="83.13" width="0.57" height="3.40" fill="#a86a5f" fill-opacity="0.72"/>
<rect x="327.52" y="83.13" width="0.57" height="3.40" fill="#5f8a55" fill-opacity="0.72"/>
<rect x="330.39" y="83.13" width="0.57" height="3.40" fill="#a86a5f" fill-opacity="0.72"/>
<rect x="333.82" y="83.13" width="0.57" height="3.40" fill="#5f8a55" fill-opacity="0.72"/>
<rect x="336.69" y="83.13" width="0.57" height="3.40" fill="#5a6f8a" fill-opacity="0.72"/>
<rect x="339.55" y="83.13" width="0.57" height="3.40" fill="#5f8a55" fill-opacity="0.72"/>
<text x="244.00" y="86.33" font-size="3.5" text-anchor="end" font-weight="normal" fill="#333" stroke="#333" stroke-width="0.18" >PCLO</text>
<text x="341.20" y="86.23" font-size="3.5" text-anchor="start" font-weight="normal" fill="#222" stroke="#222" stroke-width="0.22" >14%</text>
<rect x="351.00" y="82.93" width="3.69" height="3.80" fill="#33a532" />
<rect x="354.69" y="82.93" width="1.58" height="3.80" fill="#d93035" />
<rect x="245.00" y="87.16" width="95.70" height="4.00" fill="#e1e2e4" />
<rect x="245.00" y="87.46" width="0.57" height="3.40" fill="#5f8a55" fill-opacity="0.72"/>
<rect x="246.15" y="87.46" width="0.57" height="3.40" fill="#5f8a55" fill-opacity="0.72"/>
<rect x="247.29" y="87.46" width="0.57" height="3.40" fill="#5f8a55" fill-opacity="0.72"/>
<rect x="251.30" y="87.46" width="0.57" height="3.40" fill="#5f8a55" fill-opacity="0.72"/>
<rect x="255.89" y="87.46" width="0.57" height="3.40" fill="#5a6f8a" fill-opacity="0.72"/>
<rect x="256.46" y="87.46" width="0.57" height="3.40" fill="#3a3a3a" fill-opacity="0.72"/>
<rect x="258.75" y="87.46" width="0.57" height="3.40" fill="#3a3a3a" fill-opacity="0.72"/>
<rect x="265.63" y="87.46" width="0.57" height="3.40" fill="#b0a0b0" fill-opacity="0.72"/>
<rect x="270.79" y="87.46" width="0.57" height="3.40" fill="#5f8a55" fill-opacity="0.72"/>
<rect x="275.94" y="87.46" width="0.57" height="3.40" fill="#5a6f8a" fill-opacity="0.72"/>
<rect x="278.81" y="87.46" width="0.57" height="3.40" fill="#3a3a3a" fill-opacity="0.72"/>
<rect x="280.53" y="87.46" width="0.57" height="3.40" fill="#3a3a3a" fill-opacity="0.72"/>
<rect x="285.69" y="87.46" width="0.57" height="3.40" fill="#5f8a55" fill-opacity="0.72"/>
<rect x="291.42" y="87.46" width="0.57" height="3.40" fill="#a86a5f" fill-opacity="0.72"/>
<rect x="295.43" y="87.46" width="0.57" height="3.40" fill="#5f8a55" fill-opacity="0.72"/>
<rect x="297.15" y="87.46" width="0.57" height="3.40" fill="#5f8a55" fill-opacity="0.72"/>
<rect x="305.17" y="87.46" width="0.57" height="3.40" fill="#3a3a3a" fill-opacity="0.72"/>
<rect x="307.46" y="87.46" width="0.57" height="3.40" fill="#3a3a3a" fill-opacity="0.72"/>
<rect x="313.77" y="87.46" width="0.57" height="3.40" fill="#3a3a3a" fill-opacity="0.72"/>
<rect x="317.20" y="87.46" width="0.57" height="3.40" fill="#5f8a55" fill-opacity="0.72"/>
<rect x="318.92" y="87.46" width="0.57" height="3.40" fill="#5f8a55" fill-opacity="0.72"/>
<rect x="320.64" y="87.46" width="0.57" height="3.40" fill="#8a6a90" fill-opacity="0.72"/>
<rect x="325.80" y="87.46" width="1.15" height="3.40" fill="#a86a5f" fill-opacity="0.72"/>
<rect x="328.67" y="87.46" width="0.57" height="3.40" fill="#5a6f8a" fill-opacity="0.72"/>
<rect x="333.25" y="87.46" width="0.57" height="3.40" fill="#3a3a3a" fill-opacity="0.72"/>
<rect x="337.83" y="87.46" width="0.57" height="3.40" fill="#a86a5f" fill-opacity="0.72"/>
<text x="244.00" y="90.66" font-size="3.5" text-anchor="end" font-weight="normal" fill="#333" stroke="#333" stroke-width="0.18" >DNAH5</text>
<text x="341.20" y="90.56" font-size="3.5" text-anchor="start" font-weight="normal" fill="#222" stroke="#222" stroke-width="0.22" >16%</text>
<rect x="351.00" y="87.26" width="4.52" height="3.80" fill="#33a532" />
<rect x="355.52" y="87.26" width="1.51" height="3.80" fill="#111111" />
<rect x="245.00" y="91.49" width="95.70" height="4.00" fill="#e1e2e4" />
<rect x="245.00" y="91.79" width="0.57" height="3.40" fill="#5f8a55" fill-opacity="0.72"/>
<rect x="250.16" y="91.79" width="0.57" height="3.40" fill="#a86a5f" fill-opacity="0.72"/>
<rect x="257.61" y="91.79" width="0.57" height="3.40" fill="#5f8a55" fill-opacity="0.72"/>
<rect x="258.75" y="91.79" width="0.57" height="3.40" fill="#5f8a55" fill-opacity="0.72"/>
<rect x="270.79" y="91.79" width="0.57" height="3.40" fill="#5f8a55" fill-opacity="0.72"/>
<rect x="279.38" y="91.79" width="0.57" height="3.40" fill="#5f8a55" fill-opacity="0.72"/>
<rect x="282.25" y="91.79" width="0.57" height="3.40" fill="#5f8a55" fill-opacity="0.72"/>
<rect x="289.13" y="91.79" width="0.57" height="3.40" fill="#b0a0b0" fill-opacity="0.72"/>
<rect x="293.14" y="91.79" width="0.57" height="3.40" fill="#5a6f8a" fill-opacity="0.72"/>
<rect x="297.72" y="91.79" width="0.57" height="3.40" fill="#5a6f8a" fill-opacity="0.72"/>
<rect x="304.02" y="91.79" width="0.57" height="3.40" fill="#5f8a55" fill-opacity="0.72"/>
<rect x="305.74" y="91.79" width="0.57" height="3.40" fill="#5f8a55" fill-opacity="0.72"/>
<rect x="308.04" y="91.79" width="0.57" height="3.40" fill="#5f8a55" fill-opacity="0.72"/>
<rect x="309.18" y="91.79" width="0.57" height="3.40" fill="#3a3a3a" fill-opacity="0.72"/>
<rect x="315.49" y="91.79" width="0.57" height="3.40" fill="#5f8a55" fill-opacity="0.72"/>
<rect x="325.23" y="91.79" width="0.57" height="3.40" fill="#5f8a55" fill-opacity="0.72"/>
<rect x="326.37" y="91.79" width="0.57" height="3.40" fill="#5f8a55" fill-opacity="0.72"/>
<rect x="328.67" y="91.79" width="0.57" height="3.40" fill="#3a3a3a" fill-opacity="0.72"/>
<text x="244.00" y="94.99" font-size="3.5" text-anchor="end" font-weight="normal" fill="#333" stroke="#333" stroke-width="0.18" >FLG</text>
<text x="341.20" y="94.89" font-size="3.5" text-anchor="start" font-weight="normal" fill="#222" stroke="#222" stroke-width="0.22" >11%</text>
<rect x="351.00" y="91.59" width="2.70" height="3.80" fill="#33a532" />
<rect x="353.70" y="91.59" width="1.45" height="3.80" fill="#d93035" />
<rect x="245.00" y="95.82" width="95.70" height="4.00" fill="#e1e2e4" />
<rect x="245.57" y="96.12" width="0.57" height="3.40" fill="#5a6f8a" fill-opacity="0.72"/>
<rect x="247.29" y="96.12" width="0.57" height="3.40" fill="#8a6a90" fill-opacity="0.72"/>
<rect x="248.44" y="96.12" width="0.57" height="3.40" fill="#3a3a3a" fill-opacity="0.72"/>
<rect x="249.01" y="96.12" width="0.57" height="3.40" fill="#5f8a55" fill-opacity="0.72"/>
<rect x="251.88" y="96.12" width="0.57" height="3.40" fill="#5f8a55" fill-opacity="0.72"/>
<rect x="265.63" y="96.12" width="0.57" height="3.40" fill="#8a6a90" fill-opacity="0.72"/>
<rect x="270.79" y="96.12" width="0.57" height="3.40" fill="#5a6f8a" fill-opacity="0.72"/>
<rect x="278.81" y="96.12" width="0.57" height="3.40" fill="#5f8a55" fill-opacity="0.72"/>
<rect x="279.96" y="96.12" width="0.57" height="3.40" fill="#5a6f8a" fill-opacity="0.72"/>
<rect x="283.39" y="96.12" width="0.57" height="3.40" fill="#8a6a90" fill-opacity="0.72"/>
<rect x="285.11" y="96.12" width="0.57" height="3.40" fill="#5a6f8a" fill-opacity="0.72"/>
<rect x="294.28" y="96.12" width="0.57" height="3.40" fill="#3a3a3a" fill-opacity="0.72"/>
<rect x="298.29" y="96.12" width="0.57" height="3.40" fill="#a86a5f" fill-opacity="0.72"/>
<rect x="310.90" y="96.12" width="0.57" height="3.40" fill="#5f8a55" fill-opacity="0.72"/>
<rect x="325.23" y="96.12" width="0.57" height="3.40" fill="#8a6a90" fill-opacity="0.72"/>
<rect x="325.80" y="96.12" width="0.57" height="3.40" fill="#3a3a3a" fill-opacity="0.72"/>
<rect x="334.97" y="96.12" width="0.57" height="3.40" fill="#5f8a55" fill-opacity="0.72"/>
<text x="244.00" y="99.32" font-size="3.5" text-anchor="end" font-weight="normal" fill="#333" stroke="#333" stroke-width="0.18" >USH2A</text>
<text x="341.20" y="99.22" font-size="3.5" text-anchor="start" font-weight="normal" fill="#222" stroke="#222" stroke-width="0.22" >10%</text>
<rect x="351.00" y="95.92" width="3.77" height="3.80" fill="#33a532" />
<rect x="245.00" y="100.15" width="95.70" height="4.00" fill="#e1e2e4" />
<rect x="245.57" y="100.45" width="0.57" height="3.40" fill="#5f8a55" fill-opacity="0.72"/>
<rect x="248.44" y="100.45" width="0.57" height="3.40" fill="#5f8a55" fill-opacity="0.72"/>
<rect x="249.58" y="100.45" width="1.15" height="3.40" fill="#5f8a55" fill-opacity="0.72"/>
<rect x="255.89" y="100.45" width="0.57" height="3.40" fill="#8a6a90" fill-opacity="0.72"/>
<rect x="267.92" y="100.45" width="0.57" height="3.40" fill="#5f8a55" fill-opacity="0.72"/>
<rect x="275.37" y="100.45" width="0.57" height="3.40" fill="#5f8a55" fill-opacity="0.72"/>
<rect x="278.24" y="100.45" width="0.57" height="3.40" fill="#b0a0b0" fill-opacity="0.72"/>
<rect x="286.83" y="100.45" width="0.57" height="3.40" fill="#b0a0b0" fill-opacity="0.72"/>
<rect x="298.29" y="100.45" width="0.57" height="3.40" fill="#5a6f8a" fill-opacity="0.72"/>
<rect x="307.46" y="100.45" width="0.57" height="3.40" fill="#5f8a55" fill-opacity="0.72"/>
<rect x="309.18" y="100.45" width="0.57" height="3.40" fill="#a86a5f" fill-opacity="0.72"/>
<rect x="316.63" y="100.45" width="0.57" height="3.40" fill="#5f8a55" fill-opacity="0.72"/>
<rect x="318.92" y="100.45" width="0.57" height="3.40" fill="#5f8a55" fill-opacity="0.72"/>
<rect x="337.26" y="100.45" width="0.57" height="3.40" fill="#5f8a55" fill-opacity="0.72"/>
<text x="244.00" y="103.65" font-size="3.5" text-anchor="end" font-weight="normal" fill="#333" stroke="#333" stroke-width="0.18" >NSD1</text>
<text x="341.20" y="103.55" font-size="3.5" text-anchor="start" font-weight="normal" fill="#222" stroke="#222" stroke-width="0.22" >9%</text>
<rect x="351.00" y="100.25" width="2.04" height="3.80" fill="#d93035" />
<rect x="353.04" y="100.25" width="1.36" height="3.80" fill="#111111" />
<rect x="245.00" y="104.48" width="95.70" height="4.00" fill="#e1e2e4" />
<rect x="245.00" y="104.78" width="0.57" height="3.40" fill="#a86a5f" fill-opacity="0.72"/>
<rect x="245.57" y="104.78" width="0.57" height="3.40" fill="#5f8a55" fill-opacity="0.72"/>
<rect x="247.87" y="104.78" width="0.57" height="3.40" fill="#a86a5f" fill-opacity="0.72"/>
<rect x="249.58" y="104.78" width="0.57" height="3.40" fill="#3a3a3a" fill-opacity="0.72"/>
<rect x="273.08" y="104.78" width="0.57" height="3.40" fill="#5f8a55" fill-opacity="0.72"/>
<rect x="277.66" y="104.78" width="0.57" height="3.40" fill="#5f8a55" fill-opacity="0.72"/>
<rect x="284.54" y="104.78" width="0.57" height="3.40" fill="#5f8a55" fill-opacity="0.72"/>
<rect x="292.56" y="104.78" width="0.57" height="3.40" fill="#5f8a55" fill-opacity="0.72"/>
<rect x="293.71" y="104.78" width="0.57" height="3.40" fill="#5f8a55" fill-opacity="0.72"/>
<rect x="298.29" y="104.78" width="0.57" height="3.40" fill="#a86a5f" fill-opacity="0.72"/>
<rect x="301.73" y="104.78" width="0.57" height="3.40" fill="#8a6a90" fill-opacity="0.72"/>
<rect x="302.88" y="104.78" width="0.57" height="3.40" fill="#5f8a55" fill-opacity="0.72"/>
<rect x="305.74" y="104.78" width="0.57" height="3.40" fill="#5f8a55" fill-opacity="0.72"/>
<rect x="307.46" y="104.78" width="0.57" height="3.40" fill="#5f8a55" fill-opacity="0.72"/>
<rect x="314.91" y="104.78" width="0.57" height="3.40" fill="#5f8a55" fill-opacity="0.72"/>
<rect x="320.07" y="104.78" width="0.57" height="3.40" fill="#5f8a55" fill-opacity="0.72"/>
<rect x="329.24" y="104.78" width="1.15" height="3.40" fill="#5f8a55" fill-opacity="0.72"/>
<text x="244.00" y="107.98" font-size="3.5" text-anchor="end" font-weight="normal" fill="#333" stroke="#333" stroke-width="0.18" >CASP8</text>
<text x="341.20" y="107.88" font-size="3.5" text-anchor="start" font-weight="normal" fill="#222" stroke="#222" stroke-width="0.22" >11%</text>
<rect x="351.00" y="104.58" width="2.07" height="3.80" fill="#d93035" />
<rect x="353.07" y="104.58" width="2.07" height="3.80" fill="#33a532" />
<rect x="245.00" y="108.81" width="95.70" height="4.00" fill="#e1e2e4" />
<rect x="245.00" y="109.11" width="0.57" height="3.40" fill="#5f8a55" fill-opacity="0.72"/>
<rect x="253.02" y="109.11" width="0.57" height="3.40" fill="#5f8a55" fill-opacity="0.72"/>
<rect x="265.63" y="109.11" width="0.57" height="3.40" fill="#5f8a55" fill-opacity="0.72"/>
<rect x="267.35" y="109.11" width="0.57" height="3.40" fill="#b0a0b0" fill-opacity="0.72"/>
<rect x="268.50" y="109.11" width="0.57" height="3.40" fill="#5f8a55" fill-opacity="0.72"/>
<rect x="279.38" y="109.11" width="0.57" height="3.40" fill="#5f8a55" fill-opacity="0.72"/>
<rect x="286.26" y="109.11" width="1.15" height="3.40" fill="#b0a0b0" fill-opacity="0.72"/>
<rect x="295.43" y="109.11" width="0.57" height="3.40" fill="#5f8a55" fill-opacity="0.72"/>
<rect x="298.87" y="109.11" width="0.57" height="3.40" fill="#5f8a55" fill-opacity="0.72"/>
<rect x="309.76" y="109.11" width="0.57" height="3.40" fill="#5a6f8a" fill-opacity="0.72"/>
<rect x="316.06" y="109.11" width="0.57" height="3.40" fill="#5f8a55" fill-opacity="0.72"/>
<rect x="333.82" y="109.11" width="0.57" height="3.40" fill="#5f8a55" fill-opacity="0.72"/>
<text x="244.00" y="112.31" font-size="3.5" text-anchor="end" font-weight="normal" fill="#333" stroke="#333" stroke-width="0.18" >RYR2</text>
<text x="341.20" y="112.21" font-size="3.5" text-anchor="start" font-weight="normal" fill="#222" stroke="#222" stroke-width="0.22" >8%</text>
<rect x="351.00" y="108.91" width="3.02" height="3.80" fill="#33a532" />
<rect x="245.00" y="113.14" width="95.70" height="4.00" fill="#e1e2e4" />
<rect x="246.72" y="113.44" width="0.57" height="3.40" fill="#3a3a3a" fill-opacity="0.72"/>
<rect x="247.29" y="113.44" width="0.57" height="3.40" fill="#5f8a55" fill-opacity="0.72"/>
<rect x="250.16" y="113.44" width="0.57" height="3.40" fill="#5f8a55" fill-opacity="0.72"/>
<rect x="256.46" y="113.44" width="0.57" height="3.40" fill="#a86a5f" fill-opacity="0.72"/>
<rect x="257.03" y="113.44" width="0.57" height="3.40" fill="#5f8a55" fill-opacity="0.72"/>
<rect x="259.33" y="113.44" width="0.57" height="3.40" fill="#3a3a3a" fill-opacity="0.72"/>
<rect x="266.78" y="113.44" width="0.57" height="3.40" fill="#3a3a3a" fill-opacity="0.72"/>
<rect x="274.80" y="113.44" width="0.57" height="3.40" fill="#8a6a90" fill-opacity="0.72"/>
<rect x="278.24" y="113.44" width="0.57" height="3.40" fill="#c0a070" fill-opacity="0.72"/>
<rect x="283.97" y="113.44" width="0.57" height="3.40" fill="#a86a5f" fill-opacity="0.72"/>
<rect x="296.00" y="113.44" width="0.57" height="3.40" fill="#5f8a55" fill-opacity="0.72"/>
<rect x="297.72" y="113.44" width="0.57" height="3.40" fill="#c0a070" fill-opacity="0.72"/>
<rect x="299.44" y="113.44" width="0.57" height="3.40" fill="#5f8a55" fill-opacity="0.72"/>
<rect x="310.33" y="113.44" width="0.57" height="3.40" fill="#5f8a55" fill-opacity="0.72"/>
<rect x="312.62" y="113.44" width="0.57" height="3.40" fill="#5f8a55" fill-opacity="0.72"/>
<rect x="329.81" y="113.44" width="0.57" height="3.40" fill="#8a6a90" fill-opacity="0.72"/>
<rect x="331.53" y="113.44" width="0.57" height="3.40" fill="#3a3a3a" fill-opacity="0.72"/>
<text x="244.00" y="116.64" font-size="3.5" text-anchor="end" font-weight="normal" fill="#333" stroke="#333" stroke-width="0.18" >XIRP2</text>
<text x="341.20" y="116.54" font-size="3.5" text-anchor="start" font-weight="normal" fill="#222" stroke="#222" stroke-width="0.22" >10%</text>
<rect x="351.00" y="113.24" width="3.77" height="3.80" fill="#33a532" />
<rect x="245.00" y="117.47" width="95.70" height="4.00" fill="#e1e2e4" />
<rect x="245.00" y="117.77" width="1.15" height="3.40" fill="#5f8a55" fill-opacity="0.72"/>
<rect x="247.29" y="117.77" width="0.57" height="3.40" fill="#5a6f8a" fill-opacity="0.72"/>
<rect x="256.46" y="117.77" width="0.57" height="3.40" fill="#a86a5f" fill-opacity="0.72"/>
<rect x="259.33" y="117.77" width="0.57" height="3.40" fill="#3a3a3a" fill-opacity="0.72"/>
<rect x="259.90" y="117.77" width="0.57" height="3.40" fill="#5f8a55" fill-opacity="0.72"/>
<rect x="260.47" y="117.77" width="0.57" height="3.40" fill="#b0a0b0" fill-opacity="0.72"/>
<rect x="263.91" y="117.77" width="0.57" height="3.40" fill="#5f8a55" fill-opacity="0.72"/>
<rect x="291.99" y="117.77" width="0.57" height="3.40" fill="#a86a5f" fill-opacity="0.72"/>
<rect x="292.56" y="117.77" width="0.57" height="3.40" fill="#3a3a3a" fill-opacity="0.72"/>
<rect x="297.72" y="117.77" width="0.57" height="3.40" fill="#a86a5f" fill-opacity="0.72"/>
<rect x="298.87" y="117.77" width="0.57" height="3.40" fill="#5f8a55" fill-opacity="0.72"/>
<rect x="302.88" y="117.77" width="0.57" height="3.40" fill="#5f8a55" fill-opacity="0.72"/>
<rect x="303.45" y="117.77" width="0.57" height="3.40" fill="#3a3a3a" fill-opacity="0.72"/>
<rect x="336.12" y="117.77" width="0.57" height="3.40" fill="#5f8a55" fill-opacity="0.72"/>
<text x="244.00" y="120.97" font-size="3.5" text-anchor="end" font-weight="normal" fill="#333" stroke="#333" stroke-width="0.18" >PKHD1L1</text>
<text x="341.20" y="120.87" font-size="3.5" text-anchor="start" font-weight="normal" fill="#222" stroke="#222" stroke-width="0.22" >9%</text>
<rect x="351.00" y="117.57" width="3.39" height="3.80" fill="#33a532" />
<line x1="351.00" y1="34.00" x2="379.00" y2="34.00" stroke="#000" stroke-width="0.9" />
<line x1="351.00" y1="33.60" x2="351.00" y2="35.00" stroke="#000" stroke-width="0.9" />
<line x1="379.00" y1="33.60" x2="379.00" y2="35.00" stroke="#000" stroke-width="0.9" />
<text x="351.00" y="31.00" font-size="2.6" text-anchor="middle" font-weight="normal" fill="#000" stroke="#000" stroke-width="0.08" >0</text>
<text x="379.00" y="31.00" font-size="2.6" text-anchor="middle" font-weight="normal" fill="#000" stroke="#000" stroke-width="0.08" >125</text>
<text x="365.00" y="32.90" font-size="2.4" text-anchor="middle" font-weight="normal" fill="#a05050" >No. of samples</text>
<rect x="245.00" y="123.75" width="95.70" height="6.85" fill="#d63a5c" stroke="#b0203f" stroke-width="0.7"/>
<text x="343.00" y="128.60" font-size="3.6" text-anchor="start" font-weight="normal" fill="#222" stroke="#222" stroke-width="0.08" >Risk</text>
<text x="318.70" y="136.40" font-size="3.6" text-anchor="start" font-weight="normal" fill="#222" stroke="#222" stroke-width="0.08" >Risk</text>
<circle cx="321.20" cy="140.3" r="0.7" fill="#c03060"/>
<circle cx="321.20" cy="144.5" r="0.7" fill="#111"/>
<text x="324.70" y="141.60" font-size="3.5" text-anchor="start" font-weight="normal" fill="#222" stroke="#222" stroke-width="0.08" >high</text>
<text x="324.70" y="145.80" font-size="3.5" text-anchor="start" font-weight="normal" fill="#222" stroke="#222" stroke-width="0.08" >low</text>
<rect x="232.15" y="134.05" width="1.20" height="1.20" fill="#2a6a2a" />
<text x="235.65" y="136.05" font-size="3.6" text-anchor="start" font-weight="normal" fill="#3a2a2a" stroke="#3a2a2a" stroke-width="0.12" >Missense_Mutation</text>
<rect x="232.15" y="138.20" width="1.20" height="1.20" fill="#802020" />
<text x="235.65" y="140.20" font-size="3.6" text-anchor="start" font-weight="normal" fill="#3a2a2a" stroke="#3a2a2a" stroke-width="0.12" >Nonsense_Mutation</text>
<rect x="232.15" y="142.50" width="1.20" height="1.20" fill="#1f4f84" />
<text x="235.65" y="144.50" font-size="3.6" text-anchor="start" font-weight="normal" fill="#3a2a2a" stroke="#3a2a2a" stroke-width="0.12" >Frame_Shift_Del</text>
<rect x="232.15" y="146.70" width="1.20" height="1.20" fill="#6467ad" />
<text x="235.65" y="148.70" font-size="3.6" text-anchor="start" font-weight="normal" fill="#3a2a2a" stroke="#3a2a2a" stroke-width="0.12" >Frame_Shift_Ins</text>
<rect x="274.30" y="134.05" width="1.20" height="1.20" fill="#e0d070" />
<text x="277.80" y="136.05" font-size="3.6" text-anchor="start" font-weight="normal" fill="#3a2a2a" stroke="#3a2a2a" stroke-width="0.12" >In_Frame_Del</text>
<rect x="274.30" y="138.20" width="1.20" height="1.20" fill="#d06030" />
<text x="277.80" y="140.20" font-size="3.6" text-anchor="start" font-weight="normal" fill="#3a2a2a" stroke="#3a2a2a" stroke-width="0.12" >Translation_Start_Site</text>
<rect x="274.30" y="142.50" width="1.20" height="1.20" fill="#000" />
<text x="277.80" y="144.50" font-size="3.6" text-anchor="start" font-weight="normal" fill="#3a2a2a" stroke="#3a2a2a" stroke-width="0.12" >Multi_Hit</text>
<text x="14.50" y="6.60" font-size="8.6" text-anchor="start" font-weight="bold" fill="#000" stroke="#000" stroke-width="0.1" textLength="5.1" lengthAdjust="spacingAndGlyphs" >A</text>
<text x="225.40" y="6.90" font-size="8.6" text-anchor="start" font-weight="bold" fill="#000" stroke="#000" stroke-width="0.1" textLength="5.1" lengthAdjust="spacingAndGlyphs" >B</text>
<text x="1.30" y="176.40" font-size="8.6" text-anchor="start" font-weight="bold" fill="#000" stroke="#000" stroke-width="0.1" textLength="5.1" lengthAdjust="spacingAndGlyphs" >C</text>
<text x="145.90" y="175.60" font-size="8.6" text-anchor="start" font-weight="bold" fill="#000" stroke="#000" stroke-width="0.1" textLength="5.1" lengthAdjust="spacingAndGlyphs" >D</text>
<text x="298.70" y="175.40" font-size="8.6" text-anchor="start" font-weight="bold" fill="#000" stroke="#000" stroke-width="0.1" textLength="5.1" lengthAdjust="spacingAndGlyphs" >E</text>
<rect x="21.00" y="196.20" width="93.60" height="91.20" fill="#ffffff" />
<line x1="31.00" y1="196.20" x2="31.00" y2="287.40" stroke="#ebebeb" stroke-width="0.4" />
<line x1="55.00" y1="196.20" x2="55.00" y2="287.40" stroke="#ebebeb" stroke-width="0.4" />
<line x1="79.00" y1="196.20" x2="79.00" y2="287.40" stroke="#ebebeb" stroke-width="0.4" />
<line x1="103.00" y1="196.20" x2="103.00" y2="287.40" stroke="#ebebeb" stroke-width="0.4" />
<line x1="43.00" y1="196.20" x2="43.00" y2="287.40" stroke="#dedede" stroke-width="0.6" />
<line x1="67.00" y1="196.20" x2="67.00" y2="287.40" stroke="#dedede" stroke-width="0.6" />
<line x1="91.00" y1="196.20" x2="91.00" y2="287.40" stroke="#dedede" stroke-width="0.6" />
<line x1="21.00" y1="270.00" x2="114.60" y2="270.00" stroke="#ebebeb" stroke-width="0.4" />
<line x1="21.00" y1="242.00" x2="114.60" y2="242.00" stroke="#ebebeb" stroke-width="0.4" />
<line x1="21.00" y1="214.00" x2="114.60" y2="214.00" stroke="#ebebeb" stroke-width="0.4" />
<line x1="21.00" y1="284.00" x2="114.60" y2="284.00" stroke="#dedede" stroke-width="0.6" />
<line x1="21.00" y1="256.00" x2="114.60" y2="256.00" stroke="#dedede" stroke-width="0.6" />
<line x1="21.00" y1="228.00" x2="114.60" y2="228.00" stroke="#dedede" stroke-width="0.6" />
<line x1="21.00" y1="200.00" x2="114.60" y2="200.00" stroke="#dedede" stroke-width="0.6" />
<g fill="#000"><circle cx="43.0" cy="203.8" r="1.2"/><circle cx="52.0" cy="205.0" r="1.2"/><circle cx="30.8" cy="199.6" r="1.2"/><circle cx="35.6" cy="199.6" r="1.2"/><circle cx="46.4" cy="199.6" r="1.2"/><circle cx="60.8" cy="199.6" r="1.2"/><circle cx="62.7" cy="199.6" r="1.2"/><circle cx="32.0" cy="213.0" r="1.2"/><circle cx="40.0" cy="213.5" r="1.2"/><circle cx="44.6" cy="211.5" r="1.2"/><circle cx="89.6" cy="206.4" r="1.2"/><circle cx="91.4" cy="220.0" r="1.2"/><circle cx="33.0" cy="222.0" r="1.2"/><circle cx="40.6" cy="220.0" r="1.2"/><circle cx="46.0" cy="220.0" r="1.2"/><circle cx="57.5" cy="222.0" r="1.2"/><circle cx="64.4" cy="223.0" r="1.2"/><circle cx="31.0" cy="226.0" r="1.2"/><circle cx="35.0" cy="227.0" r="1.2"/><circle cx="38.0" cy="227.0" r="1.2"/><circle cx="42.0" cy="227.0" r="1.2"/><circle cx="45.0" cy="228.0" r="1.2"/><circle cx="31.7" cy="231.0" r="1.2"/><circle cx="45.0" cy="233.0" r="1.2"/><circle cx="73.7" cy="230.0" r="1.2"/><circle cx="84.0" cy="236.5" r="1.2"/><circle cx="83.7" cy="231.0" r="1.2"/><circle cx="78.5" cy="233.5" r="1.2"/><circle cx="95.5" cy="238.0" r="1.2"/><circle cx="93.4" cy="242.0" r="1.2"/><circle cx="31.0" cy="240.0" r="1.2"/><circle cx="33.7" cy="240.0" r="1.2"/><circle cx="38.0" cy="241.0" r="1.2"/><circle cx="41.0" cy="242.0" r="1.2"/><circle cx="46.0" cy="241.0" r="1.2"/><circle cx="53.7" cy="242.0" r="1.2"/><circle cx="54.0" cy="243.0" r="1.2"/><circle cx="30.0" cy="245.0" r="1.2"/><circle cx="35.0" cy="246.0" r="1.2"/><circle cx="38.0" cy="248.0" r="1.2"/><circle cx="40.6" cy="246.0" r="1.2"/><circle cx="50.0" cy="249.0" r="1.2"/><circle cx="74.0" cy="249.0" r="1.2"/><circle cx="80.0" cy="245.0" r="1.2"/><circle cx="81.0" cy="247.0" r="1.2"/><circle cx="27.0" cy="236.0" r="1.2"/><circle cx="29.0" cy="218.0" r="1.2"/><circle cx="36.0" cy="236.0" r="1.2"/><circle cx="62.0" cy="238.0" r="1.2"/><circle cx="99.0" cy="246.0" r="1.2"/><circle cx="106.0" cy="248.0" r="1.2"/><circle cx="28.0" cy="250.0" r="1.2"/><circle cx="60.0" cy="247.0" r="1.2"/><circle cx="34.7" cy="255.1" r="1.2"/><circle cx="49.7" cy="252.3" r="1.2"/><circle cx="59.6" cy="261.4" r="1.2"/><circle cx="55.3" cy="256.0" r="1.2"/><circle cx="37.0" cy="252.7" r="1.2"/><circle cx="39.2" cy="260.2" r="1.2"/><circle cx="29.6" cy="252.7" r="1.2"/><circle cx="37.9" cy="254.4" r="1.2"/><circle cx="47.2" cy="261.0" r="1.2"/><circle cx="28.5" cy="251.2" r="1.2"/><circle cx="52.6" cy="258.6" r="1.2"/><circle cx="36.6" cy="253.4" r="1.2"/><circle cx="60.5" cy="256.3" r="1.2"/><circle cx="68.4" cy="250.7" r="1.2"/><circle cx="62.5" cy="251.2" r="1.2"/><circle cx="65.8" cy="250.8" r="1.2"/><circle cx="63.0" cy="253.5" r="1.2"/><circle cx="69.3" cy="262.2" r="1.2"/><circle cx="82.3" cy="256.6" r="1.2"/><circle cx="74.1" cy="254.2" r="1.2"/><circle cx="99.9" cy="254.2" r="1.2"/><circle cx="73.6" cy="258.3" r="1.2"/><circle cx="106.1" cy="261.7" r="1.2"/><circle cx="73.6" cy="259.7" r="1.2"/><circle cx="108.9" cy="249.4" r="1.2"/><circle cx="95.8" cy="261.4" r="1.2"/><circle cx="101.1" cy="260.9" r="1.2"/><circle cx="77.1" cy="261.5" r="1.2"/><circle cx="78.1" cy="249.1" r="1.2"/><circle cx="70.6" cy="254.3" r="1.2"/><circle cx="83.0" cy="252.9" r="1.2"/><circle cx="87.7" cy="255.8" r="1.2"/><circle cx="71.1" cy="256.8" r="1.2"/><circle cx="88.6" cy="254.7" r="1.2"/><circle cx="88.3" cy="261.9" r="1.2"/><circle cx="107.9" cy="255.0" r="1.2"/><circle cx="68.8" cy="251.7" r="1.2"/><circle cx="78.2" cy="255.2" r="1.2"/><circle cx="31.5" cy="272.7" r="1.2"/><circle cx="26.5" cy="275.4" r="1.2"/><circle cx="38.1" cy="270.8" r="1.2"/><circle cx="41.5" cy="283.0" r="1.2"/><circle cx="50.1" cy="273.3" r="1.2"/><circle cx="26.6" cy="274.2" r="1.2"/><circle cx="26.5" cy="275.6" r="1.2"/><circle cx="38.8" cy="272.4" r="1.2"/><circle cx="27.7" cy="274.9" r="1.2"/><circle cx="37.6" cy="282.2" r="1.2"/><circle cx="46.2" cy="269.5" r="1.2"/><circle cx="46.8" cy="277.3" r="1.2"/><circle cx="27.6" cy="271.8" r="1.2"/><circle cx="46.3" cy="268.6" r="1.2"/><circle cx="44.0" cy="274.9" r="1.2"/><circle cx="31.9" cy="275.4" r="1.2"/><circle cx="41.9" cy="280.1" r="1.2"/><circle cx="49.4" cy="277.5" r="1.2"/><circle cx="43.5" cy="268.0" r="1.2"/><circle cx="42.5" cy="279.5" r="1.2"/><circle cx="42.9" cy="269.7" r="1.2"/><circle cx="34.8" cy="273.5" r="1.2"/><circle cx="48.9" cy="272.5" r="1.2"/><circle cx="26.1" cy="280.8" r="1.2"/><circle cx="42.7" cy="277.6" r="1.2"/><circle cx="43.9" cy="267.7" r="1.2"/><circle cx="37.4" cy="278.7" r="1.2"/><circle cx="37.1" cy="280.7" r="1.2"/><circle cx="32.7" cy="282.6" r="1.2"/><circle cx="47.7" cy="272.2" r="1.2"/><circle cx="33.5" cy="270.6" r="1.2"/><circle cx="26.8" cy="267.9" r="1.2"/><circle cx="29.5" cy="273.1" r="1.2"/><circle cx="38.1" cy="268.5" r="1.2"/><circle cx="35.1" cy="280.7" r="1.2"/><circle cx="45.0" cy="277.9" r="1.2"/><circle cx="30.7" cy="281.5" r="1.2"/><circle cx="30.2" cy="274.8" r="1.2"/><circle cx="33.4" cy="279.7" r="1.2"/><circle cx="32.3" cy="282.6" r="1.2"/><circle cx="45.4" cy="268.0" r="1.2"/><circle cx="29.8" cy="273.9" r="1.2"/><circle cx="44.1" cy="276.3" r="1.2"/><circle cx="45.8" cy="271.2" r="1.2"/><circle cx="47.6" cy="269.9" r="1.2"/><circle cx="46.9" cy="276.9" r="1.2"/><circle cx="37.8" cy="276.0" r="1.2"/><circle cx="35.4" cy="271.5" r="1.2"/><circle cx="40.2" cy="271.7" r="1.2"/><circle cx="36.2" cy="281.6" r="1.2"/><circle cx="52.0" cy="269.6" r="1.2"/><circle cx="33.7" cy="279.2" r="1.2"/><circle cx="29.5" cy="274.1" r="1.2"/><circle cx="27.2" cy="280.2" r="1.2"/><circle cx="46.3" cy="271.4" r="1.2"/><circle cx="40.4" cy="271.0" r="1.2"/><circle cx="29.1" cy="279.0" r="1.2"/><circle cx="51.1" cy="278.5" r="1.2"/><circle cx="27.6" cy="274.3" r="1.2"/><circle cx="47.1" cy="282.5" r="1.2"/><circle cx="49.4" cy="268.6" r="1.2"/><circle cx="45.3" cy="270.2" r="1.2"/><circle cx="28.7" cy="268.6" r="1.2"/><circle cx="35.2" cy="272.2" r="1.2"/><circle cx="42.9" cy="278.4" r="1.2"/><circle cx="40.7" cy="274.4" r="1.2"/><circle cx="38.5" cy="275.7" r="1.2"/><circle cx="43.4" cy="273.2" r="1.2"/><circle cx="39.1" cy="276.2" r="1.2"/><circle cx="36.8" cy="276.7" r="1.2"/><circle cx="31.8" cy="273.4" r="1.2"/><circle cx="48.2" cy="282.3" r="1.2"/><circle cx="42.4" cy="273.9" r="1.2"/><circle cx="50.8" cy="271.5" r="1.2"/><circle cx="47.2" cy="278.4" r="1.2"/><circle cx="26.5" cy="278.1" r="1.2"/><circle cx="30.7" cy="272.6" r="1.2"/><circle cx="49.8" cy="274.4" r="1.2"/><circle cx="34.2" cy="279.3" r="1.2"/><circle cx="50.8" cy="281.3" r="1.2"/><circle cx="37.6" cy="272.5" r="1.2"/><circle cx="51.2" cy="282.7" r="1.2"/><circle cx="27.4" cy="282.5" r="1.2"/><circle cx="39.6" cy="273.7" r="1.2"/><circle cx="28.6" cy="279.1" r="1.2"/><circle cx="35.0" cy="278.5" r="1.2"/><circle cx="35.3" cy="275.2" r="1.2"/><circle cx="34.9" cy="283.0" r="1.2"/><circle cx="42.3" cy="281.1" r="1.2"/><circle cx="28.1" cy="275.4" r="1.2"/><circle cx="48.9" cy="277.0" r="1.2"/><circle cx="42.5" cy="274.8" r="1.2"/><circle cx="37.3" cy="272.6" r="1.2"/><circle cx="39.7" cy="272.8" r="1.2"/><circle cx="45.5" cy="272.4" r="1.2"/><circle cx="46.9" cy="278.2" r="1.2"/><circle cx="43.3" cy="279.6" r="1.2"/><circle cx="35.6" cy="269.3" r="1.2"/><circle cx="42.0" cy="272.0" r="1.2"/><circle cx="39.9" cy="270.7" r="1.2"/><circle cx="31.7" cy="276.7" r="1.2"/><circle cx="45.8" cy="273.2" r="1.2"/><circle cx="48.0" cy="277.6" r="1.2"/><circle cx="29.4" cy="268.5" r="1.2"/><circle cx="37.3" cy="277.8" r="1.2"/><circle cx="45.7" cy="268.2" r="1.2"/><circle cx="49.2" cy="276.7" r="1.2"/><circle cx="36.1" cy="276.2" r="1.2"/><circle cx="25.8" cy="279.9" r="1.2"/><circle cx="47.6" cy="268.8" r="1.2"/><circle cx="31.7" cy="270.2" r="1.2"/><circle cx="29.7" cy="281.5" r="1.2"/><circle cx="46.2" cy="271.2" r="1.2"/><circle cx="25.6" cy="268.8" r="1.2"/><circle cx="27.4" cy="270.6" r="1.2"/><circle cx="37.7" cy="268.6" r="1.2"/><circle cx="34.4" cy="272.0" r="1.2"/><circle cx="45.2" cy="281.1" r="1.2"/><circle cx="34.0" cy="281.9" r="1.2"/><circle cx="32.1" cy="271.6" r="1.2"/><circle cx="26.7" cy="268.3" r="1.2"/><circle cx="51.3" cy="269.5" r="1.2"/><circle cx="48.4" cy="272.6" r="1.2"/><circle cx="38.5" cy="269.7" r="1.2"/><circle cx="41.3" cy="282.8" r="1.2"/><circle cx="46.7" cy="279.1" r="1.2"/><circle cx="47.7" cy="274.1" r="1.2"/><circle cx="33.0" cy="267.8" r="1.2"/><circle cx="33.4" cy="268.6" r="1.2"/><circle cx="37.8" cy="268.5" r="1.2"/><circle cx="29.1" cy="279.8" r="1.2"/><circle cx="37.2" cy="274.8" r="1.2"/><circle cx="47.0" cy="277.1" r="1.2"/><circle cx="47.3" cy="274.8" r="1.2"/><circle cx="36.8" cy="267.7" r="1.2"/><circle cx="50.2" cy="270.8" r="1.2"/><circle cx="47.7" cy="274.6" r="1.2"/><circle cx="45.3" cy="275.3" r="1.2"/><circle cx="39.1" cy="272.6" r="1.2"/><circle cx="26.5" cy="271.0" r="1.2"/><circle cx="25.6" cy="275.4" r="1.2"/><circle cx="30.7" cy="278.6" r="1.2"/><circle cx="37.3" cy="270.5" r="1.2"/><circle cx="30.0" cy="282.8" r="1.2"/><circle cx="51.9" cy="281.4" r="1.2"/><circle cx="28.5" cy="268.5" r="1.2"/><circle cx="37.5" cy="272.8" r="1.2"/><circle cx="44.0" cy="278.1" r="1.2"/><circle cx="44.0" cy="280.0" r="1.2"/><circle cx="35.7" cy="275.6" r="1.2"/><circle cx="33.3" cy="279.5" r="1.2"/><circle cx="33.5" cy="272.0" r="1.2"/><circle cx="33.8" cy="271.2" r="1.2"/><circle cx="29.7" cy="277.3" r="1.2"/><circle cx="31.6" cy="268.0" r="1.2"/><circle cx="33.7" cy="279.7" r="1.2"/><circle cx="44.4" cy="281.0" r="1.2"/><circle cx="43.5" cy="274.9" r="1.2"/><circle cx="33.4" cy="268.7" r="1.2"/><circle cx="42.8" cy="277.2" r="1.2"/><circle cx="36.8" cy="268.5" r="1.2"/><circle cx="46.7" cy="275.5" r="1.2"/><circle cx="37.1" cy="280.7" r="1.2"/><circle cx="50.3" cy="274.0" r="1.2"/><circle cx="44.0" cy="275.8" r="1.2"/><circle cx="46.1" cy="278.7" r="1.2"/><circle cx="33.5" cy="268.3" r="1.2"/><circle cx="45.8" cy="268.9" r="1.2"/><circle cx="49.9" cy="269.6" r="1.2"/><circle cx="48.2" cy="282.1" r="1.2"/><circle cx="40.1" cy="268.5" r="1.2"/><circle cx="43.5" cy="268.0" r="1.2"/><circle cx="42.8" cy="280.7" r="1.2"/><circle cx="42.8" cy="272.8" r="1.2"/><circle cx="39.0" cy="269.7" r="1.2"/><circle cx="43.8" cy="278.6" r="1.2"/><circle cx="44.9" cy="268.0" r="1.2"/><circle cx="49.6" cy="277.9" r="1.2"/><circle cx="39.3" cy="278.4" r="1.2"/><circle cx="33.5" cy="280.2" r="1.2"/><circle cx="60.9" cy="273.8" r="1.2"/><circle cx="54.3" cy="273.5" r="1.2"/><circle cx="64.5" cy="278.5" r="1.2"/><circle cx="56.5" cy="281.3" r="1.2"/><circle cx="58.2" cy="276.1" r="1.2"/><circle cx="51.7" cy="282.1" r="1.2"/><circle cx="66.9" cy="278.7" r="1.2"/><circle cx="57.0" cy="271.0" r="1.2"/><circle cx="53.3" cy="280.1" r="1.2"/><circle cx="63.7" cy="273.6" r="1.2"/><circle cx="53.6" cy="279.7" r="1.2"/><circle cx="63.5" cy="281.7" r="1.2"/><circle cx="58.8" cy="280.9" r="1.2"/><circle cx="59.2" cy="279.9" r="1.2"/><circle cx="50.5" cy="275.4" r="1.2"/><circle cx="64.7" cy="278.3" r="1.2"/><circle cx="67.6" cy="277.0" r="1.2"/><circle cx="55.6" cy="278.8" r="1.2"/><circle cx="65.3" cy="278.1" r="1.2"/><circle cx="61.9" cy="268.4" r="1.2"/><circle cx="50.0" cy="271.1" r="1.2"/><circle cx="56.2" cy="279.7" r="1.2"/><circle cx="54.6" cy="268.1" r="1.2"/><circle cx="50.7" cy="283.0" r="1.2"/><circle cx="54.1" cy="272.4" r="1.2"/><circle cx="65.9" cy="282.2" r="1.2"/><circle cx="55.4" cy="277.1" r="1.2"/><circle cx="57.1" cy="271.9" r="1.2"/><circle cx="67.0" cy="267.7" r="1.2"/><circle cx="62.2" cy="279.2" r="1.2"/><circle cx="63.9" cy="276.3" r="1.2"/><circle cx="66.4" cy="280.2" r="1.2"/><circle cx="61.6" cy="268.3" r="1.2"/><circle cx="66.0" cy="270.2" r="1.2"/><circle cx="52.7" cy="272.3" r="1.2"/><circle cx="59.1" cy="272.6" r="1.2"/><circle cx="57.9" cy="272.3" r="1.2"/><circle cx="54.3" cy="278.6" r="1.2"/><circle cx="62.1" cy="268.4" r="1.2"/><circle cx="66.1" cy="270.2" r="1.2"/><circle cx="55.8" cy="279.5" r="1.2"/><circle cx="65.4" cy="282.3" r="1.2"/><circle cx="65.7" cy="275.9" r="1.2"/><circle cx="66.4" cy="279.8" r="1.2"/><circle cx="65.2" cy="282.7" r="1.2"/><circle cx="67.0" cy="274.8" r="1.2"/><circle cx="58.3" cy="279.1" r="1.2"/><circle cx="65.1" cy="278.8" r="1.2"/><circle cx="56.5" cy="268.5" r="1.2"/><circle cx="52.1" cy="281.2" r="1.2"/><circle cx="66.3" cy="267.9" r="1.2"/><circle cx="56.7" cy="277.0" r="1.2"/><circle cx="59.0" cy="268.3" r="1.2"/><circle cx="65.5" cy="277.4" r="1.2"/><circle cx="55.6" cy="274.9" r="1.2"/><circle cx="56.8" cy="277.4" r="1.2"/><circle cx="66.0" cy="276.4" r="1.2"/><circle cx="55.7" cy="272.8" r="1.2"/><circle cx="65.1" cy="279.0" r="1.2"/><circle cx="56.3" cy="281.7" r="1.2"/><circle cx="60.8" cy="283.0" r="1.2"/><circle cx="66.1" cy="268.6" r="1.2"/><circle cx="58.0" cy="267.7" r="1.2"/><circle cx="67.2" cy="271.0" r="1.2"/><circle cx="53.8" cy="275.9" r="1.2"/><circle cx="66.7" cy="277.7" r="1.2"/><circle cx="65.5" cy="277.6" r="1.2"/><circle cx="60.2" cy="274.7" r="1.2"/><circle cx="60.2" cy="267.9" r="1.2"/><circle cx="52.4" cy="283.0" r="1.2"/><circle cx="73.0" cy="272.0" r="1.2"/><circle cx="85.6" cy="279.0" r="1.2"/><circle cx="69.9" cy="279.8" r="1.2"/><circle cx="88.9" cy="268.4" r="1.2"/><circle cx="79.9" cy="282.1" r="1.2"/><circle cx="94.0" cy="269.9" r="1.2"/><circle cx="90.2" cy="268.7" r="1.2"/><circle cx="81.8" cy="272.6" r="1.2"/><circle cx="103.7" cy="275.5" r="1.2"/><circle cx="103.0" cy="275.1" r="1.2"/><circle cx="94.6" cy="267.7" r="1.2"/><circle cx="99.1" cy="276.9" r="1.2"/><circle cx="80.4" cy="280.4" r="1.2"/><circle cx="100.2" cy="270.0" r="1.2"/><circle cx="66.7" cy="277.6" r="1.2"/><circle cx="99.4" cy="269.2" r="1.2"/><circle cx="87.6" cy="268.3" r="1.2"/><circle cx="68.1" cy="275.3" r="1.2"/><circle cx="100.3" cy="280.7" r="1.2"/><circle cx="93.1" cy="278.5" r="1.2"/><circle cx="74.2" cy="274.7" r="1.2"/><circle cx="71.9" cy="270.8" r="1.2"/><circle cx="71.8" cy="274.3" r="1.2"/><circle cx="67.2" cy="269.6" r="1.2"/><circle cx="92.1" cy="276.9" r="1.2"/><circle cx="74.9" cy="270.9" r="1.2"/><circle cx="89.9" cy="268.3" r="1.2"/><circle cx="95.4" cy="279.9" r="1.2"/><circle cx="100.3" cy="270.1" r="1.2"/><circle cx="95.7" cy="275.8" r="1.2"/><circle cx="74.8" cy="280.2" r="1.2"/><circle cx="74.8" cy="270.2" r="1.2"/><circle cx="99.2" cy="282.6" r="1.2"/><circle cx="93.4" cy="269.2" r="1.2"/><circle cx="83.6" cy="276.7" r="1.2"/><circle cx="74.2" cy="280.5" r="1.2"/><circle cx="82.1" cy="275.4" r="1.2"/><circle cx="84.6" cy="267.5" r="1.2"/><circle cx="99.0" cy="281.0" r="1.2"/><circle cx="100.1" cy="276.2" r="1.2"/><circle cx="81.8" cy="272.5" r="1.2"/><circle cx="72.5" cy="270.9" r="1.2"/><circle cx="86.6" cy="273.8" r="1.2"/><circle cx="93.4" cy="282.9" r="1.2"/><circle cx="74.7" cy="281.0" r="1.2"/><circle cx="79.5" cy="274.3" r="1.2"/><circle cx="77.8" cy="277.3" r="1.2"/><circle cx="82.9" cy="269.7" r="1.2"/><circle cx="88.4" cy="269.4" r="1.2"/><circle cx="77.3" cy="274.0" r="1.2"/><circle cx="97.9" cy="279.4" r="1.2"/><circle cx="88.5" cy="274.8" r="1.2"/><circle cx="76.5" cy="275.5" r="1.2"/><circle cx="83.9" cy="275.4" r="1.2"/><circle cx="85.0" cy="271.1" r="1.2"/><circle cx="79.4" cy="273.4" r="1.2"/><circle cx="68.6" cy="269.1" r="1.2"/><circle cx="93.9" cy="272.7" r="1.2"/><circle cx="92.8" cy="280.5" r="1.2"/><circle cx="90.5" cy="274.7" r="1.2"/><circle cx="97.7" cy="276.0" r="1.2"/><circle cx="67.6" cy="279.7" r="1.2"/><circle cx="84.1" cy="275.4" r="1.2"/><circle cx="93.1" cy="278.0" r="1.2"/><circle cx="102.2" cy="277.1" r="1.2"/><circle cx="71.9" cy="277.6" r="1.2"/><circle cx="94.4" cy="267.6" r="1.2"/><circle cx="92.1" cy="277.2" r="1.2"/><circle cx="91.8" cy="273.7" r="1.2"/><circle cx="78.4" cy="276.4" r="1.2"/><circle cx="74.3" cy="279.9" r="1.2"/><circle cx="71.9" cy="276.1" r="1.2"/><circle cx="90.7" cy="271.9" r="1.2"/><circle cx="71.2" cy="281.5" r="1.2"/><circle cx="103.1" cy="277.1" r="1.2"/><circle cx="96.6" cy="274.3" r="1.2"/><circle cx="76.4" cy="275.6" r="1.2"/><circle cx="66.8" cy="276.0" r="1.2"/><circle cx="96.1" cy="272.5" r="1.2"/><circle cx="101.6" cy="269.3" r="1.2"/><circle cx="75.7" cy="277.0" r="1.2"/><circle cx="87.5" cy="280.8" r="1.2"/><circle cx="66.6" cy="279.9" r="1.2"/><circle cx="68.6" cy="280.1" r="1.2"/><circle cx="89.9" cy="267.7" r="1.2"/><circle cx="111.1" cy="272.0" r="1.2"/><circle cx="106.2" cy="282.1" r="1.2"/><circle cx="104.7" cy="268.7" r="1.2"/><circle cx="102.6" cy="278.9" r="1.2"/><circle cx="101.8" cy="272.3" r="1.2"/><circle cx="102.7" cy="274.3" r="1.2"/><circle cx="101.5" cy="282.6" r="1.2"/><circle cx="111.3" cy="269.2" r="1.2"/><circle cx="101.8" cy="276.0" r="1.2"/><circle cx="112.2" cy="279.5" r="1.2"/><circle cx="101.9" cy="280.5" r="1.2"/><circle cx="100.5" cy="275.2" r="1.2"/><circle cx="109.1" cy="274.0" r="1.2"/><circle cx="107.9" cy="278.5" r="1.2"/><circle cx="102.2" cy="269.5" r="1.2"/><circle cx="49.9" cy="263.4" r="1.2"/><circle cx="37.8" cy="263.2" r="1.2"/><circle cx="52.2" cy="266.5" r="1.2"/><circle cx="38.5" cy="265.3" r="1.2"/><circle cx="33.2" cy="264.0" r="1.2"/><circle cx="54.8" cy="267.7" r="1.2"/><circle cx="41.0" cy="263.6" r="1.2"/><circle cx="97.7" cy="264.6" r="1.2"/><circle cx="59.2" cy="265.2" r="1.2"/><circle cx="65.5" cy="263.1" r="1.2"/></g>
<rect x="23.50" y="263.60" width="88.00" height="5.20" fill="#a9b3cc" fill-opacity="0.55"/>
<line x1="23.50" y1="266.20" x2="111.50" y2="266.40" stroke="#4569b5" stroke-width="2.6" />
<rect x="21" y="196.2" width="93.6" height="91.19999999999999" fill="none" stroke="#444" stroke-width="0.7"/>
<text x="24.90" y="204.30" font-size="3.6" text-anchor="start" font-weight="normal" fill="#555" textLength="31" lengthAdjust="spacingAndGlyphs" >R = 0.17, p = 0.0021</text>
<text x="19.30" y="285.30" font-size="3.6" text-anchor="end" font-weight="normal" fill="#555" stroke="#555" stroke-width="0.08" >0</text>
<line x1="20.00" y1="284.00" x2="21.00" y2="284.00" stroke="#000" stroke-width="0.4" />
<text x="19.30" y="257.30" font-size="3.6" text-anchor="end" font-weight="normal" fill="#555" stroke="#555" stroke-width="0.08" >5</text>
<line x1="20.00" y1="256.00" x2="21.00" y2="256.00" stroke="#000" stroke-width="0.4" />
<text x="19.30" y="229.30" font-size="3.6" text-anchor="end" font-weight="normal" fill="#555" stroke="#555" stroke-width="0.08" >10</text>
<line x1="20.00" y1="228.00" x2="21.00" y2="228.00" stroke="#000" stroke-width="0.4" />
<text x="19.30" y="201.30" font-size="3.6" text-anchor="end" font-weight="normal" fill="#555" stroke="#555" stroke-width="0.08" >15</text>
<line x1="20.00" y1="200.00" x2="21.00" y2="200.00" stroke="#000" stroke-width="0.4" />
<text x="43.00" y="292.70" font-size="3.6" text-anchor="middle" font-weight="normal" fill="#444" stroke="#444" stroke-width="0.08" >40</text>
<line x1="43.00" y1="287.40" x2="43.00" y2="288.40" stroke="#000" stroke-width="0.4" />
<text x="67.00" y="292.70" font-size="3.6" text-anchor="middle" font-weight="normal" fill="#444" stroke="#444" stroke-width="0.08" >80</text>
<line x1="67.00" y1="287.40" x2="67.00" y2="288.40" stroke="#000" stroke-width="0.4" />
<text x="91.00" y="292.70" font-size="3.6" text-anchor="middle" font-weight="normal" fill="#444" stroke="#444" stroke-width="0.08" >120</text>
<line x1="91.00" y1="287.40" x2="91.00" y2="288.40" stroke="#000" stroke-width="0.4" />
<text x="69.00" y="299.30" font-size="4.7" text-anchor="middle" font-weight="normal" fill="#222" stroke="#222" stroke-width="0.15" >risk score</text>
<text x="12.60" y="239.50" font-size="4.4" text-anchor="middle" font-weight="normal" fill="#222" stroke="#222" stroke-width="0.15" transform="rotate(-90 12.6 239.5)">Tumor mutation burden</text>
<path d="M24.7,195.3 L25,190.5 C30,186 35,178.5 40,178.7 C45,179 49,186 54.4,188.4 C59,190 63,190.5 67.5,190.5 L85.9,190 C90,190.2 92,190.8 96,191.8 C101,193.2 106,194.3 111,194.8 L111,195.3 Z" fill="#c4bb6c" stroke="none"/>
<path d="M25,190.5 C30,186 35,178.5 40,178.7 C45,179 49,186 54.4,188.4 C59,190 63,190.5 67.5,190.5 L85.9,190 C90,190.2 92,190.8 96,191.8 C101,193.2 106,194.3 111,194.8" fill="none" stroke="#111" stroke-width="1.4"/>
<path d="M116.8,199.7 C116.9,220 117.4,240 118.2,248 C119,256 121,259 124,262 C128,265 133.5,268 133.8,271 C133,275 125,279 120,282 C118.5,283 117.5,284 116.9,285 Z" fill="#4a6fbf" stroke="none"/>
<path d="M116.8,199.7 C116.9,220 117.4,240 118.2,248 C119,256 121,259 124,262 C128,265 133.5,268 133.8,271 C133,275 125,279 120,282 C118.5,283 117.5,284 116.9,285" fill="none" stroke="#111" stroke-width="1.3"/>
<line x1="165.60" y1="179.50" x2="165.60" y2="237.65" stroke="#000" stroke-width="0.8" />
<line x1="165.25" y1="237.30" x2="260.00" y2="237.30" stroke="#000" stroke-width="0.8" />
<line x1="164.60" y1="182.30" x2="165.60" y2="182.30" stroke="#000" stroke-width="0.6" />
<text x="164.60" y="183.65" font-size="3.8" text-anchor="end" font-weight="normal" fill="#333" stroke="#333" stroke-width="0.08" >1.00</text>
<line x1="164.60" y1="195.45" x2="165.60" y2="195.45" stroke="#000" stroke-width="0.6" />
<text x="164.60" y="196.80" font-size="3.8" text-anchor="end" font-weight="normal" fill="#333" stroke="#333" stroke-width="0.08" >0.75</text>
<line x1="164.60" y1="208.60" x2="165.60" y2="208.60" stroke="#000" stroke-width="0.6" />
<text x="164.60" y="209.95" font-size="3.8" text-anchor="end" font-weight="normal" fill="#333" stroke="#333" stroke-width="0.08" >0.50</text>
<line x1="164.60" y1="221.75" x2="165.60" y2="221.75" stroke="#000" stroke-width="0.6" />
<text x="164.60" y="223.10" font-size="3.8" text-anchor="end" font-weight="normal" fill="#333" stroke="#333" stroke-width="0.08" >0.25</text>
<line x1="164.60" y1="234.90" x2="165.60" y2="234.90" stroke="#000" stroke-width="0.6" />
<text x="164.60" y="236.25" font-size="3.8" text-anchor="end" font-weight="normal" fill="#333" stroke="#333" stroke-width="0.08" >0.00</text>
<line x1="169.50" y1="237.30" x2="169.50" y2="238.50" stroke="#000" stroke-width="0.7" />
<text x="169.50" y="241.90" font-size="3.0" text-anchor="middle" font-weight="normal" fill="#333" stroke="#333" stroke-width="0.08" >0</text>
<line x1="178.50" y1="237.30" x2="178.50" y2="238.50" stroke="#000" stroke-width="0.7" />
<text x="178.50" y="241.90" font-size="3.0" text-anchor="middle" font-weight="normal" fill="#333" stroke="#333" stroke-width="0.08" >2</text>
<line x1="187.50" y1="237.30" x2="187.50" y2="238.50" stroke="#000" stroke-width="0.7" />
<text x="187.50" y="241.90" font-size="3.0" text-anchor="middle" font-weight="normal" fill="#333" stroke="#333" stroke-width="0.08" >4</text>
<line x1="196.50" y1="237.30" x2="196.50" y2="238.50" stroke="#000" stroke-width="0.7" />
<text x="196.50" y="241.90" font-size="3.0" text-anchor="middle" font-weight="normal" fill="#333" stroke="#333" stroke-width="0.08" >6</text>
<line x1="205.50" y1="237.30" x2="205.50" y2="238.50" stroke="#000" stroke-width="0.7" />
<text x="205.50" y="241.90" font-size="3.0" text-anchor="middle" font-weight="normal" fill="#333" stroke="#333" stroke-width="0.08" >8</text>
<line x1="214.50" y1="237.30" x2="214.50" y2="238.50" stroke="#000" stroke-width="0.7" />
<text x="214.50" y="241.90" font-size="3.0" text-anchor="middle" font-weight="normal" fill="#333" stroke="#333" stroke-width="0.08" >10</text>
<line x1="223.50" y1="237.30" x2="223.50" y2="238.50" stroke="#000" stroke-width="0.7" />
<text x="223.50" y="241.90" font-size="3.0" text-anchor="middle" font-weight="normal" fill="#333" stroke="#333" stroke-width="0.08" >12</text>
<line x1="232.50" y1="237.30" x2="232.50" y2="238.50" stroke="#000" stroke-width="0.7" />
<text x="232.50" y="241.90" font-size="3.0" text-anchor="middle" font-weight="normal" fill="#333" stroke="#333" stroke-width="0.08" >14</text>
<line x1="241.50" y1="237.30" x2="241.50" y2="238.50" stroke="#000" stroke-width="0.7" />
<text x="241.50" y="241.90" font-size="3.0" text-anchor="middle" font-weight="normal" fill="#333" stroke="#333" stroke-width="0.08" >16</text>
<line x1="250.50" y1="237.30" x2="250.50" y2="238.50" stroke="#000" stroke-width="0.7" />
<text x="250.50" y="241.90" font-size="3.0" text-anchor="middle" font-weight="normal" fill="#333" stroke="#333" stroke-width="0.08" >18</text>
<line x1="259.50" y1="237.30" x2="259.50" y2="238.50" stroke="#000" stroke-width="0.7" />
<text x="259.50" y="241.90" font-size="3.0" text-anchor="middle" font-weight="normal" fill="#333" stroke="#333" stroke-width="0.08" >20</text>
<text x="214.50" y="247.00" font-size="4.2" text-anchor="middle" font-weight="normal" fill="#222" stroke="#222" stroke-width="0.08" >Time(years)</text>
<text x="148.50" y="207.50" font-size="4.4" text-anchor="middle" font-weight="normal" fill="#222" stroke="#222" stroke-width="0.15" transform="rotate(-90 148.5 207.5)">Survival probability</text>
<polyline points="169.50,182.40 170.33,182.40 170.33,183.93 171.17,183.93 171.17,185.47 172.00,185.47 172.00,187.00 173.00,187.00 173.00,189.67 174.00,189.67 174.00,192.33 175.00,192.33 175.00,195.00 176.67,195.00 176.67,197.33 178.33,197.33 178.33,199.67 180.00,199.67 180.00,202.00 182.50,202.00 182.50,204.00 185.00,204.00 185.00,206.00 187.50,206.00 187.50,208.00 190.00,208.00 190.00,210.33 192.50,210.33 192.50,212.67 195.00,212.67 195.00,215.00 197.90,215.00 197.90,216.67 200.80,216.67 200.80,218.33 203.70,218.33 203.70,220.00 205.80,220.00 205.80,220.83 207.90,220.83 207.90,221.67 210.00,221.67 210.00,222.50 227.50,222.70 229.50,228.00 232.00,230.00 233.70,234.50" stroke="#e8685f" stroke-width="1.5" fill="none" />
<polyline points="169.50,182.40 170.33,182.40 170.33,183.60 171.17,183.60 171.17,184.80 172.00,184.80 172.00,186.00 173.00,186.00 173.00,188.50 174.00,188.50 174.00,191.00 175.00,191.00 175.00,193.50 176.23,193.50 176.23,195.17 177.47,195.17 177.47,196.83 178.70,196.83 178.70,198.50 180.80,198.50 180.80,199.23 182.90,199.23 182.90,199.97 185.00,199.97 185.00,200.70 186.67,200.70 186.67,201.13 188.33,201.13 188.33,201.57 190.00,201.57 190.00,202.00 190.83,202.00 190.83,202.57 191.67,202.57 191.67,203.13 192.50,203.13 192.50,203.70 194.17,203.70 194.17,204.47 195.83,204.47 195.83,205.23 197.50,205.23 197.50,206.00 199.57,206.00 199.57,206.50 201.63,206.50 201.63,207.00 203.70,207.00 203.70,207.50 204.13,207.50 204.13,209.53 204.57,209.53 204.57,211.57 205.00,211.57 205.00,213.60 228.70,213.60 228.70,219.30 248.70,219.30 248.70,235.00" stroke="#26b0ad" stroke-width="1.5" fill="none" />
<polyline points="169.50,182.40 172.00,186.00 174.00,190.50 176.00,195.00" stroke="#7a8482" stroke-width="1.9" fill="none" />
<line x1="168.00" y1="208.60" x2="204.00" y2="208.60" stroke="#000" stroke-width="1.0" stroke-dasharray="3.2,2.2"/>
<line x1="187.20" y1="209.50" x2="187.20" y2="235.00" stroke="#000" stroke-width="1.0" stroke-dasharray="4,3.5"/>
<line x1="202.90" y1="209.50" x2="202.90" y2="235.00" stroke="#000" stroke-width="1.0" stroke-dasharray="4,3.5"/>
<text x="171.50" y="226.30" font-size="5.1" text-anchor="start" font-weight="normal" fill="#222" stroke="#222" stroke-width="0.08" >p = 0.0055</text>
<rect x="237.00" y="191.70" width="4.00" height="2.50" fill="#e38a85" />
<text x="243.80" y="193.80" font-size="2.3" text-anchor="start" font-weight="normal" fill="#555" stroke="#555" stroke-width="0.08" >H-TMB</text>
<rect x="237.00" y="197.40" width="4.00" height="2.50" fill="#4bb5b2" />
<text x="243.80" y="199.50" font-size="2.3" text-anchor="start" font-weight="normal" fill="#555" stroke="#555" stroke-width="0.08" >L-TMB</text>
<text x="165.50" y="254.80" font-size="4.85" text-anchor="start" font-weight="normal" fill="#111" stroke="#111" stroke-width="0.08" >Number at risk</text>
<line x1="165.60" y1="258.50" x2="165.60" y2="273.50" stroke="#000" stroke-width="0.7" />
<line x1="165.60" y1="273.50" x2="259.50" y2="273.50" stroke="#000" stroke-width="0.7" />
<line x1="164.60" y1="262.00" x2="165.60" y2="262.00" stroke="#000" stroke-width="0.5" stroke="#e8685f"/>
<line x1="164.60" y1="269.00" x2="165.60" y2="269.00" stroke="#000" stroke-width="0.5" />
<text x="163.30" y="263.20" font-size="3.8" text-anchor="end" font-weight="normal" fill="#eebcb8" >H-TMB</text>
<text x="163.30" y="270.90" font-size="3.8" text-anchor="end" font-weight="normal" fill="#b4dcda" >L-TMB</text>
<text x="169.50" y="263.60" font-size="3.7" text-anchor="middle" font-weight="normal" fill="#222" stroke="#222" stroke-width="0.08" >328</text>
<text x="169.50" y="270.60" font-size="3.7" text-anchor="middle" font-weight="normal" fill="#222" stroke="#222" stroke-width="0.08" >171</text>
<line x1="169.50" y1="273.20" x2="169.50" y2="274.20" stroke="#000" stroke-width="0.5" />
<text x="169.50" y="277.70" font-size="3.2" text-anchor="middle" font-weight="normal" fill="#333" stroke="#333" stroke-width="0.08" >0</text>
<text x="178.50" y="263.60" font-size="3.7" text-anchor="middle" font-weight="normal" fill="#222" stroke="#222" stroke-width="0.08" >165</text>
<text x="178.50" y="270.60" font-size="3.7" text-anchor="middle" font-weight="normal" fill="#222" stroke="#222" stroke-width="0.08" >67</text>
<line x1="178.50" y1="273.20" x2="178.50" y2="274.20" stroke="#000" stroke-width="0.5" />
<text x="178.50" y="277.70" font-size="3.2" text-anchor="middle" font-weight="normal" fill="#333" stroke="#333" stroke-width="0.08" >2</text>
<text x="187.50" y="263.60" font-size="3.7" text-anchor="middle" font-weight="normal" fill="#222" stroke="#222" stroke-width="0.08" >57</text>
<text x="187.50" y="270.60" font-size="3.7" text-anchor="middle" font-weight="normal" fill="#222" stroke="#222" stroke-width="0.08" >55</text>
<line x1="187.50" y1="273.20" x2="187.50" y2="274.20" stroke="#000" stroke-width="0.5" />
<text x="187.50" y="277.70" font-size="3.2" text-anchor="middle" font-weight="normal" fill="#333" stroke="#333" stroke-width="0.08" >4</text>
<text x="196.50" y="263.60" font-size="3.7" text-anchor="middle" font-weight="normal" fill="#222" stroke="#222" stroke-width="0.08" >22</text>
<text x="196.50" y="270.60" font-size="3.7" text-anchor="middle" font-weight="normal" fill="#222" stroke="#222" stroke-width="0.08" >12</text>
<line x1="196.50" y1="273.20" x2="196.50" y2="274.20" stroke="#000" stroke-width="0.5" />
<text x="196.50" y="277.70" font-size="3.2" text-anchor="middle" font-weight="normal" fill="#333" stroke="#333" stroke-width="0.08" >6</text>
<text x="205.50" y="263.60" font-size="3.7" text-anchor="middle" font-weight="normal" fill="#222" stroke="#222" stroke-width="0.08" >10</text>
<text x="205.50" y="270.60" font-size="3.7" text-anchor="middle" font-weight="normal" fill="#222" stroke="#222" stroke-width="0.08" >6</text>
<line x1="205.50" y1="273.20" x2="205.50" y2="274.20" stroke="#000" stroke-width="0.5" />
<text x="205.50" y="277.70" font-size="3.2" text-anchor="middle" font-weight="normal" fill="#333" stroke="#333" stroke-width="0.08" >8</text>
<text x="214.50" y="263.60" font-size="3.7" text-anchor="middle" font-weight="normal" fill="#222" stroke="#222" stroke-width="0.08" >6</text>
<text x="214.50" y="270.60" font-size="3.7" text-anchor="middle" font-weight="normal" fill="#222" stroke="#222" stroke-width="0.08" >5</text>
<line x1="214.50" y1="273.20" x2="214.50" y2="274.20" stroke="#000" stroke-width="0.5" />
<text x="214.50" y="277.70" font-size="3.2" text-anchor="middle" font-weight="normal" fill="#333" stroke="#333" stroke-width="0.08" >10</text>
<text x="223.50" y="263.60" font-size="3.7" text-anchor="middle" font-weight="normal" fill="#222" stroke="#222" stroke-width="0.08" >3</text>
<text x="223.50" y="270.60" font-size="3.7" text-anchor="middle" font-weight="normal" fill="#222" stroke="#222" stroke-width="0.08" >4</text>
<line x1="223.50" y1="273.20" x2="223.50" y2="274.20" stroke="#000" stroke-width="0.5" />
<text x="223.50" y="277.70" font-size="3.2" text-anchor="middle" font-weight="normal" fill="#333" stroke="#333" stroke-width="0.08" >12</text>
<text x="232.50" y="263.60" font-size="3.7" text-anchor="middle" font-weight="normal" fill="#222" stroke="#222" stroke-width="0.08" >1</text>
<text x="232.50" y="270.60" font-size="3.7" text-anchor="middle" font-weight="normal" fill="#222" stroke="#222" stroke-width="0.08" >2</text>
<line x1="232.50" y1="273.20" x2="232.50" y2="274.20" stroke="#000" stroke-width="0.5" />
<text x="232.50" y="277.70" font-size="3.2" text-anchor="middle" font-weight="normal" fill="#333" stroke="#333" stroke-width="0.08" >14</text>
<text x="241.50" y="263.60" font-size="3.7" text-anchor="middle" font-weight="normal" fill="#222" stroke="#222" stroke-width="0.08" >0</text>
<text x="241.50" y="270.60" font-size="3.7" text-anchor="middle" font-weight="normal" fill="#222" stroke="#222" stroke-width="0.08" >1</text>
<line x1="241.50" y1="273.20" x2="241.50" y2="274.20" stroke="#000" stroke-width="0.5" />
<text x="241.50" y="277.70" font-size="3.2" text-anchor="middle" font-weight="normal" fill="#333" stroke="#333" stroke-width="0.08" >16</text>
<text x="250.50" y="263.60" font-size="3.7" text-anchor="middle" font-weight="normal" fill="#222" stroke="#222" stroke-width="0.08" >0</text>
<text x="250.50" y="270.60" font-size="3.7" text-anchor="middle" font-weight="normal" fill="#222" stroke="#222" stroke-width="0.08" >0</text>
<line x1="250.50" y1="273.20" x2="250.50" y2="274.20" stroke="#000" stroke-width="0.5" />
<text x="250.50" y="277.70" font-size="3.2" text-anchor="middle" font-weight="normal" fill="#333" stroke="#333" stroke-width="0.08" >18</text>
<text x="259.50" y="263.60" font-size="3.7" text-anchor="middle" font-weight="normal" fill="#222" stroke="#222" stroke-width="0.08" >0</text>
<text x="259.50" y="270.60" font-size="3.7" text-anchor="middle" font-weight="normal" fill="#222" stroke="#222" stroke-width="0.08" >0</text>
<line x1="259.50" y1="273.20" x2="259.50" y2="274.20" stroke="#000" stroke-width="0.5" />
<text x="259.50" y="277.70" font-size="3.2" text-anchor="middle" font-weight="normal" fill="#333" stroke="#333" stroke-width="0.08" >20</text>
<text x="214.50" y="281.30" font-size="4.2" text-anchor="middle" font-weight="normal" fill="#222" stroke="#222" stroke-width="0.08" >Time(years)</text>
<text x="165.50" y="291.00" font-size="4.85" text-anchor="start" font-weight="normal" fill="#111" stroke="#111" stroke-width="0.08" >Number of censoring</text>
<line x1="166.70" y1="293.30" x2="166.70" y2="309.40" stroke="#000" stroke-width="0.7" />
<line x1="166.70" y1="309.40" x2="259.50" y2="309.40" stroke="#000" stroke-width="0.7" />
<text x="165.80" y="310.50" font-size="3.2" text-anchor="end" font-weight="normal" fill="#333" stroke="#333" stroke-width="0.08" >0</text>
<text x="165.80" y="305.40" font-size="3.2" text-anchor="end" font-weight="normal" fill="#333" stroke="#333" stroke-width="0.08" >1</text>
<text x="165.80" y="300.30" font-size="3.2" text-anchor="end" font-weight="normal" fill="#333" stroke="#333" stroke-width="0.08" >2</text>
<text x="165.80" y="295.20" font-size="3.2" text-anchor="end" font-weight="normal" fill="#333" stroke="#333" stroke-width="0.08" >3</text>
<rect x="169.20" y="304.30" width="36.00" height="5.10" fill="#30b5ad" />
<rect x="196.70" y="304.30" width="3.80" height="5.10" fill="#8fa0a8" />
<rect x="171.30" y="299.20" width="1.80" height="10.20" fill="#26b0ad" />
<rect x="176.50" y="299.20" width="1.80" height="10.20" fill="#26b0ad" />
<rect x="173.60" y="294.10" width="1.80" height="15.30" fill="#e88080" />
<rect x="177.80" y="294.10" width="1.80" height="15.30" fill="#e88080" />
<rect x="188.60" y="299.20" width="1.80" height="10.20" fill="#e88080" />
<rect x="209.10" y="304.30" width="1.80" height="5.10" fill="#e88080" />
<rect x="216.90" y="304.30" width="1.80" height="5.10" fill="#26b0ad" />
<rect x="219.10" y="304.30" width="1.80" height="5.10" fill="#26b0ad" />
<rect x="220.90" y="304.30" width="1.80" height="5.10" fill="#e88080" />
<rect x="232.90" y="304.30" width="1.80" height="5.10" fill="#26b0ad" />
<rect x="235.70" y="304.30" width="1.80" height="5.10" fill="#26b0ad" />
<line x1="169.50" y1="309.40" x2="169.50" y2="310.40" stroke="#000" stroke-width="0.5" />
<text x="169.50" y="314.00" font-size="3.2" text-anchor="middle" font-weight="normal" fill="#333" stroke="#333" stroke-width="0.08" >0</text>
<line x1="178.50" y1="309.40" x2="178.50" y2="310.40" stroke="#000" stroke-width="0.5" />
<text x="178.50" y="314.00" font-size="3.2" text-anchor="middle" font-weight="normal" fill="#333" stroke="#333" stroke-width="0.08" >2</text>
<line x1="187.50" y1="309.40" x2="187.50" y2="310.40" stroke="#000" stroke-width="0.5" />
<text x="187.50" y="314.00" font-size="3.2" text-anchor="middle" font-weight="normal" fill="#333" stroke="#333" stroke-width="0.08" >4</text>
<line x1="196.50" y1="309.40" x2="196.50" y2="310.40" stroke="#000" stroke-width="0.5" />
<text x="196.50" y="314.00" font-size="3.2" text-anchor="middle" font-weight="normal" fill="#333" stroke="#333" stroke-width="0.08" >6</text>
<line x1="205.50" y1="309.40" x2="205.50" y2="310.40" stroke="#000" stroke-width="0.5" />
<text x="205.50" y="314.00" font-size="3.2" text-anchor="middle" font-weight="normal" fill="#333" stroke="#333" stroke-width="0.08" >8</text>
<line x1="214.50" y1="309.40" x2="214.50" y2="310.40" stroke="#000" stroke-width="0.5" />
<text x="214.50" y="314.00" font-size="3.2" text-anchor="middle" font-weight="normal" fill="#333" stroke="#333" stroke-width="0.08" >10</text>
<line x1="223.50" y1="309.40" x2="223.50" y2="310.40" stroke="#000" stroke-width="0.5" />
<text x="223.50" y="314.00" font-size="3.2" text-anchor="middle" font-weight="normal" fill="#333" stroke="#333" stroke-width="0.08" >12</text>
<line x1="232.50" y1="309.40" x2="232.50" y2="310.40" stroke="#000" stroke-width="0.5" />
<text x="232.50" y="314.00" font-size="3.2" text-anchor="middle" font-weight="normal" fill="#333" stroke="#333" stroke-width="0.08" >14</text>
<line x1="241.50" y1="309.40" x2="241.50" y2="310.40" stroke="#000" stroke-width="0.5" />
<text x="241.50" y="314.00" font-size="3.2" text-anchor="middle" font-weight="normal" fill="#333" stroke="#333" stroke-width="0.08" >16</text>
<line x1="250.50" y1="309.40" x2="250.50" y2="310.40" stroke="#000" stroke-width="0.5" />
<text x="250.50" y="314.00" font-size="3.2" text-anchor="middle" font-weight="normal" fill="#333" stroke="#333" stroke-width="0.08" >18</text>
<line x1="259.50" y1="309.40" x2="259.50" y2="310.40" stroke="#000" stroke-width="0.5" />
<text x="259.50" y="314.00" font-size="3.2" text-anchor="middle" font-weight="normal" fill="#333" stroke="#333" stroke-width="0.08" >20</text>
<text x="214.50" y="318.20" font-size="4.2" text-anchor="middle" font-weight="normal" fill="#222" stroke="#222" stroke-width="0.08" >Time(years)</text>
<text x="150.00" y="300.50" font-size="3.2" text-anchor="middle" font-weight="normal" fill="#333" stroke="#333" stroke-width="0.08" transform="rotate(-90 150 300.5)">n.censor</text>
<line x1="316.60" y1="179.50" x2="316.60" y2="238.15" stroke="#000" stroke-width="0.8" />
<line x1="316.25" y1="237.80" x2="395.90" y2="237.80" stroke="#000" stroke-width="0.8" />
<line x1="315.60" y1="182.30" x2="316.60" y2="182.30" stroke="#000" stroke-width="0.6" />
<text x="315.60" y="183.65" font-size="3.8" text-anchor="end" font-weight="normal" fill="#333" stroke="#333" stroke-width="0.08" >1.00</text>
<line x1="315.60" y1="195.45" x2="316.60" y2="195.45" stroke="#000" stroke-width="0.6" />
<text x="315.60" y="196.80" font-size="3.8" text-anchor="end" font-weight="normal" fill="#333" stroke="#333" stroke-width="0.08" >0.75</text>
<line x1="315.60" y1="208.60" x2="316.60" y2="208.60" stroke="#000" stroke-width="0.6" />
<text x="315.60" y="209.95" font-size="3.8" text-anchor="end" font-weight="normal" fill="#333" stroke="#333" stroke-width="0.08" >0.50</text>
<line x1="315.60" y1="221.75" x2="316.60" y2="221.75" stroke="#000" stroke-width="0.6" />
<text x="315.60" y="223.10" font-size="3.8" text-anchor="end" font-weight="normal" fill="#333" stroke="#333" stroke-width="0.08" >0.25</text>
<line x1="315.60" y1="234.90" x2="316.60" y2="234.90" stroke="#000" stroke-width="0.6" />
<text x="315.60" y="236.25" font-size="3.8" text-anchor="end" font-weight="normal" fill="#333" stroke="#333" stroke-width="0.08" >0.00</text>
<line x1="319.80" y1="237.80" x2="319.80" y2="239.00" stroke="#000" stroke-width="0.7" />
<text x="319.80" y="242.40" font-size="3.0" text-anchor="middle" font-weight="normal" fill="#333" stroke="#333" stroke-width="0.08" >0</text>
<line x1="327.36" y1="237.80" x2="327.36" y2="239.00" stroke="#000" stroke-width="0.7" />
<text x="327.36" y="242.40" font-size="3.0" text-anchor="middle" font-weight="normal" fill="#333" stroke="#333" stroke-width="0.08" >2</text>
<line x1="334.92" y1="237.80" x2="334.92" y2="239.00" stroke="#000" stroke-width="0.7" />
<text x="334.92" y="242.40" font-size="3.0" text-anchor="middle" font-weight="normal" fill="#333" stroke="#333" stroke-width="0.08" >4</text>
<line x1="342.48" y1="237.80" x2="342.48" y2="239.00" stroke="#000" stroke-width="0.7" />
<text x="342.48" y="242.40" font-size="3.0" text-anchor="middle" font-weight="normal" fill="#333" stroke="#333" stroke-width="0.08" >6</text>
<line x1="350.04" y1="237.80" x2="350.04" y2="239.00" stroke="#000" stroke-width="0.7" />
<text x="350.04" y="242.40" font-size="3.0" text-anchor="middle" font-weight="normal" fill="#333" stroke="#333" stroke-width="0.08" >8</text>
<line x1="357.60" y1="237.80" x2="357.60" y2="239.00" stroke="#000" stroke-width="0.7" />
<text x="357.60" y="242.40" font-size="3.0" text-anchor="middle" font-weight="normal" fill="#333" stroke="#333" stroke-width="0.08" >10</text>
<line x1="365.16" y1="237.80" x2="365.16" y2="239.00" stroke="#000" stroke-width="0.7" />
<text x="365.16" y="242.40" font-size="3.0" text-anchor="middle" font-weight="normal" fill="#333" stroke="#333" stroke-width="0.08" >12</text>
<line x1="372.72" y1="237.80" x2="372.72" y2="239.00" stroke="#000" stroke-width="0.7" />
<text x="372.72" y="242.40" font-size="3.0" text-anchor="middle" font-weight="normal" fill="#333" stroke="#333" stroke-width="0.08" >14</text>
<line x1="380.28" y1="237.80" x2="380.28" y2="239.00" stroke="#000" stroke-width="0.7" />
<text x="380.28" y="242.40" font-size="3.0" text-anchor="middle" font-weight="normal" fill="#333" stroke="#333" stroke-width="0.08" >16</text>
<line x1="387.84" y1="237.80" x2="387.84" y2="239.00" stroke="#000" stroke-width="0.7" />
<text x="387.84" y="242.40" font-size="3.0" text-anchor="middle" font-weight="normal" fill="#333" stroke="#333" stroke-width="0.08" >18</text>
<line x1="395.40" y1="237.80" x2="395.40" y2="239.00" stroke="#000" stroke-width="0.7" />
<text x="395.40" y="242.40" font-size="3.0" text-anchor="middle" font-weight="normal" fill="#333" stroke="#333" stroke-width="0.08" >20</text>
<text x="357.60" y="247.50" font-size="4.2" text-anchor="middle" font-weight="normal" fill="#222" stroke="#222" stroke-width="0.08" >Time(years)</text>
<text x="282.50" y="207.50" font-size="4.4" text-anchor="middle" font-weight="normal" fill="#222" stroke="#222" stroke-width="0.15" transform="rotate(-90 282.5 207.5)">Survival probability</text>
<polyline points="320.20,182.40 320.80,186.00 321.50,194.00 322.30,201.00 323.00,208.00 324.00,215.00 325.00,221.00 326.00,226.00 327.00,230.00 328.50,233.50 330.00,234.60" stroke="#5ab8c8" stroke-width="0.9" fill="none" />
<polyline points="320.20,182.40 321.50,188.00 322.50,196.00 323.50,204.00 324.50,212.00 325.50,218.00 326.50,224.00 328.00,229.00 330.00,232.50 332.00,234.60" stroke="#e7837a" stroke-width="0.8" fill="none" stroke-opacity="0.8"/>
<polyline points="320.20,182.40 322.63,182.40 322.63,182.47 325.07,182.47 325.07,182.53 327.50,182.53 327.50,182.60 329.17,182.60 329.17,184.23 330.83,184.23 330.83,185.87 332.50,185.87 332.50,187.50 333.73,187.50 333.73,190.00 334.97,190.00 334.97,192.50 336.20,192.50 336.20,195.00 337.47,195.00 337.47,196.67 338.73,196.67 338.73,198.33 340.00,198.33 340.00,200.00 341.00,200.00 341.00,201.17 342.00,201.17 342.00,202.33 343.00,202.33 343.00,203.50 344.33,203.50 344.33,205.00 345.67,205.00 345.67,206.50 347.00,206.50 347.00,208.00 348.00,208.00 348.00,209.33 349.00,209.33 349.00,210.67 350.00,210.67 350.00,212.00 351.00,212.00 351.00,212.67 352.00,212.67 352.00,213.33 353.00,213.33 353.00,214.00 354.00,214.00 354.00,214.93 355.00,214.93 355.00,215.87 356.00,215.87 356.00,216.80 369.00,217.00 369.00,229.50 373.30,229.50 373.30,234.60" stroke="#7cb82f" stroke-width="1.25" fill="none" />
<polyline points="320.20,182.40 326.10,182.40 326.10,182.50 332.00,182.50 332.00,182.60 334.00,182.60 334.00,183.80 336.00,183.80 336.00,185.00 338.00,185.00 338.00,187.25 340.00,187.25 340.00,189.50 343.75,189.50 343.75,191.75 347.50,191.75 347.50,194.00 348.40,194.00 348.40,195.75 349.30,195.75 349.30,197.50 350.25,197.50 350.25,200.90 351.20,200.90 351.20,204.30 370.80,204.30 370.80,212.00 386.70,212.00 386.70,234.60" stroke="#9f88c8" stroke-width="1.15" fill="none" />
<line x1="319.00" y1="208.60" x2="371.00" y2="208.60" stroke="#000" stroke-width="1.0" stroke-dasharray="3.2,2.2"/>
<line x1="323.20" y1="209.50" x2="323.20" y2="235.00" stroke="#000" stroke-width="1.0" stroke-dasharray="4,3.5"/>
<line x1="346.40" y1="209.50" x2="346.40" y2="235.00" stroke="#000" stroke-width="1.0" stroke-dasharray="4,3.5"/>
<line x1="370.30" y1="209.50" x2="370.30" y2="235.00" stroke="#000" stroke-width="1.0" stroke-dasharray="4,3.5"/>
<text x="321.50" y="226.30" font-size="5.1" text-anchor="start" font-weight="normal" fill="#222" stroke="#222" stroke-width="0.08" >p &lt; 0.0001</text>
<rect x="370.40" y="186.70" width="4.30" height="2.40" fill="#e7837a" fill-opacity="0.75"/>
<text x="376.50" y="188.80" font-size="2.6" text-anchor="start" font-weight="normal" fill="#555" stroke="#555" stroke-width="0.08" >H-TMB+high risk</text>
<rect x="370.40" y="192.20" width="4.30" height="2.40" fill="#7cb82f" fill-opacity="0.75"/>
<text x="376.50" y="194.30" font-size="2.6" text-anchor="start" font-weight="normal" fill="#555" stroke="#555" stroke-width="0.08" >H-TMB+low risk</text>
<rect x="370.40" y="197.70" width="4.30" height="2.40" fill="#5ab8c8" fill-opacity="0.75"/>
<text x="376.50" y="199.80" font-size="2.6" text-anchor="start" font-weight="normal" fill="#555" stroke="#555" stroke-width="0.08" >L-TMB+high risk</text>
<rect x="370.40" y="203.20" width="4.30" height="2.40" fill="#9f88c8" fill-opacity="0.75"/>
<text x="376.50" y="205.30" font-size="2.6" text-anchor="start" font-weight="normal" fill="#555" stroke="#555" stroke-width="0.08" >L-TMB+low risk</text>
<text x="316.70" y="254.80" font-size="4.85" text-anchor="start" font-weight="normal" fill="#111" stroke="#111" stroke-width="0.08" >Number at risk</text>
<line x1="317.20" y1="257.50" x2="317.20" y2="274.00" stroke="#000" stroke-width="0.7" />
<line x1="317.20" y1="274.00" x2="396.00" y2="274.00" stroke="#000" stroke-width="0.7" />
<text x="315.60" y="261.10" font-size="3.9" text-anchor="end" font-weight="normal" fill="#f0a898" >H-TMB+high risk</text>
<text x="319.80" y="261.05" font-size="3.3" text-anchor="middle" font-weight="normal" fill="#222" stroke="#222" stroke-width="0.08" >118</text>
<text x="327.36" y="261.05" font-size="3.3" text-anchor="middle" font-weight="normal" fill="#222" stroke="#222" stroke-width="0.08" >8</text>
<text x="334.92" y="261.05" font-size="3.3" text-anchor="middle" font-weight="normal" fill="#222" stroke="#222" stroke-width="0.08" >0</text>
<text x="342.48" y="261.05" font-size="3.3" text-anchor="middle" font-weight="normal" fill="#222" stroke="#222" stroke-width="0.08" >0</text>
<text x="350.04" y="261.05" font-size="3.3" text-anchor="middle" font-weight="normal" fill="#222" stroke="#222" stroke-width="0.08" >0</text>
<text x="357.60" y="261.05" font-size="3.3" text-anchor="middle" font-weight="normal" fill="#222" stroke="#222" stroke-width="0.08" >0</text>
<text x="365.16" y="261.05" font-size="3.3" text-anchor="middle" font-weight="normal" fill="#222" stroke="#222" stroke-width="0.08" >0</text>
<text x="372.72" y="261.05" font-size="3.3" text-anchor="middle" font-weight="normal" fill="#222" stroke="#222" stroke-width="0.08" >0</text>
<text x="380.28" y="261.05" font-size="3.3" text-anchor="middle" font-weight="normal" fill="#222" stroke="#222" stroke-width="0.08" >0</text>
<text x="387.84" y="261.05" font-size="3.3" text-anchor="middle" font-weight="normal" fill="#222" stroke="#222" stroke-width="0.08" >0</text>
<text x="395.40" y="261.05" font-size="3.3" text-anchor="middle" font-weight="normal" fill="#222" stroke="#222" stroke-width="0.08" >0</text>
<text x="315.60" y="264.90" font-size="3.9" text-anchor="end" font-weight="normal" fill="#b0d080" >H-TMB+low risk</text>
<text x="319.80" y="264.85" font-size="3.3" text-anchor="middle" font-weight="normal" fill="#222" stroke="#222" stroke-width="0.08" >210</text>
<text x="327.36" y="264.85" font-size="3.3" text-anchor="middle" font-weight="normal" fill="#222" stroke="#222" stroke-width="0.08" >142</text>
<text x="334.92" y="264.85" font-size="3.3" text-anchor="middle" font-weight="normal" fill="#222" stroke="#222" stroke-width="0.08" >57</text>
<text x="342.48" y="264.85" font-size="3.3" text-anchor="middle" font-weight="normal" fill="#222" stroke="#222" stroke-width="0.08" >22</text>
<text x="350.04" y="264.85" font-size="3.3" text-anchor="middle" font-weight="normal" fill="#222" stroke="#222" stroke-width="0.08" >10</text>
<text x="357.60" y="264.85" font-size="3.3" text-anchor="middle" font-weight="normal" fill="#222" stroke="#222" stroke-width="0.08" >6</text>
<text x="365.16" y="264.85" font-size="3.3" text-anchor="middle" font-weight="normal" fill="#222" stroke="#222" stroke-width="0.08" >3</text>
<text x="372.72" y="264.85" font-size="3.3" text-anchor="middle" font-weight="normal" fill="#222" stroke="#222" stroke-width="0.08" >1</text>
<text x="380.28" y="264.85" font-size="3.3" text-anchor="middle" font-weight="normal" fill="#222" stroke="#222" stroke-width="0.08" >0</text>
<text x="387.84" y="264.85" font-size="3.3" text-anchor="middle" font-weight="normal" fill="#222" stroke="#222" stroke-width="0.08" >0</text>
<text x="395.40" y="264.85" font-size="3.3" text-anchor="middle" font-weight="normal" fill="#222" stroke="#222" stroke-width="0.08" >0</text>
<text x="315.60" y="268.70" font-size="3.9" text-anchor="end" font-weight="normal" fill="#90d0e0" >L-TMB+high risk</text>
<text x="319.80" y="268.65" font-size="3.3" text-anchor="middle" font-weight="normal" fill="#222" stroke="#222" stroke-width="0.08" >49</text>
<text x="327.36" y="268.65" font-size="3.3" text-anchor="middle" font-weight="normal" fill="#222" stroke="#222" stroke-width="0.08" >1</text>
<text x="334.92" y="268.65" font-size="3.3" text-anchor="middle" font-weight="normal" fill="#222" stroke="#222" stroke-width="0.08" >0</text>
<text x="342.48" y="268.65" font-size="3.3" text-anchor="middle" font-weight="normal" fill="#222" stroke="#222" stroke-width="0.08" >0</text>
<text x="350.04" y="268.65" font-size="3.3" text-anchor="middle" font-weight="normal" fill="#222" stroke="#222" stroke-width="0.08" >0</text>
<text x="357.60" y="268.65" font-size="3.3" text-anchor="middle" font-weight="normal" fill="#222" stroke="#222" stroke-width="0.08" >0</text>
<text x="365.16" y="268.65" font-size="3.3" text-anchor="middle" font-weight="normal" fill="#222" stroke="#222" stroke-width="0.08" >0</text>
<text x="372.72" y="268.65" font-size="3.3" text-anchor="middle" font-weight="normal" fill="#222" stroke="#222" stroke-width="0.08" >0</text>
<text x="380.28" y="268.65" font-size="3.3" text-anchor="middle" font-weight="normal" fill="#222" stroke="#222" stroke-width="0.08" >0</text>
<text x="387.84" y="268.65" font-size="3.3" text-anchor="middle" font-weight="normal" fill="#222" stroke="#222" stroke-width="0.08" >0</text>
<text x="395.40" y="268.65" font-size="3.3" text-anchor="middle" font-weight="normal" fill="#222" stroke="#222" stroke-width="0.08" >0</text>
<text x="315.60" y="272.50" font-size="3.9" text-anchor="end" font-weight="normal" fill="#b8a0d8" >L-TMB+low risk</text>
<text x="319.80" y="272.45" font-size="3.3" text-anchor="middle" font-weight="normal" fill="#222" stroke="#222" stroke-width="0.08" >122</text>
<text x="327.36" y="272.45" font-size="3.3" text-anchor="middle" font-weight="normal" fill="#222" stroke="#222" stroke-width="0.08" >66</text>
<text x="334.92" y="272.45" font-size="3.3" text-anchor="middle" font-weight="normal" fill="#222" stroke="#222" stroke-width="0.08" >55</text>
<text x="342.48" y="272.45" font-size="3.3" text-anchor="middle" font-weight="normal" fill="#222" stroke="#222" stroke-width="0.08" >12</text>
<text x="350.04" y="272.45" font-size="3.3" text-anchor="middle" font-weight="normal" fill="#222" stroke="#222" stroke-width="0.08" >6</text>
<text x="357.60" y="272.45" font-size="3.3" text-anchor="middle" font-weight="normal" fill="#222" stroke="#222" stroke-width="0.08" >5</text>
<text x="365.16" y="272.45" font-size="3.3" text-anchor="middle" font-weight="normal" fill="#222" stroke="#222" stroke-width="0.08" >4</text>
<text x="372.72" y="272.45" font-size="3.3" text-anchor="middle" font-weight="normal" fill="#222" stroke="#222" stroke-width="0.08" >2</text>
<text x="380.28" y="272.45" font-size="3.3" text-anchor="middle" font-weight="normal" fill="#222" stroke="#222" stroke-width="0.08" >1</text>
<text x="387.84" y="272.45" font-size="3.3" text-anchor="middle" font-weight="normal" fill="#222" stroke="#222" stroke-width="0.08" >0</text>
<text x="395.40" y="272.45" font-size="3.3" text-anchor="middle" font-weight="normal" fill="#222" stroke="#222" stroke-width="0.08" >0</text>
<line x1="319.80" y1="274.00" x2="319.80" y2="275.00" stroke="#000" stroke-width="0.5" />
<text x="319.80" y="278.40" font-size="3.2" text-anchor="middle" font-weight="normal" fill="#333" stroke="#333" stroke-width="0.08" >0</text>
<line x1="327.36" y1="274.00" x2="327.36" y2="275.00" stroke="#000" stroke-width="0.5" />
<text x="327.36" y="278.40" font-size="3.2" text-anchor="middle" font-weight="normal" fill="#333" stroke="#333" stroke-width="0.08" >2</text>
<line x1="334.92" y1="274.00" x2="334.92" y2="275.00" stroke="#000" stroke-width="0.5" />
<text x="334.92" y="278.40" font-size="3.2" text-anchor="middle" font-weight="normal" fill="#333" stroke="#333" stroke-width="0.08" >4</text>
<line x1="342.48" y1="274.00" x2="342.48" y2="275.00" stroke="#000" stroke-width="0.5" />
<text x="342.48" y="278.40" font-size="3.2" text-anchor="middle" font-weight="normal" fill="#333" stroke="#333" stroke-width="0.08" >6</text>
<line x1="350.04" y1="274.00" x2="350.04" y2="275.00" stroke="#000" stroke-width="0.5" />
<text x="350.04" y="278.40" font-size="3.2" text-anchor="middle" font-weight="normal" fill="#333" stroke="#333" stroke-width="0.08" >8</text>
<line x1="357.60" y1="274.00" x2="357.60" y2="275.00" stroke="#000" stroke-width="0.5" />
<text x="357.60" y="278.40" font-size="3.2" text-anchor="middle" font-weight="normal" fill="#333" stroke="#333" stroke-width="0.08" >10</text>
<line x1="365.16" y1="274.00" x2="365.16" y2="275.00" stroke="#000" stroke-width="0.5" />
<text x="365.16" y="278.40" font-size="3.2" text-anchor="middle" font-weight="normal" fill="#333" stroke="#333" stroke-width="0.08" >12</text>
<line x1="372.72" y1="274.00" x2="372.72" y2="275.00" stroke="#000" stroke-width="0.5" />
<text x="372.72" y="278.40" font-size="3.2" text-anchor="middle" font-weight="normal" fill="#333" stroke="#333" stroke-width="0.08" >14</text>
<line x1="380.28" y1="274.00" x2="380.28" y2="275.00" stroke="#000" stroke-width="0.5" />
<text x="380.28" y="278.40" font-size="3.2" text-anchor="middle" font-weight="normal" fill="#333" stroke="#333" stroke-width="0.08" >16</text>
<line x1="387.84" y1="274.00" x2="387.84" y2="275.00" stroke="#000" stroke-width="0.5" />
<text x="387.84" y="278.40" font-size="3.2" text-anchor="middle" font-weight="normal" fill="#333" stroke="#333" stroke-width="0.08" >18</text>
<line x1="395.40" y1="274.00" x2="395.40" y2="275.00" stroke="#000" stroke-width="0.5" />
<text x="395.40" y="278.40" font-size="3.2" text-anchor="middle" font-weight="normal" fill="#333" stroke="#333" stroke-width="0.08" >20</text>
<text x="357.60" y="283.30" font-size="4.2" text-anchor="middle" font-weight="normal" fill="#222" stroke="#222" stroke-width="0.08" >Time(years)</text>
<text x="316.70" y="291.20" font-size="4.85" text-anchor="start" font-weight="normal" fill="#111" stroke="#111" stroke-width="0.08" >Number of censoring</text>
<line x1="317.50" y1="294.50" x2="317.50" y2="309.90" stroke="#000" stroke-width="0.7" />
<line x1="317.50" y1="309.90" x2="396.00" y2="309.90" stroke="#000" stroke-width="0.7" />
<text x="316.60" y="311.00" font-size="3.2" text-anchor="end" font-weight="normal" fill="#333" stroke="#333" stroke-width="0.08" >0</text>
<text x="316.60" y="305.80" font-size="3.2" text-anchor="end" font-weight="normal" fill="#333" stroke="#333" stroke-width="0.08" >1</text>
<text x="316.60" y="300.60" font-size="3.2" text-anchor="end" font-weight="normal" fill="#333" stroke="#333" stroke-width="0.08" >2</text>
<text x="316.60" y="295.40" font-size="3.2" text-anchor="end" font-weight="normal" fill="#333" stroke="#333" stroke-width="0.08" >3</text>
<rect x="320.00" y="304.70" width="31.00" height="5.20" fill="#9f88c8" />
<rect x="321.95" y="299.50" width="1.60" height="10.40" fill="#a0b060" />
<rect x="323.50" y="294.30" width="1.60" height="15.60" fill="#90a850" />
<rect x="326.50" y="294.30" width="1.60" height="15.60" fill="#90a850" />
<rect x="336.20" y="299.50" width="1.60" height="10.40" fill="#7cb82f" />
<rect x="344.40" y="304.70" width="1.60" height="5.20" fill="#a0a050" />
<rect x="352.70" y="304.70" width="1.60" height="5.20" fill="#7cb82f" />
<rect x="354.20" y="304.70" width="1.60" height="5.20" fill="#7cb82f" />
<rect x="360.90" y="304.70" width="1.60" height="5.20" fill="#90a850" />
<rect x="363.20" y="304.70" width="1.60" height="5.20" fill="#7cb82f" />
<rect x="373.20" y="304.70" width="1.60" height="5.20" fill="#9f88c8" />
<rect x="376.20" y="304.70" width="1.60" height="5.20" fill="#9f88c8" />
<line x1="319.80" y1="309.90" x2="319.80" y2="310.90" stroke="#000" stroke-width="0.5" />
<text x="319.80" y="314.50" font-size="3.2" text-anchor="middle" font-weight="normal" fill="#333" stroke="#333" stroke-width="0.08" >0</text>
<line x1="327.36" y1="309.90" x2="327.36" y2="310.90" stroke="#000" stroke-width="0.5" />
<text x="327.36" y="314.50" font-size="3.2" text-anchor="middle" font-weight="normal" fill="#333" stroke="#333" stroke-width="0.08" >2</text>
<line x1="334.92" y1="309.90" x2="334.92" y2="310.90" stroke="#000" stroke-width="0.5" />
<text x="334.92" y="314.50" font-size="3.2" text-anchor="middle" font-weight="normal" fill="#333" stroke="#333" stroke-width="0.08" >4</text>
<line x1="342.48" y1="309.90" x2="342.48" y2="310.90" stroke="#000" stroke-width="0.5" />
<text x="342.48" y="314.50" font-size="3.2" text-anchor="middle" font-weight="normal" fill="#333" stroke="#333" stroke-width="0.08" >6</text>
<line x1="350.04" y1="309.90" x2="350.04" y2="310.90" stroke="#000" stroke-width="0.5" />
<text x="350.04" y="314.50" font-size="3.2" text-anchor="middle" font-weight="normal" fill="#333" stroke="#333" stroke-width="0.08" >8</text>
<line x1="357.60" y1="309.90" x2="357.60" y2="310.90" stroke="#000" stroke-width="0.5" />
<text x="357.60" y="314.50" font-size="3.2" text-anchor="middle" font-weight="normal" fill="#333" stroke="#333" stroke-width="0.08" >10</text>
<line x1="365.16" y1="309.90" x2="365.16" y2="310.90" stroke="#000" stroke-width="0.5" />
<text x="365.16" y="314.50" font-size="3.2" text-anchor="middle" font-weight="normal" fill="#333" stroke="#333" stroke-width="0.08" >12</text>
<line x1="372.72" y1="309.90" x2="372.72" y2="310.90" stroke="#000" stroke-width="0.5" />
<text x="372.72" y="314.50" font-size="3.2" text-anchor="middle" font-weight="normal" fill="#333" stroke="#333" stroke-width="0.08" >14</text>
<line x1="380.28" y1="309.90" x2="380.28" y2="310.90" stroke="#000" stroke-width="0.5" />
<text x="380.28" y="314.50" font-size="3.2" text-anchor="middle" font-weight="normal" fill="#333" stroke="#333" stroke-width="0.08" >16</text>
<line x1="387.84" y1="309.90" x2="387.84" y2="310.90" stroke="#000" stroke-width="0.5" />
<text x="387.84" y="314.50" font-size="3.2" text-anchor="middle" font-weight="normal" fill="#333" stroke="#333" stroke-width="0.08" >18</text>
<line x1="395.40" y1="309.90" x2="395.40" y2="310.90" stroke="#000" stroke-width="0.5" />
<text x="395.40" y="314.50" font-size="3.2" text-anchor="middle" font-weight="normal" fill="#333" stroke="#333" stroke-width="0.08" >20</text>
<text x="357.60" y="319.30" font-size="4.2" text-anchor="middle" font-weight="normal" fill="#222" stroke="#222" stroke-width="0.08" >Time(years)</text>
<text x="283.50" y="301.00" font-size="3.2" text-anchor="middle" font-weight="normal" fill="#333" stroke="#333" stroke-width="0.08" transform="rotate(-90 283.5 301)">n.censor</text>
</svg></body></html>
